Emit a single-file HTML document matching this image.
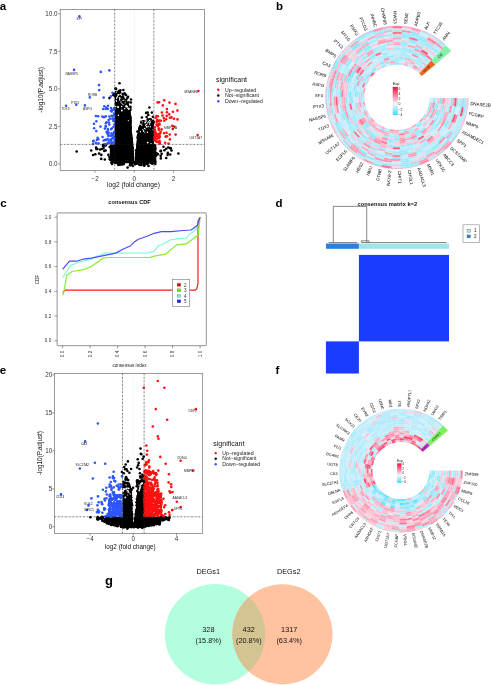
<!DOCTYPE html>
<html><head><meta charset="utf-8"><title>Figure</title>
<style>html,body{margin:0;padding:0;background:#fff;width:491px;height:685px;overflow:hidden}svg{display:block;will-change:transform}text{font-family:'Liberation Sans', sans-serif}</style>
</head><body>
<svg width="491" height="685" viewBox="0 0 491 685" font-family="'Liberation Sans', sans-serif">
<rect width="491" height="685" fill="#fff"/>
<text x="-0.3" y="9.6" font-size="11.5" font-weight="bold">a</text>
<text x="276" y="9.6" font-size="11.5" font-weight="bold">b</text>
<text x="0.2" y="207.2" font-size="11.5" font-weight="bold">c</text>
<text x="275.6" y="207.4" font-size="11.5" font-weight="bold">d</text>
<text x="-0.3" y="373.8" font-size="11.5" font-weight="bold">e</text>
<text x="275.6" y="373.7" font-size="11.5" font-weight="bold">f</text>
<text x="105" y="585.3" font-size="13" font-weight="bold">g</text>
<clipPath id="ca"><rect x="60.2" y="9.4" width="144.4" height="161.1"/></clipPath>
<line x1="134.3" y1="9.4" x2="134.3" y2="170.5" stroke="#d8d8d8" stroke-width="0.5" stroke-dasharray="1 1"/>
<g clip-path="url(#ca)">
<path d="M109.8 144.5 L114.7 144.5 L114.7 93.4 L116.1 91.9 L121.4 97.9 L125.1 101.6 L128.4 105.4 L130.4 109.1 L131 114.4 L131.6 122.8 L131.9 131.5 L132.9 139.4 L133.7 149 L134.2 157.2 L134.4 161 L134.8 161 L135.3 155 L136.1 146 L137 136.9 L138 129.4 L140.4 121.9 L144.1 120.4 L150 120.4 L153.9 121.2 L153.9 144.5 L156.3 144.5 L156.3 161.5 L154.7 161.8 L153.2 162 L151.6 162.2 L150.1 162.4 L148.5 162.6 L147 162.8 L145.4 162.9 L143.9 163 L142.3 163.1 L140.8 163.2 L139.2 163.3 L137.7 163.4 L136.1 163.4 L134.6 163.4 L133 163.4 L131.5 163.4 L129.9 163.3 L128.4 163.3 L126.8 163.2 L125.3 163.1 L123.7 163 L122.2 162.8 L120.6 162.7 L119.1 162.5 L117.5 162.3 L116 162.1 L114.4 161.9 L112.9 161.6 L111.3 161.3 L109.8 161.1Z" fill="#000"/>
<g fill="#000"><circle cx="125.7" cy="104.4" r="1.3"/><circle cx="127.5" cy="105.7" r="1.3"/><circle cx="147.8" cy="119.4" r="1.3"/><circle cx="136.7" cy="152.6" r="1.3"/><circle cx="138" cy="150.6" r="1.3"/><circle cx="150.3" cy="123.2" r="1.3"/><circle cx="130.5" cy="128" r="1.3"/><circle cx="139.6" cy="128.9" r="1.3"/><circle cx="124.4" cy="101.5" r="1.3"/><circle cx="137.2" cy="153.3" r="1.3"/><circle cx="118.1" cy="92.2" r="1.3"/><circle cx="143.2" cy="121.4" r="1.3"/><circle cx="129.4" cy="109.6" r="1.3"/><circle cx="109.4" cy="98.1" r="1.3"/><circle cx="130" cy="125.7" r="1.3"/><circle cx="120.4" cy="97" r="1.3"/><circle cx="137.6" cy="144.3" r="1.3"/><circle cx="141.5" cy="124.5" r="1.3"/><circle cx="122.8" cy="96.5" r="1.3"/><circle cx="132" cy="147.7" r="1.3"/><circle cx="129.7" cy="122.8" r="1.3"/><circle cx="131.5" cy="142.5" r="1.3"/><circle cx="120.1" cy="92.6" r="1.3"/><circle cx="138.6" cy="141.3" r="1.3"/><circle cx="139.3" cy="130.2" r="1.3"/><circle cx="122.1" cy="107.3" r="1.3"/><circle cx="137.6" cy="145.8" r="1.3"/><circle cx="150.7" cy="119.7" r="1.3"/><circle cx="119" cy="98.6" r="1.3"/><circle cx="131.7" cy="149.7" r="1.3"/><circle cx="113.6" cy="95.2" r="1.3"/><circle cx="130.2" cy="128.5" r="1.3"/><circle cx="130" cy="126.3" r="1.3"/><circle cx="116.5" cy="106.9" r="1.3"/><circle cx="137.3" cy="154.6" r="1.3"/><circle cx="131" cy="99.5" r="1.3"/><circle cx="138.7" cy="138.9" r="1.3"/><circle cx="138.6" cy="135.2" r="1.3"/><circle cx="131.9" cy="151.5" r="1.3"/><circle cx="130.4" cy="119.7" r="1.3"/><circle cx="130.3" cy="121.2" r="1.3"/><circle cx="136" cy="150.3" r="1.3"/><circle cx="121.6" cy="100.1" r="1.3"/><circle cx="125.2" cy="106.9" r="1.3"/><circle cx="141.9" cy="117.5" r="1.3"/><circle cx="130.2" cy="129.4" r="1.3"/><circle cx="141.4" cy="124.8" r="1.3"/><circle cx="139.2" cy="133.8" r="1.3"/><circle cx="131.7" cy="155.8" r="1.3"/><circle cx="132" cy="148" r="1.3"/><circle cx="129.9" cy="132.5" r="1.3"/><circle cx="132.4" cy="147.6" r="1.3"/><circle cx="130.9" cy="135.9" r="1.3"/><circle cx="132.5" cy="156.2" r="1.3"/><circle cx="117.4" cy="95.6" r="1.3"/><circle cx="152.9" cy="116.8" r="1.3"/><circle cx="129" cy="113.1" r="1.3"/><circle cx="129.4" cy="121.8" r="1.3"/><circle cx="131" cy="137.5" r="1.3"/><circle cx="127.6" cy="107.5" r="1.3"/><circle cx="119.6" cy="91.1" r="1.3"/><circle cx="136.4" cy="160.9" r="1.3"/><circle cx="141.5" cy="123" r="1.3"/><circle cx="146.5" cy="123" r="1.3"/><circle cx="127.4" cy="103.4" r="1.3"/><circle cx="139.5" cy="130.3" r="1.3"/><circle cx="146.8" cy="128.4" r="1.3"/><circle cx="136.9" cy="151.7" r="1.3"/><circle cx="138.3" cy="143.2" r="1.3"/><circle cx="132.1" cy="148.8" r="1.3"/><circle cx="129.3" cy="109.4" r="1.3"/><circle cx="128.4" cy="108.3" r="1.3"/><circle cx="115.4" cy="96.6" r="1.3"/><circle cx="144.9" cy="123.2" r="1.3"/><circle cx="131.7" cy="144.5" r="1.3"/><circle cx="119.4" cy="97.5" r="1.3"/><circle cx="131.9" cy="146.4" r="1.3"/><circle cx="136.3" cy="153.6" r="1.3"/><circle cx="132.5" cy="156.2" r="1.3"/><circle cx="114.2" cy="93.8" r="1.3"/><circle cx="117" cy="92.4" r="1.3"/><circle cx="132.8" cy="160.7" r="1.3"/><circle cx="132.8" cy="157.3" r="1.3"/><circle cx="129.9" cy="132.2" r="1.3"/><circle cx="138" cy="137.4" r="1.3"/><circle cx="130.9" cy="141.6" r="1.3"/><circle cx="148.9" cy="122.6" r="1.3"/><circle cx="120.4" cy="90.2" r="1.3"/><circle cx="131.6" cy="144.4" r="1.3"/><circle cx="136.3" cy="154.6" r="1.3"/><circle cx="136.8" cy="151.4" r="1.3"/><circle cx="129.3" cy="114.8" r="1.3"/><circle cx="139.1" cy="136.3" r="1.3"/><circle cx="130.4" cy="128" r="1.3"/><circle cx="122.3" cy="99.9" r="1.3"/><circle cx="141.5" cy="121.7" r="1.3"/><circle cx="139.9" cy="127.6" r="1.3"/><circle cx="138.9" cy="132.5" r="1.3"/><circle cx="140.1" cy="139.9" r="1.3"/><circle cx="130.2" cy="132.8" r="1.3"/><circle cx="132.7" cy="159.9" r="1.3"/><circle cx="132.3" cy="159.2" r="1.3"/><circle cx="140" cy="126.9" r="1.3"/><circle cx="131.2" cy="138" r="1.3"/><circle cx="132.3" cy="155.8" r="1.3"/><circle cx="136.3" cy="157.3" r="1.3"/><circle cx="132.7" cy="157" r="1.3"/><circle cx="129.6" cy="128.5" r="1.3"/><circle cx="130.3" cy="127.3" r="1.3"/><circle cx="131.7" cy="144.1" r="1.3"/><circle cx="145.9" cy="123.8" r="1.3"/><circle cx="150.2" cy="122.7" r="1.3"/><circle cx="132" cy="160" r="1.3"/><circle cx="136.2" cy="159.7" r="1.3"/><circle cx="132.7" cy="148.1" r="1.3"/><circle cx="153.1" cy="123.2" r="1.3"/><circle cx="127.9" cy="106.8" r="1.3"/><circle cx="123.1" cy="103.5" r="1.3"/><circle cx="137.2" cy="158.4" r="1.3"/><circle cx="130.8" cy="135.9" r="1.3"/><circle cx="129" cy="110.9" r="1.3"/><circle cx="130" cy="125.7" r="1.3"/><circle cx="116.1" cy="94.5" r="1.3"/><circle cx="137.6" cy="137.4" r="1.3"/><circle cx="129.1" cy="118.9" r="1.3"/><circle cx="129.8" cy="118.5" r="1.3"/><circle cx="152.9" cy="124.1" r="1.3"/><circle cx="142.5" cy="123.5" r="1.3"/><circle cx="125.1" cy="109.6" r="1.3"/><circle cx="138.7" cy="154.9" r="1.3"/><circle cx="138.7" cy="146.4" r="1.3"/><circle cx="130.9" cy="102.5" r="1.3"/><circle cx="129.8" cy="128.4" r="1.3"/><circle cx="136.9" cy="155.3" r="1.3"/><circle cx="132.1" cy="157" r="1.3"/><circle cx="123.9" cy="98.7" r="1.3"/><circle cx="136.8" cy="159.5" r="1.3"/><circle cx="121.7" cy="100.2" r="1.3"/><circle cx="130.2" cy="122.3" r="1.3"/><circle cx="120.5" cy="97.4" r="1.3"/><circle cx="139.6" cy="137.3" r="1.3"/><circle cx="144.9" cy="122.6" r="1.3"/><circle cx="140.4" cy="126.9" r="1.3"/><circle cx="116.2" cy="92" r="1.3"/><circle cx="139.5" cy="137.6" r="1.3"/><circle cx="137.6" cy="148.5" r="1.3"/><circle cx="122.7" cy="94.1" r="1.3"/><circle cx="131.2" cy="139.6" r="1.3"/><circle cx="130.3" cy="117" r="1.3"/><circle cx="127.4" cy="108" r="1.3"/><circle cx="122.9" cy="96.9" r="1.3"/><circle cx="128.1" cy="105.9" r="1.3"/><circle cx="131.9" cy="145.7" r="1.3"/><circle cx="121.6" cy="99.6" r="1.3"/><circle cx="141.2" cy="124.5" r="1.3"/><circle cx="123.4" cy="90" r="1.3"/><circle cx="120" cy="101.1" r="1.3"/><circle cx="132.7" cy="156.5" r="1.3"/><circle cx="132" cy="159.5" r="1.3"/><circle cx="132.3" cy="160.2" r="1.3"/><circle cx="136.6" cy="159.3" r="1.3"/><circle cx="118.1" cy="94.1" r="1.3"/><circle cx="130.6" cy="118" r="1.3"/><circle cx="141.5" cy="124.1" r="1.3"/><circle cx="137.1" cy="154" r="1.3"/><circle cx="132.5" cy="153.5" r="1.3"/><circle cx="138.1" cy="141.8" r="1.3"/><circle cx="129.1" cy="121.7" r="1.3"/><circle cx="141.6" cy="123.3" r="1.3"/><circle cx="137.2" cy="152.4" r="1.3"/><circle cx="138.4" cy="139.8" r="1.3"/><circle cx="130.3" cy="123.8" r="1.3"/><circle cx="136.7" cy="159.5" r="1.3"/><circle cx="139.6" cy="129.6" r="1.3"/><circle cx="131.9" cy="142.8" r="1.3"/><circle cx="132.8" cy="159.6" r="1.3"/><circle cx="131.7" cy="155.3" r="1.3"/><circle cx="131.1" cy="142.1" r="1.3"/><circle cx="138.1" cy="135.4" r="1.3"/><circle cx="129.5" cy="121.4" r="1.3"/><circle cx="129.3" cy="132.5" r="1.3"/><circle cx="115.1" cy="96" r="1.3"/><circle cx="132.4" cy="155.7" r="1.3"/><circle cx="143.6" cy="121.9" r="1.3"/><circle cx="132.9" cy="158.8" r="1.3"/><circle cx="118.9" cy="91.1" r="1.3"/><circle cx="132.6" cy="159.5" r="1.3"/><circle cx="130.4" cy="132.4" r="1.3"/><circle cx="116.6" cy="92.5" r="1.3"/><circle cx="130.2" cy="120.7" r="1.3"/><circle cx="131.4" cy="140.2" r="1.3"/><circle cx="139.1" cy="136.8" r="1.3"/><circle cx="132.4" cy="157.5" r="1.3"/><circle cx="132.1" cy="153.5" r="1.3"/><circle cx="149.5" cy="127.7" r="1.3"/><circle cx="132.1" cy="154.3" r="1.3"/><circle cx="136.8" cy="154.4" r="1.3"/><circle cx="128.9" cy="112.3" r="1.3"/><circle cx="129.8" cy="123.4" r="1.3"/><circle cx="129" cy="111.7" r="1.3"/><circle cx="145.5" cy="123.6" r="1.3"/><circle cx="136.4" cy="159" r="1.3"/><circle cx="132.5" cy="159.6" r="1.3"/><circle cx="126" cy="95.1" r="1.3"/><circle cx="130.7" cy="134.2" r="1.3"/><circle cx="121.4" cy="101.7" r="1.3"/><circle cx="127.2" cy="107.7" r="1.3"/><circle cx="137.8" cy="151.2" r="1.3"/><circle cx="128.6" cy="102.3" r="1.3"/><circle cx="140.1" cy="134.5" r="1.3"/><circle cx="150.4" cy="119.2" r="1.3"/><circle cx="139.4" cy="131.7" r="1.3"/><circle cx="136.9" cy="151.4" r="1.3"/><circle cx="131.8" cy="142.4" r="1.3"/><circle cx="128.9" cy="117.9" r="1.3"/><circle cx="129.3" cy="118.9" r="1.3"/><circle cx="137.9" cy="147" r="1.3"/><circle cx="130.2" cy="141" r="1.3"/><circle cx="146" cy="123.6" r="1.3"/><circle cx="150" cy="119.4" r="1.3"/><circle cx="153.6" cy="122" r="1.3"/><circle cx="119.7" cy="97.3" r="1.3"/><circle cx="131.4" cy="146.8" r="1.3"/><circle cx="140.2" cy="127.9" r="1.3"/><circle cx="130.5" cy="106.9" r="1.3"/><circle cx="129" cy="108.7" r="1.3"/><circle cx="128.9" cy="119.5" r="1.3"/><circle cx="138.5" cy="140" r="1.3"/><circle cx="130.1" cy="108.6" r="1.3"/><circle cx="118.3" cy="93.8" r="1.3"/><circle cx="138.1" cy="143.1" r="1.3"/><circle cx="130.6" cy="135" r="1.3"/><circle cx="137.7" cy="147.2" r="1.3"/><circle cx="131.4" cy="142.8" r="1.3"/><circle cx="138.2" cy="142.4" r="1.3"/><circle cx="130.6" cy="135.6" r="1.3"/><circle cx="125.8" cy="108.2" r="1.3"/><circle cx="129.2" cy="122.4" r="1.3"/><circle cx="132.7" cy="156.7" r="1.3"/><circle cx="141.5" cy="124.5" r="1.3"/><circle cx="132.6" cy="153.9" r="1.3"/><circle cx="138.2" cy="150.8" r="1.3"/><circle cx="137.4" cy="131.5" r="1.3"/><circle cx="129.8" cy="115.2" r="1.3"/><circle cx="132.7" cy="151.8" r="1.3"/><circle cx="131.2" cy="138.6" r="1.3"/><circle cx="129.5" cy="130.3" r="1.3"/><circle cx="128.1" cy="96.8" r="1.3"/><circle cx="139.5" cy="128.9" r="1.3"/><circle cx="149.4" cy="107.5" r="1.3"/><circle cx="113.6" cy="94.6" r="1.3"/><circle cx="138.4" cy="135.3" r="1.3"/><circle cx="129.7" cy="126.4" r="1.3"/><circle cx="130.9" cy="134.9" r="1.3"/><circle cx="132.1" cy="158.8" r="1.3"/><circle cx="140.7" cy="125.6" r="1.3"/><circle cx="126.1" cy="106.8" r="1.3"/><circle cx="125.8" cy="103.6" r="1.3"/><circle cx="140.2" cy="127.7" r="1.3"/><circle cx="146.6" cy="117" r="1.3"/><circle cx="147.7" cy="112.5" r="1.3"/><circle cx="119.5" cy="91.2" r="1.3"/><circle cx="118.5" cy="92.5" r="1.3"/><circle cx="126.2" cy="99.7" r="1.3"/><circle cx="119.5" cy="83.2" r="1.3"/><circle cx="148.3" cy="114.9" r="1.3"/><circle cx="125.4" cy="94.5" r="1.3"/><circle cx="117.9" cy="93.7" r="1.3"/><circle cx="149.2" cy="120.4" r="1.3"/><circle cx="153.1" cy="120.8" r="1.3"/><circle cx="115.5" cy="88.6" r="1.3"/><circle cx="126.6" cy="102.4" r="1.3"/><circle cx="127.6" cy="104.2" r="1.3"/><circle cx="120.1" cy="96.4" r="1.3"/><circle cx="105.6" cy="150.5" r="1.3"/><circle cx="160.8" cy="150.7" r="1.3"/><circle cx="104.3" cy="150.9" r="1.3"/><circle cx="109.3" cy="157" r="1.3"/><circle cx="154.7" cy="159" r="1.3"/><circle cx="163.5" cy="146.8" r="1.3"/><circle cx="156.4" cy="153.4" r="1.3"/><circle cx="105.8" cy="145.3" r="1.3"/><circle cx="101.2" cy="158.9" r="1.3"/><circle cx="95.3" cy="154.2" r="1.3"/><circle cx="96.3" cy="149" r="1.3"/><circle cx="103.1" cy="144.8" r="1.3"/><circle cx="153.9" cy="159.5" r="1.3"/><circle cx="112.3" cy="148.5" r="1.3"/><circle cx="153.7" cy="160.7" r="1.3"/><circle cx="103.5" cy="148" r="1.3"/><circle cx="104.7" cy="145.7" r="1.3"/><circle cx="153.6" cy="149.5" r="1.3"/><circle cx="167.8" cy="152.9" r="1.3"/><circle cx="108.3" cy="154.7" r="1.3"/><circle cx="100.1" cy="149.5" r="1.3"/><circle cx="160.8" cy="158.4" r="1.3"/><circle cx="109.7" cy="147" r="1.3"/><circle cx="164.4" cy="150.3" r="1.3"/><circle cx="170.8" cy="148.4" r="1.3"/><circle cx="170" cy="148.1" r="1.3"/><circle cx="153.4" cy="161.3" r="1.3"/><circle cx="154.3" cy="156.5" r="1.3"/><circle cx="104.8" cy="159.5" r="1.3"/><circle cx="154.9" cy="148.9" r="1.3"/><circle cx="161.7" cy="153.7" r="1.3"/><circle cx="166.2" cy="148.8" r="1.3"/><circle cx="112.7" cy="146.5" r="1.3"/><circle cx="153.4" cy="152.3" r="1.3"/><circle cx="111.1" cy="146.4" r="1.3"/><circle cx="112.3" cy="156.2" r="1.3"/><circle cx="97.4" cy="149.1" r="1.3"/><circle cx="109.7" cy="159.3" r="1.3"/><circle cx="166.2" cy="158" r="1.3"/><circle cx="111.6" cy="156.6" r="1.3"/><circle cx="170.2" cy="154.5" r="1.3"/><circle cx="110.9" cy="160.2" r="1.3"/><circle cx="153.7" cy="149.9" r="1.3"/><circle cx="153.7" cy="151.5" r="1.3"/><circle cx="101.3" cy="154.9" r="1.3"/><circle cx="160.7" cy="151.3" r="1.3"/><circle cx="99.1" cy="153.6" r="1.3"/><circle cx="157.3" cy="153.8" r="1.3"/><circle cx="155.4" cy="148.5" r="1.3"/><circle cx="102" cy="149" r="1.3"/><circle cx="156.3" cy="155.6" r="1.3"/><circle cx="158" cy="154.2" r="1.3"/><circle cx="154.4" cy="145.2" r="1.3"/><circle cx="160.7" cy="155.9" r="1.3"/><circle cx="168.2" cy="147.5" r="1.3"/><circle cx="152.2" cy="162.3" r="1.3"/><circle cx="144.2" cy="165.8" r="1.3"/><circle cx="131.9" cy="163.4" r="1.3"/><circle cx="135" cy="163.9" r="1.3"/><circle cx="111.3" cy="162.7" r="1.3"/><circle cx="148.5" cy="165.9" r="1.3"/><circle cx="144.6" cy="165" r="1.3"/><circle cx="131.3" cy="163.6" r="1.3"/><circle cx="123.2" cy="164.3" r="1.3"/><circle cx="136.8" cy="163.7" r="1.3"/><circle cx="115.7" cy="162.8" r="1.3"/><circle cx="118.4" cy="164.9" r="1.3"/><circle cx="120.1" cy="164.8" r="1.3"/><circle cx="135" cy="164.2" r="1.3"/><circle cx="132.8" cy="166" r="1.3"/><circle cx="112.1" cy="164" r="1.3"/><circle cx="134.8" cy="163.5" r="1.3"/><circle cx="155.4" cy="161.8" r="1.3"/><circle cx="143.6" cy="163.9" r="1.3"/><circle cx="121.8" cy="164.2" r="1.3"/><circle cx="132.2" cy="163.5" r="1.3"/><circle cx="121.3" cy="163.3" r="1.3"/><circle cx="130" cy="165.2" r="1.3"/><circle cx="119" cy="162.5" r="1.3"/><circle cx="148.5" cy="162.7" r="1.3"/><circle cx="139.1" cy="164.4" r="1.3"/><circle cx="155.1" cy="162.5" r="1.3"/><circle cx="151" cy="162.9" r="1.3"/><circle cx="117.8" cy="163" r="1.3"/><circle cx="117.5" cy="163.2" r="1.3"/><circle cx="141.2" cy="163.3" r="1.3"/><circle cx="146.5" cy="163.2" r="1.3"/><circle cx="154.7" cy="161.8" r="1.3"/><circle cx="113.5" cy="162" r="1.3"/><circle cx="121.7" cy="163" r="1.3"/><circle cx="152" cy="162.3" r="1.3"/><circle cx="112.2" cy="162" r="1.3"/><circle cx="135.6" cy="163.8" r="1.3"/><circle cx="145" cy="163.1" r="1.3"/><circle cx="120.9" cy="162.9" r="1.3"/><circle cx="120.2" cy="163" r="1.3"/><circle cx="152" cy="162.5" r="1.3"/><circle cx="115.2" cy="162.8" r="1.3"/><circle cx="131" cy="163.4" r="1.3"/><circle cx="155.3" cy="164" r="1.3"/><circle cx="122" cy="164.2" r="1.3"/><circle cx="130.9" cy="164.7" r="1.3"/><circle cx="140.1" cy="164.9" r="1.3"/><circle cx="130.3" cy="163.5" r="1.3"/><circle cx="147.2" cy="164.1" r="1.3"/><circle cx="130.3" cy="165.1" r="1.3"/><circle cx="141.6" cy="165" r="1.3"/><circle cx="113.7" cy="161.9" r="1.3"/><circle cx="121.6" cy="163.1" r="1.3"/><circle cx="130.5" cy="164.5" r="1.3"/><circle cx="153.3" cy="162.7" r="1.3"/><circle cx="127.6" cy="167.6" r="1.3"/><circle cx="146.8" cy="163.2" r="1.3"/><circle cx="152.3" cy="163.8" r="1.3"/><circle cx="124" cy="163.8" r="1.3"/><circle cx="116.1" cy="88.9" r="1.3"/><circle cx="124.5" cy="93.4" r="1.3"/><circle cx="127.4" cy="97.9" r="1.3"/><circle cx="130.4" cy="109.9" r="1.3"/><circle cx="146.1" cy="112.9" r="1.3"/><circle cx="151.9" cy="112.6" r="1.3"/><circle cx="76.7" cy="151.5" r="1.3"/><circle cx="91.2" cy="150.5" r="1.3"/><circle cx="96.1" cy="147.5" r="1.3"/><circle cx="167.6" cy="155" r="1.3"/><circle cx="171.5" cy="150.5" r="1.3"/><circle cx="178.4" cy="153.5" r="1.3"/><circle cx="102.9" cy="146" r="1.3"/><circle cx="93.1" cy="155" r="1.3"/></g>
<g fill="#fff"><circle cx="116.3" cy="100.4" r="0.6"/><circle cx="128.1" cy="108.2" r="0.8"/><circle cx="148" cy="126.6" r="0.8"/><circle cx="143.7" cy="131.4" r="0.7"/><circle cx="118.1" cy="107.2" r="0.8"/><circle cx="116.9" cy="97.8" r="0.7"/><circle cx="121" cy="102" r="0.7"/><circle cx="150.2" cy="122" r="0.5"/><circle cx="148.5" cy="122" r="0.8"/><circle cx="142.3" cy="121.8" r="0.6"/><circle cx="128.6" cy="109.2" r="0.7"/><circle cx="145.5" cy="128.9" r="0.5"/><circle cx="125.1" cy="102.8" r="0.6"/><circle cx="123.1" cy="100.4" r="0.7"/><circle cx="124.8" cy="108.7" r="0.7"/><circle cx="119.6" cy="99" r="0.7"/><circle cx="126.5" cy="105.9" r="0.6"/><circle cx="119.8" cy="97.9" r="0.7"/><circle cx="149.6" cy="120.5" r="0.7"/><circle cx="118.4" cy="115.2" r="0.7"/><circle cx="127.4" cy="106.4" r="0.6"/><circle cx="152.9" cy="129.7" r="0.5"/><circle cx="150.3" cy="126.8" r="0.7"/><circle cx="116.4" cy="98.6" r="0.5"/><circle cx="118.2" cy="106.9" r="0.9"/><circle cx="149.8" cy="122.4" r="0.6"/><circle cx="116.4" cy="92.2" r="0.6"/><circle cx="121.6" cy="106.5" r="0.7"/><circle cx="144.8" cy="132.8" r="0.5"/><circle cx="146.5" cy="126.9" r="0.8"/><circle cx="126.4" cy="106.5" r="0.9"/><circle cx="126.3" cy="106.7" r="0.8"/><circle cx="146.6" cy="124.4" r="0.7"/><circle cx="121.9" cy="110.5" r="0.9"/><circle cx="121.9" cy="103.3" r="0.6"/><circle cx="126" cy="105.7" r="0.7"/><circle cx="150.3" cy="121.7" r="0.5"/><circle cx="151" cy="143.4" r="0.6"/><circle cx="145.2" cy="122.5" r="0.9"/><circle cx="119.7" cy="100.1" r="0.7"/><circle cx="117.4" cy="96.8" r="0.7"/><circle cx="144.5" cy="128.4" r="0.7"/><circle cx="123" cy="104.6" r="0.7"/><circle cx="147.5" cy="122.9" r="0.7"/><circle cx="115.6" cy="106.5" r="0.7"/><circle cx="140.4" cy="131.7" r="0.7"/><circle cx="120" cy="98.4" r="0.5"/><circle cx="143.7" cy="130.3" r="0.6"/><circle cx="140.2" cy="124.3" r="0.8"/><circle cx="127.8" cy="107.9" r="0.6"/><circle cx="142.7" cy="129.6" r="0.6"/><circle cx="149.7" cy="124.1" r="0.8"/><circle cx="117.3" cy="107.1" r="0.5"/><circle cx="129.5" cy="109.1" r="0.5"/><circle cx="147.4" cy="132.3" r="0.8"/><circle cx="119.3" cy="97.5" r="0.5"/><circle cx="141.7" cy="125.2" r="0.6"/><circle cx="118.2" cy="95" r="0.9"/><circle cx="141.7" cy="124" r="0.6"/><circle cx="146.1" cy="121.3" r="0.8"/><circle cx="145.7" cy="125.2" r="0.8"/><circle cx="116.5" cy="101.6" r="0.5"/><circle cx="129.7" cy="108.5" r="0.5"/><circle cx="147.7" cy="142.6" r="0.9"/><circle cx="128.3" cy="120.6" r="0.6"/></g>
<g fill="#2e55ff"><circle cx="111.6" cy="111.4" r="1.3"/><circle cx="113.9" cy="109.7" r="1.3"/><circle cx="109.3" cy="124.6" r="1.3"/><circle cx="114.3" cy="124.5" r="1.3"/><circle cx="107.5" cy="133.5" r="1.3"/><circle cx="114.1" cy="141.6" r="1.3"/><circle cx="114" cy="132.8" r="1.3"/><circle cx="107.6" cy="143.3" r="1.3"/><circle cx="111.6" cy="133.3" r="1.3"/><circle cx="111.7" cy="128.6" r="1.3"/><circle cx="110.4" cy="139.6" r="1.3"/><circle cx="107.8" cy="129" r="1.3"/><circle cx="112.1" cy="110" r="1.3"/><circle cx="108.7" cy="140.8" r="1.3"/><circle cx="105.9" cy="126.6" r="1.3"/><circle cx="112.2" cy="138.6" r="1.3"/><circle cx="114.1" cy="138.4" r="1.3"/><circle cx="112.6" cy="135.2" r="1.3"/><circle cx="105.7" cy="126" r="1.3"/><circle cx="113.3" cy="134.3" r="1.3"/><circle cx="111.4" cy="142.7" r="1.3"/><circle cx="111.1" cy="129.3" r="1.3"/><circle cx="106.6" cy="132.1" r="1.3"/><circle cx="108.9" cy="122.5" r="1.3"/><circle cx="113.4" cy="127" r="1.3"/><circle cx="111.2" cy="140.8" r="1.3"/><circle cx="114.3" cy="108.6" r="1.3"/><circle cx="114" cy="113.6" r="1.3"/><circle cx="112" cy="142.8" r="1.3"/><circle cx="105.9" cy="123.3" r="1.3"/><circle cx="111.6" cy="115.7" r="1.3"/><circle cx="108.7" cy="132.7" r="1.3"/><circle cx="108.6" cy="120.1" r="1.3"/><circle cx="113.5" cy="121" r="1.3"/><circle cx="106.5" cy="122.2" r="1.3"/><circle cx="107.8" cy="108.9" r="1.3"/><circle cx="107.8" cy="130.8" r="1.3"/><circle cx="110.2" cy="118.8" r="1.3"/><circle cx="109.5" cy="143" r="1.3"/><circle cx="114.1" cy="137.6" r="1.3"/><circle cx="107.6" cy="139.1" r="1.3"/><circle cx="112.4" cy="116.4" r="1.3"/><circle cx="113.7" cy="137.3" r="1.3"/><circle cx="112.8" cy="143.5" r="1.3"/><circle cx="108.4" cy="136" r="1.3"/><circle cx="111.6" cy="135.6" r="1.3"/><circle cx="114.1" cy="115.4" r="1.3"/><circle cx="113.7" cy="137.1" r="1.3"/><circle cx="108.6" cy="135.1" r="1.3"/><circle cx="110.7" cy="135.7" r="1.3"/><circle cx="102.6" cy="137" r="1.3"/><circle cx="105.2" cy="144.1" r="1.3"/><circle cx="114.2" cy="131.7" r="1.3"/><circle cx="95.9" cy="116" r="1.3"/><circle cx="96.3" cy="131.1" r="1.3"/><circle cx="100.5" cy="126.6" r="1.3"/><circle cx="98.2" cy="116.2" r="1.3"/><circle cx="107.8" cy="133.4" r="1.3"/><circle cx="96.9" cy="139.7" r="1.3"/><circle cx="112.9" cy="119.3" r="1.3"/><circle cx="114.2" cy="119.5" r="1.3"/><circle cx="93.2" cy="140.9" r="1.3"/><circle cx="97.6" cy="137.8" r="1.3"/><circle cx="109.4" cy="116.5" r="1.3"/><circle cx="94" cy="123.7" r="1.3"/><circle cx="105.7" cy="116.4" r="1.3"/><circle cx="102.4" cy="116.6" r="1.3"/><circle cx="98.5" cy="143.4" r="1.3"/><circle cx="96.4" cy="121.3" r="1.3"/><circle cx="94.1" cy="128.2" r="1.3"/><circle cx="113.9" cy="120.3" r="1.3"/><circle cx="106" cy="140.1" r="1.3"/><circle cx="110.8" cy="140" r="1.3"/><circle cx="95.9" cy="142.9" r="1.3"/><circle cx="93.1" cy="143.9" r="1.3"/><circle cx="98.4" cy="139.3" r="1.3"/><circle cx="103.7" cy="140.6" r="1.3"/><circle cx="93.6" cy="141.1" r="1.3"/><circle cx="104.9" cy="128.6" r="1.3"/><circle cx="105.3" cy="139.7" r="1.3"/><circle cx="110.9" cy="96.4" r="1.3"/><circle cx="112.9" cy="118.5" r="1.3"/><circle cx="103.7" cy="97.6" r="1.3"/><circle cx="106.3" cy="107.6" r="1.3"/><circle cx="103.2" cy="109" r="1.3"/><circle cx="114.2" cy="108.4" r="1.3"/><circle cx="108.1" cy="105.7" r="1.3"/><circle cx="103.9" cy="117.3" r="1.3"/><circle cx="104.3" cy="106.3" r="1.3"/><circle cx="105.7" cy="109" r="1.3"/><circle cx="110.9" cy="110.8" r="1.3"/><circle cx="111.1" cy="108" r="1.3"/><circle cx="74.1" cy="69.9" r="1.3"/><circle cx="100.8" cy="71.9" r="1.3"/><circle cx="109.4" cy="70.4" r="1.3"/><circle cx="99" cy="85.1" r="1.3"/><circle cx="99.2" cy="90.1" r="1.3"/><circle cx="89.8" cy="97.4" r="1.3"/><circle cx="76.3" cy="104.8" r="1.3"/><circle cx="66.1" cy="105.8" r="1.3"/><circle cx="84.9" cy="105.4" r="1.3"/><circle cx="112.5" cy="92.8" r="1.3"/><circle cx="79.4" cy="16.4" r="1.3"/></g>
<g fill="#ff1010"><circle cx="158" cy="124.8" r="1.3"/><circle cx="155.1" cy="134.3" r="1.3"/><circle cx="157.5" cy="125.1" r="1.3"/><circle cx="158.8" cy="130" r="1.3"/><circle cx="158.5" cy="134.3" r="1.3"/><circle cx="159.5" cy="124.6" r="1.3"/><circle cx="157.7" cy="141.9" r="1.3"/><circle cx="156.7" cy="138.7" r="1.3"/><circle cx="155.2" cy="137.9" r="1.3"/><circle cx="159.7" cy="136.7" r="1.3"/><circle cx="156.7" cy="135.9" r="1.3"/><circle cx="155.2" cy="131.3" r="1.3"/><circle cx="156.6" cy="122.1" r="1.3"/><circle cx="158.1" cy="121" r="1.3"/><circle cx="160" cy="133.3" r="1.3"/><circle cx="154.3" cy="139.8" r="1.3"/><circle cx="154.8" cy="127.2" r="1.3"/><circle cx="154.9" cy="129.5" r="1.3"/><circle cx="156" cy="133.6" r="1.3"/><circle cx="159.2" cy="137.9" r="1.3"/><circle cx="155.1" cy="138.1" r="1.3"/><circle cx="160.6" cy="131.8" r="1.3"/><circle cx="155.8" cy="141.3" r="1.3"/><circle cx="154.5" cy="137.1" r="1.3"/><circle cx="158.1" cy="134.1" r="1.3"/><circle cx="159.6" cy="120.6" r="1.3"/><circle cx="157.7" cy="136.8" r="1.3"/><circle cx="159.5" cy="142.5" r="1.3"/><circle cx="159.2" cy="123.5" r="1.3"/><circle cx="159.3" cy="142.3" r="1.3"/><circle cx="157.8" cy="125.5" r="1.3"/><circle cx="156.6" cy="124.5" r="1.3"/><circle cx="155" cy="132.4" r="1.3"/><circle cx="157.7" cy="125.9" r="1.3"/><circle cx="156.6" cy="138.8" r="1.3"/><circle cx="158.8" cy="142" r="1.3"/><circle cx="156.3" cy="133.9" r="1.3"/><circle cx="159.4" cy="134.9" r="1.3"/><circle cx="166.7" cy="115.9" r="1.3"/><circle cx="169.5" cy="102.6" r="1.3"/><circle cx="164.3" cy="120.8" r="1.3"/><circle cx="154.6" cy="137.1" r="1.3"/><circle cx="159.3" cy="136.3" r="1.3"/><circle cx="165.7" cy="136.8" r="1.3"/><circle cx="166.9" cy="109.1" r="1.3"/><circle cx="155.6" cy="135" r="1.3"/><circle cx="165.1" cy="142.7" r="1.3"/><circle cx="157" cy="120.6" r="1.3"/><circle cx="162.8" cy="105.4" r="1.3"/><circle cx="166.9" cy="112.3" r="1.3"/><circle cx="161.6" cy="129.4" r="1.3"/><circle cx="174" cy="118.8" r="1.3"/><circle cx="175.6" cy="134.6" r="1.3"/><circle cx="156.4" cy="116" r="1.3"/><circle cx="156.6" cy="141.6" r="1.3"/><circle cx="162.6" cy="115.5" r="1.3"/><circle cx="161.9" cy="112.5" r="1.3"/><circle cx="164.1" cy="133.3" r="1.3"/><circle cx="166.1" cy="119.3" r="1.3"/><circle cx="157.2" cy="119.9" r="1.3"/><circle cx="157.6" cy="102.4" r="1.3"/><circle cx="166" cy="136.6" r="1.3"/><circle cx="155" cy="136.2" r="1.3"/><circle cx="160.9" cy="120.7" r="1.3"/><circle cx="169.2" cy="114.4" r="1.3"/><circle cx="163.8" cy="118.1" r="1.3"/><circle cx="166.5" cy="132.8" r="1.3"/><circle cx="158.7" cy="128.4" r="1.3"/><circle cx="169.9" cy="139.4" r="1.3"/><circle cx="168.5" cy="143.6" r="1.3"/><circle cx="157.9" cy="116.3" r="1.3"/><circle cx="172.9" cy="111.8" r="1.3"/><circle cx="169.7" cy="134.6" r="1.3"/><circle cx="177.5" cy="119.4" r="1.3"/><circle cx="175.5" cy="103.9" r="1.3"/><circle cx="159.1" cy="102.3" r="1.3"/><circle cx="155.7" cy="117.8" r="1.3"/><circle cx="159.5" cy="140.9" r="1.3"/><circle cx="166.9" cy="136.3" r="1.3"/><circle cx="172.3" cy="125.7" r="1.3"/><circle cx="159.8" cy="143.8" r="1.3"/><circle cx="169.9" cy="117.8" r="1.3"/><circle cx="172.8" cy="129.1" r="1.3"/><circle cx="198.4" cy="91.1" r="1.3"/><circle cx="197.6" cy="135" r="1.3"/><circle cx="174.3" cy="126.6" r="1.3"/><circle cx="164.3" cy="100.3" r="1.3"/><circle cx="177.4" cy="110.6" r="1.3"/><circle cx="171.5" cy="117.4" r="1.3"/></g>
</g>
<line x1="114.7" y1="9.4" x2="114.7" y2="170.5" stroke="#222" stroke-width="0.6" stroke-dasharray="1.6 0.8 0.4 0.8"/>
<line x1="153.9" y1="9.4" x2="153.9" y2="170.5" stroke="#222" stroke-width="0.6" stroke-dasharray="1.6 0.8 0.4 0.8"/>
<line x1="60.2" y1="144.4" x2="204.6" y2="144.4" stroke="#222" stroke-width="0.6" stroke-dasharray="1.6 0.8 0.4 0.8"/>
<text x="76.5" y="19.6" font-size="3.2" fill="#222">SPI</text>
<text x="65.5" y="74.6" font-size="3.2" fill="#222">NASSP5</text>
<text x="88" y="96.4" font-size="3.2" fill="#222">RORB</text>
<text x="71" y="103.6" font-size="3.2" fill="#222">PTX3</text>
<text x="61.2" y="110.2" font-size="3.2" fill="#222">TOX3</text>
<text x="83" y="109.7" font-size="3.2" fill="#222">ASPG</text>
<text x="184.5" y="92.6" font-size="3.2" fill="#222">MSANE6</text>
<text x="189.5" y="139.4" font-size="3.2" fill="#222">UGT1A7</text>
<text x="164" y="128.6" font-size="3.2" fill="#222">MMP12A</text>
<rect x="60.2" y="9.4" width="144.4" height="161.1" fill="none" stroke="#707070" stroke-width="0.7"/>
<line x1="58" y1="164" x2="60.2" y2="164" stroke="#555" stroke-width="0.6"/>
<text x="57.4" y="166.2" font-size="6.3" text-anchor="end" fill="#333">0.0</text>
<line x1="58" y1="126.4" x2="60.2" y2="126.4" stroke="#555" stroke-width="0.6"/>
<text x="57.4" y="128.6" font-size="6.3" text-anchor="end" fill="#333">2.5</text>
<line x1="58" y1="88.9" x2="60.2" y2="88.9" stroke="#555" stroke-width="0.6"/>
<text x="57.4" y="91.1" font-size="6.3" text-anchor="end" fill="#333">5.0</text>
<line x1="58" y1="51.3" x2="60.2" y2="51.3" stroke="#555" stroke-width="0.6"/>
<text x="57.4" y="53.5" font-size="6.3" text-anchor="end" fill="#333">7.5</text>
<line x1="58" y1="13.7" x2="60.2" y2="13.7" stroke="#555" stroke-width="0.6"/>
<text x="57.4" y="15.9" font-size="6.3" text-anchor="end" fill="#333">10.0</text>
<line x1="95.1" y1="170.5" x2="95.1" y2="172.7" stroke="#555" stroke-width="0.6"/>
<text x="95.1" y="180.8" font-size="6.3" text-anchor="middle" fill="#333">−2</text>
<line x1="134.3" y1="170.5" x2="134.3" y2="172.7" stroke="#555" stroke-width="0.6"/>
<text x="134.3" y="180.8" font-size="6.3" text-anchor="middle" fill="#333">0</text>
<line x1="173.5" y1="170.5" x2="173.5" y2="172.7" stroke="#555" stroke-width="0.6"/>
<text x="173.5" y="180.8" font-size="6.3" text-anchor="middle" fill="#333">2</text>
<text x="133.5" y="186.8" font-size="6.6" text-anchor="middle" fill="#111">log2 (fold change)</text>
<text x="42.8" y="89.8" font-size="6.6" text-anchor="middle" fill="#111" transform="rotate(-90 42.8 89.8)">-log10(P.adjust)</text>
<text x="215.9" y="82.2" font-size="7.0" fill="#111">significant</text>
<circle cx="218.3" cy="89.8" r="1.2" fill="#ff1010"/>
<text x="224.9" y="91.5" font-size="5.2" fill="#222">Up−regulated</text>
<circle cx="218.3" cy="95.5" r="1.2" fill="#000"/>
<text x="224.9" y="97.2" font-size="5.2" fill="#222">Not−significant</text>
<circle cx="218.3" cy="101.2" r="1.2" fill="#2e55ff"/>
<text x="224.9" y="102.9" font-size="5.2" fill="#222">Down−regulated</text>
<clipPath id="ce"><rect x="54.4" y="373.4" width="148.3" height="160"/></clipPath>
<line x1="133.3" y1="373.4" x2="133.3" y2="533.4" stroke="#d8d8d8" stroke-width="0.5" stroke-dasharray="1 1"/>
<g clip-path="url(#ce)">
<path d="M106.3 516.8 L122.5 516.8 L122.5 488 L126.8 487.2 L130.1 488.4 L131.6 489.9 L132.4 508.5 L133.1 521.9 L133.7 521.9 L135.8 508.5 L137.4 489.9 L138.2 484.2 L141.9 482.3 L144.1 483.4 L144.1 516.8 L160.3 516.8 L160.3 522.7 L158.5 523.2 L156.7 523.7 L154.9 524.1 L153.1 524.5 L151.3 524.9 L149.5 525.2 L147.7 525.6 L145.9 525.8 L144.1 526.1 L142.3 526.3 L140.5 526.4 L138.7 526.5 L136.9 526.6 L135.1 526.7 L133.3 526.7 L131.5 526.7 L129.7 526.6 L127.9 526.5 L126.1 526.4 L124.3 526.3 L122.5 526.1 L120.7 525.8 L118.9 525.6 L117.1 525.2 L115.3 524.9 L113.5 524.5 L111.7 524.1 L109.9 523.7 L108.1 523.2 L106.3 522.7Z" fill="#000"/>
<g fill="#000"><circle cx="141.7" cy="490.3" r="1.3"/><circle cx="131.5" cy="489.9" r="1.3"/><circle cx="130.5" cy="502.8" r="1.3"/><circle cx="130.8" cy="506.6" r="1.3"/><circle cx="128.6" cy="483.5" r="1.3"/><circle cx="137.8" cy="500.2" r="1.3"/><circle cx="130.7" cy="514.6" r="1.3"/><circle cx="138.1" cy="498.6" r="1.3"/><circle cx="138.6" cy="495.1" r="1.3"/><circle cx="126.9" cy="493.7" r="1.3"/><circle cx="130" cy="488.2" r="1.3"/><circle cx="136.4" cy="514.5" r="1.3"/><circle cx="139.3" cy="488.3" r="1.3"/><circle cx="137.1" cy="512.8" r="1.3"/><circle cx="130.3" cy="517.4" r="1.3"/><circle cx="130.2" cy="491.2" r="1.3"/><circle cx="130.7" cy="504.7" r="1.3"/><circle cx="136.9" cy="512" r="1.3"/><circle cx="129.9" cy="490.5" r="1.3"/><circle cx="136.7" cy="513.8" r="1.3"/><circle cx="124.8" cy="487.9" r="1.3"/><circle cx="125.7" cy="486.6" r="1.3"/><circle cx="130.1" cy="494.9" r="1.3"/><circle cx="130.7" cy="515.3" r="1.3"/><circle cx="137.8" cy="504.5" r="1.3"/><circle cx="130.3" cy="491.1" r="1.3"/><circle cx="131.1" cy="519.1" r="1.3"/><circle cx="139" cy="490.6" r="1.3"/><circle cx="131" cy="515.9" r="1.3"/><circle cx="130.1" cy="493" r="1.3"/><circle cx="129.9" cy="495.5" r="1.3"/><circle cx="130.6" cy="502.3" r="1.3"/><circle cx="130.6" cy="510.1" r="1.3"/><circle cx="141.3" cy="483.6" r="1.3"/><circle cx="131.7" cy="518.3" r="1.3"/><circle cx="130.4" cy="500.5" r="1.3"/><circle cx="130.1" cy="497.3" r="1.3"/><circle cx="137.1" cy="511.2" r="1.3"/><circle cx="130.5" cy="504.2" r="1.3"/><circle cx="129.2" cy="505.5" r="1.3"/><circle cx="131.2" cy="508.4" r="1.3"/><circle cx="130.4" cy="507.5" r="1.3"/><circle cx="131.5" cy="518.2" r="1.3"/><circle cx="132.1" cy="505.2" r="1.3"/><circle cx="139.4" cy="487.1" r="1.3"/><circle cx="131.6" cy="502.9" r="1.3"/><circle cx="130.5" cy="513" r="1.3"/><circle cx="135.3" cy="520.5" r="1.3"/><circle cx="140.2" cy="490.3" r="1.3"/><circle cx="138.5" cy="498.4" r="1.3"/><circle cx="131" cy="495.7" r="1.3"/><circle cx="138.8" cy="494.8" r="1.3"/><circle cx="144.6" cy="482.1" r="1.3"/><circle cx="129.9" cy="493.6" r="1.3"/><circle cx="139.3" cy="486.7" r="1.3"/><circle cx="137.9" cy="502.7" r="1.3"/><circle cx="131.6" cy="521.2" r="1.3"/><circle cx="137.2" cy="518.6" r="1.3"/><circle cx="143.9" cy="481.1" r="1.3"/><circle cx="138.9" cy="488.1" r="1.3"/><circle cx="125.3" cy="482.7" r="1.3"/><circle cx="137.3" cy="511.3" r="1.3"/><circle cx="129" cy="496.2" r="1.3"/><circle cx="126.1" cy="493.3" r="1.3"/><circle cx="129.9" cy="515" r="1.3"/><circle cx="129.1" cy="489" r="1.3"/><circle cx="139.9" cy="487.9" r="1.3"/><circle cx="135.4" cy="519.6" r="1.3"/><circle cx="131.2" cy="504.1" r="1.3"/><circle cx="135.1" cy="519" r="1.3"/><circle cx="137.3" cy="516.7" r="1.3"/><circle cx="142.2" cy="487" r="1.3"/><circle cx="137.8" cy="506.1" r="1.3"/><circle cx="138.4" cy="503.6" r="1.3"/><circle cx="143.4" cy="480.9" r="1.3"/><circle cx="129.3" cy="497.6" r="1.3"/><circle cx="139.9" cy="487" r="1.3"/><circle cx="136.1" cy="511.9" r="1.3"/><circle cx="139" cy="498.2" r="1.3"/><circle cx="130.6" cy="519.4" r="1.3"/><circle cx="140.7" cy="488.2" r="1.3"/><circle cx="130.2" cy="490.7" r="1.3"/><circle cx="140.5" cy="484.6" r="1.3"/><circle cx="129.4" cy="497.6" r="1.3"/><circle cx="136.5" cy="517.1" r="1.3"/><circle cx="130.8" cy="504" r="1.3"/><circle cx="139" cy="484.8" r="1.3"/><circle cx="130.1" cy="495.4" r="1.3"/><circle cx="132.2" cy="514.5" r="1.3"/><circle cx="129.9" cy="506.8" r="1.3"/><circle cx="139.1" cy="496.1" r="1.3"/><circle cx="130" cy="491.6" r="1.3"/><circle cx="137.5" cy="509.6" r="1.3"/><circle cx="130.1" cy="499.9" r="1.3"/><circle cx="138.7" cy="500" r="1.3"/><circle cx="137.4" cy="508.6" r="1.3"/><circle cx="130" cy="495.6" r="1.3"/><circle cx="137.6" cy="501.2" r="1.3"/><circle cx="137.6" cy="502.4" r="1.3"/><circle cx="138.2" cy="499.1" r="1.3"/><circle cx="131.3" cy="504.6" r="1.3"/><circle cx="137.9" cy="501.1" r="1.3"/><circle cx="138.9" cy="484.5" r="1.3"/><circle cx="139.3" cy="491" r="1.3"/><circle cx="142.6" cy="487.4" r="1.3"/><circle cx="130.4" cy="491.2" r="1.3"/><circle cx="137.5" cy="499.9" r="1.3"/><circle cx="137" cy="514.1" r="1.3"/><circle cx="130.7" cy="507.7" r="1.3"/><circle cx="137.9" cy="497.8" r="1.3"/><circle cx="126.7" cy="493.2" r="1.3"/><circle cx="137.2" cy="511.5" r="1.3"/><circle cx="142.6" cy="487" r="1.3"/><circle cx="135.6" cy="517.7" r="1.3"/><circle cx="138.8" cy="485.2" r="1.3"/><circle cx="125.8" cy="490.3" r="1.3"/><circle cx="135.8" cy="520.3" r="1.3"/><circle cx="138.9" cy="482.9" r="1.3"/><circle cx="129.4" cy="488.5" r="1.3"/><circle cx="130.9" cy="503" r="1.3"/><circle cx="130.7" cy="504.5" r="1.3"/><circle cx="136.9" cy="498.9" r="1.3"/><circle cx="131.9" cy="518.5" r="1.3"/><circle cx="135.9" cy="518.9" r="1.3"/><circle cx="136.7" cy="514.4" r="1.3"/><circle cx="130.1" cy="502.3" r="1.3"/><circle cx="130.5" cy="504.9" r="1.3"/><circle cx="133.1" cy="487.7" r="1.3"/><circle cx="130.3" cy="490.1" r="1.3"/><circle cx="138.7" cy="492.9" r="1.3"/><circle cx="128.2" cy="485.7" r="1.3"/><circle cx="141.3" cy="486.9" r="1.3"/><circle cx="131.1" cy="516.1" r="1.3"/><circle cx="137.5" cy="507.2" r="1.3"/><circle cx="131.2" cy="511.3" r="1.3"/><circle cx="132" cy="518.4" r="1.3"/><circle cx="121.9" cy="472" r="1.3"/><circle cx="136.1" cy="515.7" r="1.3"/><circle cx="130.1" cy="498.7" r="1.3"/><circle cx="130.6" cy="509.4" r="1.3"/><circle cx="125.4" cy="488.7" r="1.3"/><circle cx="125.8" cy="489.5" r="1.3"/><circle cx="130.6" cy="504.2" r="1.3"/><circle cx="131.3" cy="519" r="1.3"/><circle cx="137.9" cy="495.8" r="1.3"/><circle cx="136.3" cy="517.3" r="1.3"/><circle cx="138.9" cy="490.9" r="1.3"/><circle cx="131.3" cy="516.6" r="1.3"/><circle cx="130.3" cy="505.8" r="1.3"/><circle cx="130.5" cy="495" r="1.3"/><circle cx="130.4" cy="500.5" r="1.3"/><circle cx="125.9" cy="489.7" r="1.3"/><circle cx="129.9" cy="496.3" r="1.3"/><circle cx="136.2" cy="510.8" r="1.3"/><circle cx="137.4" cy="509" r="1.3"/><circle cx="138.6" cy="504.2" r="1.3"/><circle cx="131.1" cy="517.3" r="1.3"/><circle cx="131.5" cy="512.5" r="1.3"/><circle cx="130.2" cy="500.3" r="1.3"/><circle cx="137.5" cy="507.3" r="1.3"/><circle cx="138.5" cy="496.3" r="1.3"/><circle cx="130.5" cy="506.4" r="1.3"/><circle cx="135.6" cy="518.6" r="1.3"/><circle cx="130.6" cy="509.4" r="1.3"/><circle cx="130.2" cy="505.2" r="1.3"/><circle cx="137.8" cy="496.3" r="1.3"/><circle cx="129.9" cy="490.3" r="1.3"/><circle cx="137.5" cy="503.3" r="1.3"/><circle cx="142.5" cy="486.2" r="1.3"/><circle cx="141.2" cy="484" r="1.3"/><circle cx="130" cy="495.9" r="1.3"/><circle cx="138.8" cy="489.8" r="1.3"/><circle cx="131.5" cy="519.7" r="1.3"/><circle cx="139.3" cy="487.5" r="1.3"/><circle cx="131.1" cy="505.4" r="1.3"/><circle cx="130.4" cy="497.1" r="1.3"/><circle cx="136.4" cy="516" r="1.3"/><circle cx="138" cy="506.6" r="1.3"/><circle cx="139.8" cy="487.9" r="1.3"/><circle cx="131.6" cy="515.4" r="1.3"/><circle cx="137.2" cy="510.4" r="1.3"/><circle cx="130.5" cy="497.6" r="1.3"/><circle cx="134.9" cy="519.8" r="1.3"/><circle cx="138.8" cy="495.5" r="1.3"/><circle cx="135.6" cy="518.8" r="1.3"/><circle cx="139.3" cy="490.3" r="1.3"/><circle cx="124" cy="485.6" r="1.3"/><circle cx="130.9" cy="509.2" r="1.3"/><circle cx="135.2" cy="519.7" r="1.3"/><circle cx="138.7" cy="494.4" r="1.3"/><circle cx="141.7" cy="483.1" r="1.3"/><circle cx="135.4" cy="519.9" r="1.3"/><circle cx="130.8" cy="506.9" r="1.3"/><circle cx="136.6" cy="510.2" r="1.3"/><circle cx="131.4" cy="517.6" r="1.3"/><circle cx="143.9" cy="487.9" r="1.3"/><circle cx="137.1" cy="481.5" r="1.3"/><circle cx="130.4" cy="508.5" r="1.3"/><circle cx="141" cy="484.4" r="1.3"/><circle cx="139.8" cy="487.3" r="1.3"/><circle cx="130.8" cy="516.1" r="1.3"/><circle cx="131.5" cy="520.3" r="1.3"/><circle cx="130" cy="493.4" r="1.3"/><circle cx="138.9" cy="492.4" r="1.3"/><circle cx="131" cy="498.1" r="1.3"/><circle cx="131.1" cy="514.3" r="1.3"/><circle cx="136.7" cy="486.3" r="1.3"/><circle cx="131.1" cy="497.3" r="1.3"/><circle cx="143.4" cy="489" r="1.3"/><circle cx="130.9" cy="507.9" r="1.3"/><circle cx="136.1" cy="517.5" r="1.3"/><circle cx="137.2" cy="515.6" r="1.3"/><circle cx="140.7" cy="485.7" r="1.3"/><circle cx="131.1" cy="489.3" r="1.3"/><circle cx="131.4" cy="512" r="1.3"/><circle cx="137.7" cy="506.1" r="1.3"/><circle cx="138.4" cy="498.7" r="1.3"/><circle cx="139.2" cy="494" r="1.3"/><circle cx="129.7" cy="500.2" r="1.3"/><circle cx="130.9" cy="516.8" r="1.3"/><circle cx="137.8" cy="502.9" r="1.3"/><circle cx="138.9" cy="490.6" r="1.3"/><circle cx="136.7" cy="510.3" r="1.3"/><circle cx="139.3" cy="484.6" r="1.3"/><circle cx="138.9" cy="491.2" r="1.3"/><circle cx="126.9" cy="487.4" r="1.3"/><circle cx="128.9" cy="495.4" r="1.3"/><circle cx="127.5" cy="491.5" r="1.3"/><circle cx="130.7" cy="514.3" r="1.3"/><circle cx="137.4" cy="508.4" r="1.3"/><circle cx="138" cy="514.6" r="1.3"/><circle cx="136.5" cy="502.3" r="1.3"/><circle cx="137.3" cy="482.2" r="1.3"/><circle cx="131.4" cy="518" r="1.3"/><circle cx="136.6" cy="505.3" r="1.3"/><circle cx="136.6" cy="515.6" r="1.3"/><circle cx="138.9" cy="492.5" r="1.3"/><circle cx="135.9" cy="519" r="1.3"/><circle cx="129.3" cy="496.3" r="1.3"/><circle cx="131.7" cy="516.6" r="1.3"/><circle cx="139.8" cy="481.3" r="1.3"/><circle cx="137" cy="509.2" r="1.3"/><circle cx="138.5" cy="509.4" r="1.3"/><circle cx="131.3" cy="513.8" r="1.3"/><circle cx="129.3" cy="502.3" r="1.3"/><circle cx="130.3" cy="495.7" r="1.3"/><circle cx="130.4" cy="495.9" r="1.3"/><circle cx="137" cy="480.5" r="1.3"/><circle cx="138.6" cy="488" r="1.3"/><circle cx="138.3" cy="501.3" r="1.3"/><circle cx="135.6" cy="514.1" r="1.3"/><circle cx="141.7" cy="483.6" r="1.3"/><circle cx="131.2" cy="516.5" r="1.3"/><circle cx="131.2" cy="517.7" r="1.3"/><circle cx="130.9" cy="497.1" r="1.3"/><circle cx="139.1" cy="490.9" r="1.3"/><circle cx="136.6" cy="514.1" r="1.3"/><circle cx="129.4" cy="491.5" r="1.3"/><circle cx="130.3" cy="500.5" r="1.3"/><circle cx="137.6" cy="504.4" r="1.3"/><circle cx="130.6" cy="503.8" r="1.3"/><circle cx="138.9" cy="493.2" r="1.3"/><circle cx="137.3" cy="491" r="1.3"/><circle cx="136.5" cy="514.1" r="1.3"/><circle cx="136.7" cy="510.2" r="1.3"/><circle cx="137.2" cy="509.8" r="1.3"/><circle cx="130" cy="495.8" r="1.3"/><circle cx="130.7" cy="519.6" r="1.3"/><circle cx="130.2" cy="491.3" r="1.3"/><circle cx="137.7" cy="506.4" r="1.3"/><circle cx="139.5" cy="481.6" r="1.3"/><circle cx="137.4" cy="511.9" r="1.3"/><circle cx="131" cy="508" r="1.3"/><circle cx="130.9" cy="508.3" r="1.3"/><circle cx="129.9" cy="509.6" r="1.3"/><circle cx="136.2" cy="516.7" r="1.3"/><circle cx="130.9" cy="516.8" r="1.3"/><circle cx="139.6" cy="486.3" r="1.3"/><circle cx="126.7" cy="487.2" r="1.3"/><circle cx="138.1" cy="503.5" r="1.3"/><circle cx="140" cy="486.5" r="1.3"/><circle cx="131.4" cy="519.1" r="1.3"/><circle cx="139.7" cy="488" r="1.3"/><circle cx="138.5" cy="494.2" r="1.3"/><circle cx="131.5" cy="500.5" r="1.3"/><circle cx="131" cy="519.7" r="1.3"/><circle cx="138.7" cy="492.1" r="1.3"/><circle cx="141.6" cy="486" r="1.3"/><circle cx="131.6" cy="519.1" r="1.3"/><circle cx="130.3" cy="497.4" r="1.3"/><circle cx="130" cy="491.1" r="1.3"/><circle cx="131.3" cy="517.6" r="1.3"/><circle cx="140.3" cy="488.6" r="1.3"/><circle cx="136.7" cy="515" r="1.3"/><circle cx="137" cy="516.4" r="1.3"/><circle cx="130.5" cy="506" r="1.3"/><circle cx="138.2" cy="503.3" r="1.3"/><circle cx="130.5" cy="501.9" r="1.3"/><circle cx="144.6" cy="478.7" r="1.3"/><circle cx="137.8" cy="505.5" r="1.3"/><circle cx="138.8" cy="497.4" r="1.3"/><circle cx="131.5" cy="517.4" r="1.3"/><circle cx="123.4" cy="486.6" r="1.3"/><circle cx="136.2" cy="519.3" r="1.3"/><circle cx="125.7" cy="487.6" r="1.3"/><circle cx="130.4" cy="498.7" r="1.3"/><circle cx="130" cy="496.6" r="1.3"/><circle cx="135.4" cy="519.3" r="1.3"/><circle cx="125.3" cy="491.7" r="1.3"/><circle cx="130" cy="496" r="1.3"/><circle cx="132" cy="517.8" r="1.3"/><circle cx="130" cy="490.4" r="1.3"/><circle cx="136.4" cy="517.9" r="1.3"/><circle cx="137.2" cy="511.2" r="1.3"/><circle cx="130.8" cy="492.4" r="1.3"/><circle cx="130.5" cy="510.5" r="1.3"/><circle cx="124.8" cy="490.6" r="1.3"/><circle cx="142.5" cy="483.8" r="1.3"/><circle cx="136.8" cy="512.1" r="1.3"/><circle cx="138.8" cy="491.6" r="1.3"/><circle cx="127.7" cy="483.9" r="1.3"/><circle cx="129.3" cy="487.6" r="1.3"/><circle cx="143.1" cy="481.7" r="1.3"/><circle cx="127.4" cy="483" r="1.3"/><circle cx="125.8" cy="479.8" r="1.3"/><circle cx="126.5" cy="469.2" r="1.3"/><circle cx="123.7" cy="473.2" r="1.3"/><circle cx="138" cy="484.7" r="1.3"/><circle cx="124.3" cy="467.1" r="1.3"/><circle cx="129.4" cy="472.7" r="1.3"/><circle cx="137.7" cy="459.3" r="1.3"/><circle cx="129.1" cy="487.2" r="1.3"/><circle cx="123.5" cy="481.7" r="1.3"/><circle cx="142.3" cy="474.8" r="1.3"/><circle cx="129.8" cy="486.7" r="1.3"/><circle cx="140.4" cy="481.4" r="1.3"/><circle cx="123.1" cy="485.3" r="1.3"/><circle cx="140.3" cy="477.4" r="1.3"/><circle cx="126.1" cy="477.1" r="1.3"/><circle cx="139.9" cy="473.2" r="1.3"/><circle cx="137.3" cy="484" r="1.3"/><circle cx="123.3" cy="487.5" r="1.3"/><circle cx="140.3" cy="476.4" r="1.3"/><circle cx="125.5" cy="486.7" r="1.3"/><circle cx="137.7" cy="480.4" r="1.3"/><circle cx="126" cy="477.4" r="1.3"/><circle cx="144" cy="476.1" r="1.3"/><circle cx="125.6" cy="478.9" r="1.3"/><circle cx="140.7" cy="481.9" r="1.3"/><circle cx="125.1" cy="469.2" r="1.3"/><circle cx="125.9" cy="483.1" r="1.3"/><circle cx="142" cy="477.4" r="1.3"/><circle cx="140.5" cy="448.5" r="1.3"/><circle cx="126.7" cy="487" r="1.3"/><circle cx="124.7" cy="483.3" r="1.3"/><circle cx="129.2" cy="484.9" r="1.3"/><circle cx="126.8" cy="478.9" r="1.3"/><circle cx="128.2" cy="480.1" r="1.3"/><circle cx="142.7" cy="458.8" r="1.3"/><circle cx="138.1" cy="465.2" r="1.3"/><circle cx="143.7" cy="456.6" r="1.3"/><circle cx="141.7" cy="479.9" r="1.3"/><circle cx="123.6" cy="484.1" r="1.3"/><circle cx="139.5" cy="469" r="1.3"/><circle cx="127.4" cy="471" r="1.3"/><circle cx="166" cy="517.3" r="1.3"/><circle cx="158.9" cy="518.8" r="1.3"/><circle cx="104.9" cy="521.5" r="1.3"/><circle cx="102.8" cy="521" r="1.3"/><circle cx="168" cy="518.4" r="1.3"/><circle cx="107.4" cy="520.1" r="1.3"/><circle cx="102.2" cy="518" r="1.3"/><circle cx="165.5" cy="517.7" r="1.3"/><circle cx="159.4" cy="519.4" r="1.3"/><circle cx="107.8" cy="519.2" r="1.3"/><circle cx="102.3" cy="518.9" r="1.3"/><circle cx="105.8" cy="519.4" r="1.3"/><circle cx="97.6" cy="517" r="1.3"/><circle cx="101.8" cy="519.3" r="1.3"/><circle cx="169.1" cy="518.2" r="1.3"/><circle cx="160.3" cy="518.8" r="1.3"/><circle cx="160" cy="522.6" r="1.3"/><circle cx="158.7" cy="518.8" r="1.3"/><circle cx="160.6" cy="517.2" r="1.3"/><circle cx="107.2" cy="517.9" r="1.3"/><circle cx="107.1" cy="521.9" r="1.3"/><circle cx="101.5" cy="517" r="1.3"/><circle cx="107.9" cy="518.5" r="1.3"/><circle cx="158.7" cy="519.3" r="1.3"/><circle cx="162.3" cy="518.8" r="1.3"/><circle cx="98.4" cy="519.3" r="1.3"/><circle cx="169.4" cy="517.3" r="1.3"/><circle cx="97.3" cy="518.9" r="1.3"/><circle cx="104.9" cy="521.5" r="1.3"/><circle cx="159.1" cy="520.1" r="1.3"/><circle cx="107" cy="517.9" r="1.3"/><circle cx="160.3" cy="518.9" r="1.3"/><circle cx="102.7" cy="517.4" r="1.3"/><circle cx="106.9" cy="521.3" r="1.3"/><circle cx="98" cy="517.8" r="1.3"/><circle cx="163.1" cy="518.5" r="1.3"/><circle cx="107.4" cy="522.5" r="1.3"/><circle cx="107.5" cy="518.1" r="1.3"/><circle cx="106.1" cy="518.3" r="1.3"/><circle cx="158.8" cy="519.4" r="1.3"/><circle cx="107.5" cy="520.9" r="1.3"/><circle cx="159.5" cy="519.5" r="1.3"/><circle cx="107.9" cy="517.7" r="1.3"/><circle cx="167" cy="518.9" r="1.3"/><circle cx="102.5" cy="516.9" r="1.3"/><circle cx="106.9" cy="520" r="1.3"/><circle cx="163.4" cy="517.1" r="1.3"/><circle cx="166.7" cy="518.8" r="1.3"/><circle cx="98.2" cy="519" r="1.3"/><circle cx="104.4" cy="521.5" r="1.3"/><circle cx="104.8" cy="518.8" r="1.3"/><circle cx="158.8" cy="522.8" r="1.3"/><circle cx="168.2" cy="519.7" r="1.3"/><circle cx="102.4" cy="518.5" r="1.3"/><circle cx="163.9" cy="517.1" r="1.3"/><circle cx="101.3" cy="518.6" r="1.3"/><circle cx="101.7" cy="517.5" r="1.3"/><circle cx="164.8" cy="519.4" r="1.3"/><circle cx="160.4" cy="519" r="1.3"/><circle cx="161.8" cy="517.3" r="1.3"/><circle cx="162.8" cy="518.3" r="1.3"/><circle cx="160" cy="520.9" r="1.3"/><circle cx="158.9" cy="518" r="1.3"/><circle cx="163.6" cy="520" r="1.3"/><circle cx="165.2" cy="517.4" r="1.3"/><circle cx="162.4" cy="520.5" r="1.3"/><circle cx="100" cy="518.2" r="1.3"/><circle cx="107.4" cy="520" r="1.3"/><circle cx="165.6" cy="519" r="1.3"/><circle cx="102.5" cy="520.8" r="1.3"/><circle cx="115.6" cy="525" r="1.3"/><circle cx="136.7" cy="526.6" r="1.3"/><circle cx="113.6" cy="525.1" r="1.3"/><circle cx="128.5" cy="527.1" r="1.3"/><circle cx="131.8" cy="527" r="1.3"/><circle cx="158.4" cy="523.7" r="1.3"/><circle cx="140.6" cy="526.5" r="1.3"/><circle cx="143.4" cy="526.9" r="1.3"/><circle cx="124.4" cy="526.3" r="1.3"/><circle cx="145.5" cy="526.4" r="1.3"/><circle cx="127.5" cy="526.5" r="1.3"/><circle cx="156.5" cy="523.8" r="1.3"/><circle cx="123.1" cy="526.2" r="1.3"/><circle cx="138.1" cy="527.1" r="1.3"/><circle cx="138.4" cy="526.6" r="1.3"/><circle cx="135" cy="526.8" r="1.3"/><circle cx="127.4" cy="527.8" r="1.3"/><circle cx="117.1" cy="525.3" r="1.3"/><circle cx="158.4" cy="523.7" r="1.3"/><circle cx="109.4" cy="523.7" r="1.3"/><circle cx="121" cy="526.2" r="1.3"/><circle cx="153.8" cy="525.3" r="1.3"/><circle cx="142.7" cy="526.7" r="1.3"/><circle cx="109.4" cy="523.8" r="1.3"/><circle cx="127.2" cy="526.7" r="1.3"/><circle cx="136.8" cy="526.7" r="1.3"/><circle cx="159.6" cy="524.4" r="1.3"/><circle cx="146.7" cy="525.8" r="1.3"/><circle cx="108.3" cy="523.4" r="1.3"/><circle cx="116.3" cy="525.7" r="1.3"/><circle cx="141.7" cy="527.3" r="1.3"/><circle cx="111.4" cy="525" r="1.3"/><circle cx="141.9" cy="526.9" r="1.3"/><circle cx="110.2" cy="523.8" r="1.3"/><circle cx="106.8" cy="523.2" r="1.3"/><circle cx="115" cy="525.3" r="1.3"/><circle cx="140.4" cy="526.5" r="1.3"/><circle cx="142.2" cy="526.6" r="1.3"/><circle cx="151.1" cy="525" r="1.3"/><circle cx="125" cy="526.9" r="1.3"/><circle cx="133.9" cy="526.8" r="1.3"/><circle cx="151.1" cy="525.1" r="1.3"/><circle cx="131.3" cy="527" r="1.3"/><circle cx="130" cy="527" r="1.3"/><circle cx="145.3" cy="526.2" r="1.3"/><circle cx="143.2" cy="526.3" r="1.3"/><circle cx="156.2" cy="524.2" r="1.3"/><circle cx="128.8" cy="526.8" r="1.3"/><circle cx="158.4" cy="523.9" r="1.3"/><circle cx="117.3" cy="526.2" r="1.3"/><circle cx="141.2" cy="526.8" r="1.3"/><circle cx="113.4" cy="524.7" r="1.3"/><circle cx="153.1" cy="524.6" r="1.3"/><circle cx="131.9" cy="526.9" r="1.3"/><circle cx="127.1" cy="526.8" r="1.3"/><circle cx="121.4" cy="526.9" r="1.3"/><circle cx="134.1" cy="526.8" r="1.3"/><circle cx="117.8" cy="525.8" r="1.3"/><circle cx="148.9" cy="525.9" r="1.3"/><circle cx="138.5" cy="527" r="1.3"/><circle cx="117.7" cy="525.8" r="1.3"/><circle cx="111.1" cy="524.7" r="1.3"/><circle cx="125.1" cy="526.4" r="1.3"/><circle cx="114.5" cy="524.9" r="1.3"/><circle cx="127.3" cy="528.6" r="1.3"/><circle cx="158.1" cy="523.4" r="1.3"/><circle cx="138.4" cy="526.6" r="1.3"/><circle cx="142.3" cy="527.6" r="1.3"/><circle cx="134" cy="527.1" r="1.3"/><circle cx="131.4" cy="526.7" r="1.3"/><circle cx="141.7" cy="527.1" r="1.3"/><circle cx="110.9" cy="524.5" r="1.3"/><circle cx="159.2" cy="523.2" r="1.3"/><circle cx="151.7" cy="525.3" r="1.3"/><circle cx="121" cy="526.7" r="1.3"/><circle cx="125.7" cy="526.4" r="1.3"/><circle cx="148" cy="525.6" r="1.3"/><circle cx="156.8" cy="523.8" r="1.3"/><circle cx="123.7" cy="527.4" r="1.3"/><circle cx="151.5" cy="525" r="1.3"/><circle cx="139.2" cy="526.9" r="1.3"/><circle cx="122" cy="526.2" r="1.3"/><circle cx="112" cy="524.4" r="1.3"/><circle cx="143.6" cy="526.2" r="1.3"/><circle cx="145.2" cy="526.1" r="1.3"/><circle cx="133.9" cy="526.9" r="1.3"/><circle cx="137.8" cy="527.5" r="1.3"/><circle cx="127.9" cy="527.2" r="1.3"/><circle cx="117.7" cy="525.4" r="1.3"/><circle cx="148" cy="525.6" r="1.3"/><circle cx="141.3" cy="454.2" r="1.3"/><circle cx="140.8" cy="453.8" r="1.3"/><circle cx="138.7" cy="462.9" r="1.3"/><circle cx="127.9" cy="461.4" r="1.3"/><circle cx="125.7" cy="464.5" r="1.3"/><circle cx="131.1" cy="469" r="1.3"/><circle cx="137.1" cy="467.5" r="1.3"/><circle cx="90.4" cy="517.2" r="1.3"/><circle cx="97.7" cy="519.5" r="1.3"/><circle cx="168.9" cy="519.9" r="1.3"/></g>
<g fill="#fff"><circle cx="140.5" cy="484" r="0.6"/><circle cx="140.7" cy="486.2" r="0.6"/><circle cx="124.4" cy="489" r="0.6"/><circle cx="139.8" cy="488.7" r="0.9"/><circle cx="126.8" cy="488.7" r="0.8"/><circle cx="127.7" cy="495.1" r="0.5"/><circle cx="125.3" cy="497.4" r="0.9"/><circle cx="126.9" cy="488.1" r="0.8"/><circle cx="123.3" cy="490.8" r="0.8"/><circle cx="128.7" cy="488.5" r="0.8"/><circle cx="139.2" cy="490.4" r="0.9"/><circle cx="142.1" cy="483.1" r="0.8"/><circle cx="125.5" cy="489" r="0.6"/><circle cx="123.9" cy="489.1" r="0.8"/><circle cx="140.1" cy="487" r="0.8"/><circle cx="138.9" cy="485" r="0.6"/><circle cx="142.3" cy="483.1" r="0.8"/><circle cx="128.4" cy="490.3" r="0.5"/><circle cx="128.1" cy="492.6" r="0.7"/><circle cx="140" cy="487.3" r="0.8"/><circle cx="141.2" cy="484.2" r="0.7"/><circle cx="126.6" cy="488.8" r="0.6"/><circle cx="122.9" cy="489.9" r="0.5"/><circle cx="128.3" cy="491.4" r="0.5"/><circle cx="127.2" cy="491" r="0.6"/><circle cx="122.9" cy="491" r="0.9"/><circle cx="127.3" cy="490.5" r="0.7"/><circle cx="141.7" cy="484.2" r="0.6"/><circle cx="124.3" cy="489.4" r="0.8"/><circle cx="123.2" cy="488.9" r="0.7"/><circle cx="141.1" cy="483.3" r="0.6"/><circle cx="126" cy="488.4" r="0.7"/><circle cx="128.9" cy="488" r="0.5"/><circle cx="128.8" cy="492.1" r="0.7"/><circle cx="130.1" cy="493.9" r="0.7"/><circle cx="123.7" cy="494.1" r="0.5"/><circle cx="140.1" cy="485.2" r="0.7"/></g>
<g fill="#2e55ff"><circle cx="121.4" cy="513.7" r="1.3"/><circle cx="112.4" cy="509.5" r="1.3"/><circle cx="112.7" cy="506.5" r="1.3"/><circle cx="116.3" cy="505.2" r="1.3"/><circle cx="121.5" cy="516.4" r="1.3"/><circle cx="109.6" cy="502.8" r="1.3"/><circle cx="119.8" cy="502.8" r="1.3"/><circle cx="109.7" cy="499.1" r="1.3"/><circle cx="113.8" cy="506.8" r="1.3"/><circle cx="114.1" cy="513.9" r="1.3"/><circle cx="116.5" cy="498.1" r="1.3"/><circle cx="117.6" cy="512.3" r="1.3"/><circle cx="115.5" cy="499.8" r="1.3"/><circle cx="110.4" cy="494.9" r="1.3"/><circle cx="109.2" cy="515.1" r="1.3"/><circle cx="116.4" cy="506.2" r="1.3"/><circle cx="113.3" cy="515.1" r="1.3"/><circle cx="117.6" cy="510.1" r="1.3"/><circle cx="114.3" cy="510.2" r="1.3"/><circle cx="118.2" cy="513.8" r="1.3"/><circle cx="113.5" cy="511.5" r="1.3"/><circle cx="119.5" cy="497.2" r="1.3"/><circle cx="117.3" cy="511.9" r="1.3"/><circle cx="120.8" cy="506.9" r="1.3"/><circle cx="117.8" cy="505.4" r="1.3"/><circle cx="118.2" cy="508.1" r="1.3"/><circle cx="120.4" cy="515.8" r="1.3"/><circle cx="109.6" cy="501.7" r="1.3"/><circle cx="116.8" cy="513.6" r="1.3"/><circle cx="113.5" cy="505" r="1.3"/><circle cx="114.1" cy="495.4" r="1.3"/><circle cx="117.7" cy="496.7" r="1.3"/><circle cx="116.7" cy="495.5" r="1.3"/><circle cx="109.1" cy="509.2" r="1.3"/><circle cx="115.8" cy="497.6" r="1.3"/><circle cx="110.2" cy="515.3" r="1.3"/><circle cx="115.7" cy="515.3" r="1.3"/><circle cx="110.9" cy="512.2" r="1.3"/><circle cx="118" cy="511.3" r="1.3"/><circle cx="112.7" cy="511.2" r="1.3"/><circle cx="116.6" cy="498.2" r="1.3"/><circle cx="116.6" cy="497" r="1.3"/><circle cx="109.9" cy="508.4" r="1.3"/><circle cx="119.2" cy="496.5" r="1.3"/><circle cx="115" cy="510.5" r="1.3"/><circle cx="121.1" cy="508.2" r="1.3"/><circle cx="121.3" cy="504.4" r="1.3"/><circle cx="117.2" cy="511.8" r="1.3"/><circle cx="119.3" cy="501.2" r="1.3"/><circle cx="110.1" cy="516.4" r="1.3"/><circle cx="115.4" cy="515.6" r="1.3"/><circle cx="121.3" cy="495.3" r="1.3"/><circle cx="118.2" cy="506.6" r="1.3"/><circle cx="110.1" cy="504" r="1.3"/><circle cx="117.7" cy="502.6" r="1.3"/><circle cx="111.8" cy="503.9" r="1.3"/><circle cx="117.3" cy="501.2" r="1.3"/><circle cx="117.4" cy="510.4" r="1.3"/><circle cx="118.6" cy="495.5" r="1.3"/><circle cx="120.5" cy="515.9" r="1.3"/><circle cx="118.5" cy="514.9" r="1.3"/><circle cx="117.5" cy="496.5" r="1.3"/><circle cx="109.4" cy="513" r="1.3"/><circle cx="118.4" cy="509.5" r="1.3"/><circle cx="109.4" cy="512.3" r="1.3"/><circle cx="112.1" cy="504.1" r="1.3"/><circle cx="110.4" cy="512.1" r="1.3"/><circle cx="109.7" cy="494.9" r="1.3"/><circle cx="117.1" cy="496.5" r="1.3"/><circle cx="112.6" cy="513.1" r="1.3"/><circle cx="116.5" cy="512.6" r="1.3"/><circle cx="110.1" cy="513" r="1.3"/><circle cx="110.5" cy="512.1" r="1.3"/><circle cx="110.2" cy="500.3" r="1.3"/><circle cx="112.5" cy="512.3" r="1.3"/><circle cx="112.8" cy="504.4" r="1.3"/><circle cx="117.8" cy="495.2" r="1.3"/><circle cx="109.3" cy="503.8" r="1.3"/><circle cx="110" cy="511" r="1.3"/><circle cx="119.9" cy="510.9" r="1.3"/><circle cx="114.8" cy="497.4" r="1.3"/><circle cx="111" cy="512.8" r="1.3"/><circle cx="111.3" cy="497.9" r="1.3"/><circle cx="114.6" cy="507.5" r="1.3"/><circle cx="116.2" cy="513.6" r="1.3"/><circle cx="118.9" cy="507.2" r="1.3"/><circle cx="115.6" cy="506.7" r="1.3"/><circle cx="116.5" cy="498.8" r="1.3"/><circle cx="120" cy="514" r="1.3"/><circle cx="109.7" cy="505.4" r="1.3"/><circle cx="114.2" cy="508" r="1.3"/><circle cx="116.7" cy="510.6" r="1.3"/><circle cx="115.3" cy="499.4" r="1.3"/><circle cx="121.3" cy="496.4" r="1.3"/><circle cx="119.7" cy="507.6" r="1.3"/><circle cx="111.2" cy="514.7" r="1.3"/><circle cx="113.7" cy="504.9" r="1.3"/><circle cx="115" cy="499.3" r="1.3"/><circle cx="120.4" cy="513.2" r="1.3"/><circle cx="110" cy="496.2" r="1.3"/><circle cx="120.4" cy="503.3" r="1.3"/><circle cx="120.7" cy="496.6" r="1.3"/><circle cx="109.5" cy="502.8" r="1.3"/><circle cx="116" cy="503.8" r="1.3"/><circle cx="115" cy="499.4" r="1.3"/><circle cx="111.1" cy="498.5" r="1.3"/><circle cx="111" cy="513.2" r="1.3"/><circle cx="119.5" cy="502.7" r="1.3"/><circle cx="115.1" cy="495.7" r="1.3"/><circle cx="121.1" cy="509.5" r="1.3"/><circle cx="110.6" cy="508.5" r="1.3"/><circle cx="120.3" cy="511.1" r="1.3"/><circle cx="109.2" cy="500.8" r="1.3"/><circle cx="111" cy="512.4" r="1.3"/><circle cx="111.5" cy="516.4" r="1.3"/><circle cx="119.3" cy="504.4" r="1.3"/><circle cx="113.6" cy="508.4" r="1.3"/><circle cx="109.3" cy="510.2" r="1.3"/><circle cx="118.7" cy="513.5" r="1.3"/><circle cx="112.3" cy="499.7" r="1.3"/><circle cx="111.2" cy="504.5" r="1.3"/><circle cx="121.3" cy="509.3" r="1.3"/><circle cx="120" cy="512" r="1.3"/><circle cx="121.4" cy="502.7" r="1.3"/><circle cx="119" cy="505.9" r="1.3"/><circle cx="109.2" cy="512.9" r="1.3"/><circle cx="118.5" cy="512.5" r="1.3"/><circle cx="121" cy="505.8" r="1.3"/><circle cx="115.1" cy="505.1" r="1.3"/><circle cx="109.2" cy="505.6" r="1.3"/><circle cx="114.3" cy="497.7" r="1.3"/><circle cx="110.5" cy="506.8" r="1.3"/><circle cx="114.3" cy="510.3" r="1.3"/><circle cx="115.8" cy="507.7" r="1.3"/><circle cx="115.4" cy="512.9" r="1.3"/><circle cx="114.4" cy="512" r="1.3"/><circle cx="118.2" cy="511.5" r="1.3"/><circle cx="111.8" cy="515.7" r="1.3"/><circle cx="108.7" cy="514.2" r="1.3"/><circle cx="114.2" cy="513" r="1.3"/><circle cx="113.2" cy="498.6" r="1.3"/><circle cx="116.6" cy="508.1" r="1.3"/><circle cx="108.9" cy="505.3" r="1.3"/><circle cx="117.5" cy="513" r="1.3"/><circle cx="110.9" cy="502.6" r="1.3"/><circle cx="118.2" cy="507.2" r="1.3"/><circle cx="120.3" cy="500.7" r="1.3"/><circle cx="110.1" cy="501.9" r="1.3"/><circle cx="112.8" cy="514.8" r="1.3"/><circle cx="110" cy="505.1" r="1.3"/><circle cx="110.2" cy="501.4" r="1.3"/><circle cx="110.3" cy="499.9" r="1.3"/><circle cx="112.6" cy="505" r="1.3"/><circle cx="118.6" cy="512.6" r="1.3"/><circle cx="109.9" cy="500.1" r="1.3"/><circle cx="118.9" cy="515.2" r="1.3"/><circle cx="110.5" cy="516.4" r="1.3"/><circle cx="114.1" cy="502.4" r="1.3"/><circle cx="116.8" cy="497.1" r="1.3"/><circle cx="113.8" cy="495" r="1.3"/><circle cx="113.1" cy="506" r="1.3"/><circle cx="120.9" cy="498" r="1.3"/><circle cx="120.5" cy="512.1" r="1.3"/><circle cx="113.7" cy="503" r="1.3"/><circle cx="109.8" cy="496.3" r="1.3"/><circle cx="109.8" cy="500.3" r="1.3"/><circle cx="117.3" cy="502" r="1.3"/><circle cx="120.1" cy="511.2" r="1.3"/><circle cx="108.7" cy="504.1" r="1.3"/><circle cx="109.7" cy="514.2" r="1.3"/><circle cx="109.4" cy="512.3" r="1.3"/><circle cx="106.3" cy="487.7" r="1.3"/><circle cx="113.7" cy="516.2" r="1.3"/><circle cx="116.2" cy="514.8" r="1.3"/><circle cx="113.2" cy="492.3" r="1.3"/><circle cx="97.9" cy="509.7" r="1.3"/><circle cx="120.1" cy="515.6" r="1.3"/><circle cx="116.8" cy="510.3" r="1.3"/><circle cx="118.9" cy="489.3" r="1.3"/><circle cx="117.3" cy="513" r="1.3"/><circle cx="120" cy="495" r="1.3"/><circle cx="113.9" cy="506.3" r="1.3"/><circle cx="106.4" cy="498.3" r="1.3"/><circle cx="113" cy="498.7" r="1.3"/><circle cx="116.8" cy="505" r="1.3"/><circle cx="107.2" cy="516.1" r="1.3"/><circle cx="114.4" cy="506.5" r="1.3"/><circle cx="116.4" cy="502.7" r="1.3"/><circle cx="106.8" cy="494.5" r="1.3"/><circle cx="104.5" cy="498.7" r="1.3"/><circle cx="122" cy="510.6" r="1.3"/><circle cx="107.5" cy="514" r="1.3"/><circle cx="109.9" cy="516.2" r="1.3"/><circle cx="102.4" cy="512.8" r="1.3"/><circle cx="113.7" cy="514" r="1.3"/><circle cx="119.5" cy="503.7" r="1.3"/><circle cx="111.5" cy="490" r="1.3"/><circle cx="118.9" cy="489.4" r="1.3"/><circle cx="118.3" cy="506.2" r="1.3"/><circle cx="98.6" cy="502.3" r="1.3"/><circle cx="118" cy="504.3" r="1.3"/><circle cx="102.9" cy="489.8" r="1.3"/><circle cx="120.7" cy="502.2" r="1.3"/><circle cx="115.2" cy="514.9" r="1.3"/><circle cx="113.6" cy="509.2" r="1.3"/><circle cx="105.4" cy="516.2" r="1.3"/><circle cx="113.3" cy="507.7" r="1.3"/><circle cx="114.1" cy="504.9" r="1.3"/><circle cx="98" cy="496.4" r="1.3"/><circle cx="115" cy="507.9" r="1.3"/><circle cx="113.7" cy="487.4" r="1.3"/><circle cx="109.5" cy="486.7" r="1.3"/><circle cx="119" cy="502" r="1.3"/><circle cx="105.9" cy="491.4" r="1.3"/><circle cx="120.8" cy="505.8" r="1.3"/><circle cx="110.8" cy="482" r="1.3"/><circle cx="120.3" cy="487.2" r="1.3"/><circle cx="115.6" cy="496.3" r="1.3"/><circle cx="116.7" cy="485.8" r="1.3"/><circle cx="109.7" cy="484.6" r="1.3"/><circle cx="115.3" cy="495.2" r="1.3"/><circle cx="121.7" cy="486.2" r="1.3"/><circle cx="114" cy="492.2" r="1.3"/><circle cx="114.7" cy="494.8" r="1.3"/><circle cx="118.6" cy="484.5" r="1.3"/><circle cx="118.2" cy="486.6" r="1.3"/><circle cx="112.9" cy="493.1" r="1.3"/><circle cx="113.7" cy="471.7" r="1.3"/><circle cx="111.5" cy="488.4" r="1.3"/><circle cx="113.9" cy="494.5" r="1.3"/><circle cx="112.8" cy="478.1" r="1.3"/><circle cx="119.3" cy="488.3" r="1.3"/><circle cx="114.3" cy="480.7" r="1.3"/><circle cx="114.1" cy="478.1" r="1.3"/><circle cx="111.1" cy="485.9" r="1.3"/><circle cx="122" cy="476.4" r="1.3"/><circle cx="120.7" cy="484.3" r="1.3"/><circle cx="112.9" cy="476.4" r="1.3"/><circle cx="115.3" cy="481.4" r="1.3"/><circle cx="109.6" cy="477.5" r="1.3"/><circle cx="104.9" cy="500.5" r="1.3"/><circle cx="98.9" cy="511.3" r="1.3"/><circle cx="105" cy="508.9" r="1.3"/><circle cx="101.5" cy="502" r="1.3"/><circle cx="102.3" cy="504.3" r="1.3"/><circle cx="104.1" cy="508.4" r="1.3"/><circle cx="104.3" cy="509.8" r="1.3"/><circle cx="98.6" cy="512.5" r="1.3"/><circle cx="101.8" cy="503.8" r="1.3"/><circle cx="109" cy="509.5" r="1.3"/><circle cx="97.5" cy="505.2" r="1.3"/><circle cx="96.9" cy="512.1" r="1.3"/><circle cx="97.9" cy="423.5" r="1.3"/><circle cx="85.1" cy="441.4" r="1.3"/><circle cx="94.9" cy="462.8" r="1.3"/><circle cx="79.9" cy="468.5" r="1.3"/><circle cx="92.8" cy="478.5" r="1.3"/><circle cx="61" cy="494.4" r="1.3"/><circle cx="88.5" cy="505.4" r="1.3"/><circle cx="91.4" cy="498.4" r="1.3"/><circle cx="86.9" cy="510" r="1.3"/><circle cx="105.2" cy="463.7" r="1.3"/></g>
<g fill="#ff1010"><circle cx="154.1" cy="510.5" r="1.3"/><circle cx="145.3" cy="498.9" r="1.3"/><circle cx="148.5" cy="500.3" r="1.3"/><circle cx="157.1" cy="498.4" r="1.3"/><circle cx="148.4" cy="498.5" r="1.3"/><circle cx="147.6" cy="502" r="1.3"/><circle cx="144.5" cy="498.9" r="1.3"/><circle cx="145.1" cy="500.6" r="1.3"/><circle cx="154.4" cy="515.5" r="1.3"/><circle cx="153.5" cy="500.9" r="1.3"/><circle cx="157.8" cy="493.8" r="1.3"/><circle cx="147.6" cy="507.8" r="1.3"/><circle cx="149.6" cy="502" r="1.3"/><circle cx="146.8" cy="504.6" r="1.3"/><circle cx="147.5" cy="512.6" r="1.3"/><circle cx="156.8" cy="504.9" r="1.3"/><circle cx="157.2" cy="502" r="1.3"/><circle cx="158.7" cy="506.6" r="1.3"/><circle cx="144.5" cy="493.3" r="1.3"/><circle cx="147.4" cy="497.9" r="1.3"/><circle cx="146.9" cy="505.8" r="1.3"/><circle cx="148.3" cy="502.2" r="1.3"/><circle cx="145.3" cy="515.3" r="1.3"/><circle cx="151.3" cy="497.3" r="1.3"/><circle cx="151.4" cy="514.5" r="1.3"/><circle cx="161.6" cy="514.7" r="1.3"/><circle cx="148.7" cy="504.4" r="1.3"/><circle cx="148" cy="501.1" r="1.3"/><circle cx="150.5" cy="498.7" r="1.3"/><circle cx="145.3" cy="498" r="1.3"/><circle cx="159.7" cy="511.7" r="1.3"/><circle cx="147.5" cy="496.4" r="1.3"/><circle cx="150.4" cy="508.4" r="1.3"/><circle cx="153.5" cy="504.8" r="1.3"/><circle cx="157.9" cy="501.9" r="1.3"/><circle cx="155.8" cy="507.7" r="1.3"/><circle cx="152.2" cy="497.1" r="1.3"/><circle cx="159" cy="503.3" r="1.3"/><circle cx="153.6" cy="510.6" r="1.3"/><circle cx="151.6" cy="512.9" r="1.3"/><circle cx="151.7" cy="515.5" r="1.3"/><circle cx="147.8" cy="511" r="1.3"/><circle cx="151.5" cy="501.5" r="1.3"/><circle cx="145.5" cy="502.6" r="1.3"/><circle cx="157.2" cy="513.5" r="1.3"/><circle cx="146.1" cy="514.8" r="1.3"/><circle cx="154.4" cy="508.5" r="1.3"/><circle cx="144.8" cy="514.5" r="1.3"/><circle cx="149.6" cy="515.7" r="1.3"/><circle cx="157.5" cy="512.9" r="1.3"/><circle cx="157.9" cy="516" r="1.3"/><circle cx="149.2" cy="495.2" r="1.3"/><circle cx="146.2" cy="515.9" r="1.3"/><circle cx="158.4" cy="498.6" r="1.3"/><circle cx="151.9" cy="514.3" r="1.3"/><circle cx="148.4" cy="507.3" r="1.3"/><circle cx="161" cy="512.5" r="1.3"/><circle cx="155" cy="500.9" r="1.3"/><circle cx="159.1" cy="501.7" r="1.3"/><circle cx="149.8" cy="507.4" r="1.3"/><circle cx="151.5" cy="503.9" r="1.3"/><circle cx="152.6" cy="514.8" r="1.3"/><circle cx="157.1" cy="509.2" r="1.3"/><circle cx="154.3" cy="510.4" r="1.3"/><circle cx="151" cy="493.4" r="1.3"/><circle cx="144.6" cy="502.6" r="1.3"/><circle cx="146.8" cy="494.5" r="1.3"/><circle cx="158.1" cy="497.7" r="1.3"/><circle cx="158.4" cy="509.7" r="1.3"/><circle cx="152.1" cy="495.4" r="1.3"/><circle cx="151.5" cy="494.9" r="1.3"/><circle cx="157.9" cy="506.3" r="1.3"/><circle cx="152.5" cy="505.5" r="1.3"/><circle cx="148" cy="509.5" r="1.3"/><circle cx="150.7" cy="505.2" r="1.3"/><circle cx="159.2" cy="506.4" r="1.3"/><circle cx="153" cy="500.9" r="1.3"/><circle cx="157.7" cy="494" r="1.3"/><circle cx="156.5" cy="503.6" r="1.3"/><circle cx="156" cy="514.4" r="1.3"/><circle cx="156.5" cy="512.4" r="1.3"/><circle cx="159.3" cy="496.7" r="1.3"/><circle cx="154.3" cy="494.9" r="1.3"/><circle cx="144.9" cy="515.3" r="1.3"/><circle cx="151.9" cy="512.9" r="1.3"/><circle cx="144.6" cy="494.4" r="1.3"/><circle cx="150.5" cy="497.5" r="1.3"/><circle cx="148.3" cy="502.8" r="1.3"/><circle cx="145.2" cy="503.1" r="1.3"/><circle cx="155.8" cy="503.2" r="1.3"/><circle cx="151.6" cy="500.1" r="1.3"/><circle cx="147.3" cy="501.7" r="1.3"/><circle cx="148.3" cy="515.5" r="1.3"/><circle cx="149.8" cy="499.8" r="1.3"/><circle cx="146.4" cy="499.2" r="1.3"/><circle cx="149.5" cy="506.2" r="1.3"/><circle cx="145.2" cy="513.5" r="1.3"/><circle cx="155.1" cy="495.6" r="1.3"/><circle cx="148" cy="501.4" r="1.3"/><circle cx="159.3" cy="497.4" r="1.3"/><circle cx="160.7" cy="514.7" r="1.3"/><circle cx="155.1" cy="510.8" r="1.3"/><circle cx="144.8" cy="506" r="1.3"/><circle cx="160.9" cy="509.6" r="1.3"/><circle cx="147.9" cy="493.5" r="1.3"/><circle cx="155.2" cy="513.7" r="1.3"/><circle cx="144.6" cy="515.1" r="1.3"/><circle cx="145.3" cy="496.3" r="1.3"/><circle cx="155.8" cy="513.2" r="1.3"/><circle cx="150.8" cy="507.2" r="1.3"/><circle cx="158.9" cy="494" r="1.3"/><circle cx="144.5" cy="516.1" r="1.3"/><circle cx="154.1" cy="515.6" r="1.3"/><circle cx="150.5" cy="502.7" r="1.3"/><circle cx="152.3" cy="513.1" r="1.3"/><circle cx="148.3" cy="505.1" r="1.3"/><circle cx="146.3" cy="495.2" r="1.3"/><circle cx="147.8" cy="497.4" r="1.3"/><circle cx="146.9" cy="506" r="1.3"/><circle cx="158.1" cy="502" r="1.3"/><circle cx="146" cy="511.6" r="1.3"/><circle cx="149.9" cy="505.9" r="1.3"/><circle cx="161" cy="509.6" r="1.3"/><circle cx="149.5" cy="505.1" r="1.3"/><circle cx="147.4" cy="497.8" r="1.3"/><circle cx="144.5" cy="499.8" r="1.3"/><circle cx="160" cy="510" r="1.3"/><circle cx="157" cy="500.4" r="1.3"/><circle cx="157.2" cy="502" r="1.3"/><circle cx="152.8" cy="511" r="1.3"/><circle cx="150.6" cy="514.5" r="1.3"/><circle cx="154.5" cy="505.7" r="1.3"/><circle cx="145.1" cy="514.6" r="1.3"/><circle cx="149" cy="512.9" r="1.3"/><circle cx="146.9" cy="499.2" r="1.3"/><circle cx="149" cy="515.5" r="1.3"/><circle cx="160.1" cy="494.5" r="1.3"/><circle cx="158.2" cy="507.2" r="1.3"/><circle cx="161" cy="495.7" r="1.3"/><circle cx="154.7" cy="501.2" r="1.3"/><circle cx="156.1" cy="504.9" r="1.3"/><circle cx="159.3" cy="496.9" r="1.3"/><circle cx="156.7" cy="500.9" r="1.3"/><circle cx="151.4" cy="509.8" r="1.3"/><circle cx="161" cy="504.1" r="1.3"/><circle cx="160.5" cy="512.3" r="1.3"/><circle cx="146.4" cy="500.1" r="1.3"/><circle cx="155.1" cy="508" r="1.3"/><circle cx="152.3" cy="495.2" r="1.3"/><circle cx="155.3" cy="504.8" r="1.3"/><circle cx="148.2" cy="513.4" r="1.3"/><circle cx="149.9" cy="510.6" r="1.3"/><circle cx="155.8" cy="493.5" r="1.3"/><circle cx="158.9" cy="511.1" r="1.3"/><circle cx="148.5" cy="503.6" r="1.3"/><circle cx="158.7" cy="510.5" r="1.3"/><circle cx="148.2" cy="506.5" r="1.3"/><circle cx="157.1" cy="507.1" r="1.3"/><circle cx="144.5" cy="501.4" r="1.3"/><circle cx="159.4" cy="501.3" r="1.3"/><circle cx="144.7" cy="511.3" r="1.3"/><circle cx="152.4" cy="506.1" r="1.3"/><circle cx="145.3" cy="511" r="1.3"/><circle cx="150.3" cy="505.9" r="1.3"/><circle cx="161.4" cy="500.7" r="1.3"/><circle cx="152.5" cy="516.3" r="1.3"/><circle cx="144.7" cy="499.2" r="1.3"/><circle cx="153.2" cy="501.7" r="1.3"/><circle cx="145.9" cy="493.9" r="1.3"/><circle cx="152.2" cy="504.2" r="1.3"/><circle cx="155.4" cy="502.8" r="1.3"/><circle cx="157.4" cy="512.6" r="1.3"/><circle cx="145.1" cy="507.9" r="1.3"/><circle cx="157.3" cy="499.7" r="1.3"/><circle cx="150" cy="499.9" r="1.3"/><circle cx="157.2" cy="498.7" r="1.3"/><circle cx="160.9" cy="506.9" r="1.3"/><circle cx="156.3" cy="495.5" r="1.3"/><circle cx="148.4" cy="493.7" r="1.3"/><circle cx="149.2" cy="502" r="1.3"/><circle cx="146.1" cy="513" r="1.3"/><circle cx="145.4" cy="502.6" r="1.3"/><circle cx="144.7" cy="506.4" r="1.3"/><circle cx="156.6" cy="511.3" r="1.3"/><circle cx="146.9" cy="494.3" r="1.3"/><circle cx="147" cy="503.9" r="1.3"/><circle cx="151.3" cy="495.8" r="1.3"/><circle cx="154.4" cy="506.4" r="1.3"/><circle cx="147.8" cy="497.6" r="1.3"/><circle cx="148.7" cy="498.3" r="1.3"/><circle cx="155.7" cy="504.7" r="1.3"/><circle cx="161.7" cy="502.5" r="1.3"/><circle cx="153.8" cy="500.9" r="1.3"/><circle cx="146.5" cy="507.5" r="1.3"/><circle cx="144.5" cy="514.1" r="1.3"/><circle cx="144.8" cy="504.2" r="1.3"/><circle cx="148.9" cy="513.4" r="1.3"/><circle cx="150.2" cy="494.6" r="1.3"/><circle cx="145" cy="514.6" r="1.3"/><circle cx="159.2" cy="512.4" r="1.3"/><circle cx="155.1" cy="515" r="1.3"/><circle cx="144.8" cy="503.2" r="1.3"/><circle cx="156.5" cy="512.8" r="1.3"/><circle cx="151.3" cy="513.6" r="1.3"/><circle cx="158.2" cy="514.1" r="1.3"/><circle cx="153.1" cy="494.7" r="1.3"/><circle cx="147.1" cy="500.4" r="1.3"/><circle cx="151.9" cy="497" r="1.3"/><circle cx="159" cy="506" r="1.3"/><circle cx="151.4" cy="499.3" r="1.3"/><circle cx="156" cy="510" r="1.3"/><circle cx="160.6" cy="505.9" r="1.3"/><circle cx="147.7" cy="508.5" r="1.3"/><circle cx="150.2" cy="506" r="1.3"/><circle cx="149.3" cy="507" r="1.3"/><circle cx="161.2" cy="493.5" r="1.3"/><circle cx="147.8" cy="510.5" r="1.3"/><circle cx="149.8" cy="512.2" r="1.3"/><circle cx="147.3" cy="506.4" r="1.3"/><circle cx="150.5" cy="515.2" r="1.3"/><circle cx="152.3" cy="506.6" r="1.3"/><circle cx="160.7" cy="497.2" r="1.3"/><circle cx="154.6" cy="505.5" r="1.3"/><circle cx="145.7" cy="502.5" r="1.3"/><circle cx="160.4" cy="494.2" r="1.3"/><circle cx="160.3" cy="500.1" r="1.3"/><circle cx="149.3" cy="513.2" r="1.3"/><circle cx="147.3" cy="508.5" r="1.3"/><circle cx="145.8" cy="510.5" r="1.3"/><circle cx="161.2" cy="499.9" r="1.3"/><circle cx="155.8" cy="513.7" r="1.3"/><circle cx="152.1" cy="506.2" r="1.3"/><circle cx="160.2" cy="501.8" r="1.3"/><circle cx="148.6" cy="511.6" r="1.3"/><circle cx="145.6" cy="506" r="1.3"/><circle cx="154.3" cy="508.4" r="1.3"/><circle cx="160.5" cy="499.8" r="1.3"/><circle cx="152.9" cy="508.5" r="1.3"/><circle cx="154.9" cy="501.3" r="1.3"/><circle cx="156.4" cy="510.3" r="1.3"/><circle cx="150.3" cy="512.1" r="1.3"/><circle cx="146.1" cy="510.5" r="1.3"/><circle cx="147.9" cy="511" r="1.3"/><circle cx="151.6" cy="508.8" r="1.3"/><circle cx="156.3" cy="511.6" r="1.3"/><circle cx="156" cy="496.2" r="1.3"/><circle cx="152" cy="498.4" r="1.3"/><circle cx="145.3" cy="511.5" r="1.3"/><circle cx="145.4" cy="506.2" r="1.3"/><circle cx="149.8" cy="506.4" r="1.3"/><circle cx="147.4" cy="516" r="1.3"/><circle cx="156.9" cy="494.9" r="1.3"/><circle cx="146.8" cy="500.1" r="1.3"/><circle cx="149.4" cy="500" r="1.3"/><circle cx="153.8" cy="499.7" r="1.3"/><circle cx="161.5" cy="511.1" r="1.3"/><circle cx="159.3" cy="512.7" r="1.3"/><circle cx="157.6" cy="513.7" r="1.3"/><circle cx="147" cy="507.7" r="1.3"/><circle cx="147.1" cy="498.4" r="1.3"/><circle cx="144.8" cy="509.6" r="1.3"/><circle cx="153.3" cy="498.5" r="1.3"/><circle cx="161.2" cy="505.1" r="1.3"/><circle cx="146.8" cy="512.2" r="1.3"/><circle cx="154" cy="513.9" r="1.3"/><circle cx="158.6" cy="497.5" r="1.3"/><circle cx="156.2" cy="494.1" r="1.3"/><circle cx="151.1" cy="494.4" r="1.3"/><circle cx="147" cy="511.6" r="1.3"/><circle cx="152.5" cy="496.3" r="1.3"/><circle cx="144.5" cy="497.1" r="1.3"/><circle cx="149.7" cy="496.9" r="1.3"/><circle cx="158.8" cy="496.3" r="1.3"/><circle cx="153.1" cy="514.4" r="1.3"/><circle cx="148.5" cy="509.4" r="1.3"/><circle cx="152.1" cy="488.3" r="1.3"/><circle cx="149.6" cy="487.8" r="1.3"/><circle cx="151.7" cy="492" r="1.3"/><circle cx="148.2" cy="474.2" r="1.3"/><circle cx="146.9" cy="484.8" r="1.3"/><circle cx="154.3" cy="479.4" r="1.3"/><circle cx="149.3" cy="493.3" r="1.3"/><circle cx="156" cy="473" r="1.3"/><circle cx="154.6" cy="477.4" r="1.3"/><circle cx="156.3" cy="474.3" r="1.3"/><circle cx="149.4" cy="487.1" r="1.3"/><circle cx="149.1" cy="492.3" r="1.3"/><circle cx="145.8" cy="479.6" r="1.3"/><circle cx="153.6" cy="479.5" r="1.3"/><circle cx="151" cy="492" r="1.3"/><circle cx="148" cy="472" r="1.3"/><circle cx="157.6" cy="489.3" r="1.3"/><circle cx="148" cy="491.4" r="1.3"/><circle cx="147.8" cy="485.8" r="1.3"/><circle cx="146.8" cy="473.3" r="1.3"/><circle cx="144.8" cy="486" r="1.3"/><circle cx="144.8" cy="487.8" r="1.3"/><circle cx="154.1" cy="492.9" r="1.3"/><circle cx="151" cy="482.7" r="1.3"/><circle cx="150.8" cy="484.4" r="1.3"/><circle cx="151.6" cy="489.9" r="1.3"/><circle cx="146.6" cy="477.1" r="1.3"/><circle cx="145.7" cy="475.8" r="1.3"/><circle cx="156.5" cy="482.8" r="1.3"/><circle cx="146.8" cy="486" r="1.3"/><circle cx="149.9" cy="479.3" r="1.3"/><circle cx="157.3" cy="486.3" r="1.3"/><circle cx="146" cy="489" r="1.3"/><circle cx="157.5" cy="490.9" r="1.3"/><circle cx="146.5" cy="493.8" r="1.3"/><circle cx="151.5" cy="485.2" r="1.3"/><circle cx="155.2" cy="480.8" r="1.3"/><circle cx="152.2" cy="479.7" r="1.3"/><circle cx="149.2" cy="489.2" r="1.3"/><circle cx="144.5" cy="487" r="1.3"/><circle cx="144.5" cy="490.9" r="1.3"/><circle cx="148" cy="484" r="1.3"/><circle cx="148.1" cy="490.9" r="1.3"/><circle cx="153.9" cy="488.8" r="1.3"/><circle cx="147.7" cy="490.7" r="1.3"/><circle cx="144.8" cy="477.7" r="1.3"/><circle cx="149.1" cy="483.2" r="1.3"/><circle cx="156" cy="474.1" r="1.3"/><circle cx="151" cy="472.2" r="1.3"/><circle cx="150.4" cy="474.1" r="1.3"/><circle cx="149.3" cy="489.9" r="1.3"/><circle cx="149.8" cy="491.9" r="1.3"/><circle cx="148.1" cy="490.6" r="1.3"/><circle cx="149.1" cy="493" r="1.3"/><circle cx="148.8" cy="482.7" r="1.3"/><circle cx="158.3" cy="470.6" r="1.3"/><circle cx="152.3" cy="485.6" r="1.3"/><circle cx="153.8" cy="472.9" r="1.3"/><circle cx="152.8" cy="491.3" r="1.3"/><circle cx="151.5" cy="484.6" r="1.3"/><circle cx="156.9" cy="480.2" r="1.3"/><circle cx="157.9" cy="493.6" r="1.3"/><circle cx="152.9" cy="490.8" r="1.3"/><circle cx="149.3" cy="475.2" r="1.3"/><circle cx="158.4" cy="490.7" r="1.3"/><circle cx="155.8" cy="492.4" r="1.3"/><circle cx="147.1" cy="490.8" r="1.3"/><circle cx="158.1" cy="492.8" r="1.3"/><circle cx="154.8" cy="483.9" r="1.3"/><circle cx="153.3" cy="493.1" r="1.3"/><circle cx="149.2" cy="483.1" r="1.3"/><circle cx="146.9" cy="480.6" r="1.3"/><circle cx="144.9" cy="493.2" r="1.3"/><circle cx="152.2" cy="489.9" r="1.3"/><circle cx="155.8" cy="482.8" r="1.3"/><circle cx="156.2" cy="475" r="1.3"/><circle cx="153.1" cy="471.1" r="1.3"/><circle cx="146.4" cy="482.9" r="1.3"/><circle cx="145.2" cy="479" r="1.3"/><circle cx="155.1" cy="473.7" r="1.3"/><circle cx="150.2" cy="472.8" r="1.3"/><circle cx="148.1" cy="488" r="1.3"/><circle cx="153.6" cy="473" r="1.3"/><circle cx="144.9" cy="484.3" r="1.3"/><circle cx="149" cy="493.8" r="1.3"/><circle cx="145.1" cy="475.9" r="1.3"/><circle cx="157.5" cy="482.7" r="1.3"/><circle cx="146.4" cy="471.2" r="1.3"/><circle cx="148.7" cy="492.4" r="1.3"/><circle cx="154.5" cy="479.3" r="1.3"/><circle cx="152.8" cy="487.3" r="1.3"/><circle cx="146.8" cy="490.6" r="1.3"/><circle cx="151.4" cy="488.8" r="1.3"/><circle cx="153.4" cy="473.1" r="1.3"/><circle cx="155.6" cy="493.8" r="1.3"/><circle cx="152.1" cy="493.6" r="1.3"/><circle cx="147" cy="489.2" r="1.3"/><circle cx="150.6" cy="493.7" r="1.3"/><circle cx="146.2" cy="472.5" r="1.3"/><circle cx="144.6" cy="488.2" r="1.3"/><circle cx="149.6" cy="492.7" r="1.3"/><circle cx="147" cy="481.3" r="1.3"/><circle cx="147.4" cy="483" r="1.3"/><circle cx="157.4" cy="492.9" r="1.3"/><circle cx="152.5" cy="493.9" r="1.3"/><circle cx="148.2" cy="478.8" r="1.3"/><circle cx="157.6" cy="485.4" r="1.3"/><circle cx="151.8" cy="484.8" r="1.3"/><circle cx="145.2" cy="493" r="1.3"/><circle cx="150.6" cy="474.3" r="1.3"/><circle cx="146.5" cy="477.9" r="1.3"/><circle cx="151.8" cy="488.3" r="1.3"/><circle cx="152.2" cy="493.4" r="1.3"/><circle cx="146.5" cy="487.3" r="1.3"/><circle cx="152" cy="493.7" r="1.3"/><circle cx="144.6" cy="472.7" r="1.3"/><circle cx="150.2" cy="473.6" r="1.3"/><circle cx="158.4" cy="491.8" r="1.3"/><circle cx="148" cy="470.9" r="1.3"/><circle cx="144.5" cy="471.1" r="1.3"/><circle cx="172.5" cy="492" r="1.3"/><circle cx="155.4" cy="495.2" r="1.3"/><circle cx="145" cy="507.4" r="1.3"/><circle cx="145.5" cy="504.8" r="1.3"/><circle cx="163.6" cy="516.2" r="1.3"/><circle cx="169.6" cy="514.9" r="1.3"/><circle cx="151.1" cy="506.1" r="1.3"/><circle cx="147.6" cy="492.3" r="1.3"/><circle cx="163.5" cy="498.7" r="1.3"/><circle cx="156.5" cy="498.5" r="1.3"/><circle cx="155" cy="495.7" r="1.3"/><circle cx="169.6" cy="491.2" r="1.3"/><circle cx="154.7" cy="486.3" r="1.3"/><circle cx="153.2" cy="495.1" r="1.3"/><circle cx="165.2" cy="505.3" r="1.3"/><circle cx="168.6" cy="482.4" r="1.3"/><circle cx="147.8" cy="515.8" r="1.3"/><circle cx="152.7" cy="516.1" r="1.3"/><circle cx="172.2" cy="510" r="1.3"/><circle cx="148.8" cy="498.8" r="1.3"/><circle cx="171.3" cy="486.9" r="1.3"/><circle cx="169" cy="512.2" r="1.3"/><circle cx="152" cy="515" r="1.3"/><circle cx="164.1" cy="507.2" r="1.3"/><circle cx="163.1" cy="516" r="1.3"/><circle cx="165.3" cy="514" r="1.3"/><circle cx="172.2" cy="510.1" r="1.3"/><circle cx="158.2" cy="489.1" r="1.3"/><circle cx="162.2" cy="515.1" r="1.3"/><circle cx="170.4" cy="492.8" r="1.3"/><circle cx="149.3" cy="466.6" r="1.3"/><circle cx="145.5" cy="464.6" r="1.3"/><circle cx="146.5" cy="462.2" r="1.3"/><circle cx="146.6" cy="464.4" r="1.3"/><circle cx="148" cy="471.5" r="1.3"/><circle cx="148.9" cy="460.3" r="1.3"/><circle cx="144.8" cy="465.5" r="1.3"/><circle cx="148.6" cy="462.1" r="1.3"/><circle cx="146.5" cy="462.2" r="1.3"/><circle cx="149.3" cy="471" r="1.3"/><circle cx="149.3" cy="467.4" r="1.3"/><circle cx="145.8" cy="470.3" r="1.3"/><circle cx="157.8" cy="381" r="1.3"/><circle cx="143.8" cy="387.8" r="1.3"/><circle cx="164.4" cy="387.8" r="1.3"/><circle cx="155.8" cy="409.1" r="1.3"/><circle cx="195.9" cy="409.1" r="1.3"/><circle cx="167.2" cy="419.7" r="1.3"/><circle cx="152.8" cy="426.5" r="1.3"/><circle cx="157.8" cy="436.4" r="1.3"/><circle cx="158.5" cy="438.7" r="1.3"/><circle cx="146.3" cy="445.5" r="1.3"/><circle cx="147.2" cy="450.8" r="1.3"/><circle cx="146.8" cy="454.6" r="1.3"/><circle cx="180.6" cy="460.7" r="1.3"/><circle cx="192.6" cy="470.5" r="1.3"/><circle cx="176.8" cy="501.7" r="1.3"/><circle cx="180.6" cy="507" r="1.3"/><circle cx="165.7" cy="463.7" r="1.3"/><circle cx="160.3" cy="456.9" r="1.3"/><circle cx="168.9" cy="474.3" r="1.3"/><circle cx="171.1" cy="484.2" r="1.3"/></g>
</g>
<line x1="122.5" y1="373.4" x2="122.5" y2="533.4" stroke="#222" stroke-width="0.6" stroke-dasharray="1.6 0.8 0.4 0.8"/>
<line x1="144.1" y1="373.4" x2="144.1" y2="533.4" stroke="#222" stroke-width="0.6" stroke-dasharray="1.6 0.8 0.4 0.8"/>
<line x1="54.4" y1="516.8" x2="202.7" y2="516.8" stroke="#222" stroke-width="0.6" stroke-dasharray="1.6 0.8 0.4 0.8"/>
<text x="188.5" y="411.6" font-size="3.2" fill="#222">DDPZ</text>
<text x="81" y="445" font-size="3.2" fill="#222">CA3</text>
<text x="75.5" y="466" font-size="3.2" fill="#222">SLC27A2</text>
<text x="56" y="497.5" font-size="3.2" fill="#222">CD24</text>
<text x="84" y="505.3" font-size="3.2" fill="#222">SOX2</text>
<text x="84.5" y="510.6" font-size="3.2" fill="#222">BIRC5</text>
<text x="177" y="458.8" font-size="3.2" fill="#222">CD300</text>
<text x="184" y="472.4" font-size="3.2" fill="#222">MMP12</text>
<text x="172.5" y="498.8" font-size="3.2" fill="#222">AADACL3</text>
<text x="174" y="510.3" font-size="3.2" fill="#222">DPP6</text>
<rect x="54.4" y="373.4" width="148.3" height="160" fill="none" stroke="#707070" stroke-width="0.7"/>
<line x1="52.2" y1="526.7" x2="54.4" y2="526.7" stroke="#555" stroke-width="0.6"/>
<text x="52.2" y="528.9" font-size="6.3" text-anchor="end" fill="#333">0</text>
<line x1="52.2" y1="488.8" x2="54.4" y2="488.8" stroke="#555" stroke-width="0.6"/>
<text x="52.2" y="491" font-size="6.3" text-anchor="end" fill="#333">5</text>
<line x1="52.2" y1="450.8" x2="54.4" y2="450.8" stroke="#555" stroke-width="0.6"/>
<text x="52.2" y="453" font-size="6.3" text-anchor="end" fill="#333">10</text>
<line x1="52.2" y1="412.9" x2="54.4" y2="412.9" stroke="#555" stroke-width="0.6"/>
<text x="52.2" y="415.1" font-size="6.3" text-anchor="end" fill="#333">15</text>
<line x1="52.2" y1="374.9" x2="54.4" y2="374.9" stroke="#555" stroke-width="0.6"/>
<text x="52.2" y="377.1" font-size="6.3" text-anchor="end" fill="#333">20</text>
<line x1="90.1" y1="533.4" x2="90.1" y2="535.6" stroke="#555" stroke-width="0.6"/>
<text x="90.1" y="541.4" font-size="6.3" text-anchor="middle" fill="#333">−4</text>
<line x1="133.3" y1="533.4" x2="133.3" y2="535.6" stroke="#555" stroke-width="0.6"/>
<text x="133.3" y="541.4" font-size="6.3" text-anchor="middle" fill="#333">0</text>
<line x1="176.5" y1="533.4" x2="176.5" y2="535.6" stroke="#555" stroke-width="0.6"/>
<text x="176.5" y="541.4" font-size="6.3" text-anchor="middle" fill="#333">4</text>
<text x="130.3" y="548.6" font-size="6.35" text-anchor="middle" fill="#111">log2 (fold change)</text>
<text x="42.4" y="453" font-size="6.35" text-anchor="middle" fill="#111" transform="rotate(-90 42.4 453)">-log10(P.adjust)</text>
<text x="213.3" y="445.8" font-size="7.0" fill="#111">significant</text>
<circle cx="215.7" cy="453.1" r="1.2" fill="#ff1010"/>
<text x="222.3" y="454.8" font-size="5.2" fill="#222">Up−regulated</text>
<circle cx="215.7" cy="458.7" r="1.2" fill="#000"/>
<text x="222.3" y="460.4" font-size="5.2" fill="#222">Not−significant</text>
<circle cx="215.7" cy="464.3" r="1.2" fill="#2e55ff"/>
<text x="222.3" y="466" font-size="5.2" fill="#222">Down−regulated</text>
<rect x="57.1" y="212.9" width="149.3" height="132.7" rx="1.2" fill="none" stroke="#a8a8a8" stroke-width="1.2"/>
<text x="129.5" y="204.3" font-size="5.6" text-anchor="middle" font-weight="bold" fill="#111">consensus CDF</text>
<line x1="54.5" y1="340.7" x2="57.1" y2="340.7" stroke="#555" stroke-width="0.6"/>
<text x="51.2" y="342.3" font-size="4.6" text-anchor="end" fill="#333">0.0</text>
<line x1="62.6" y1="345.6" x2="62.6" y2="348.2" stroke="#555" stroke-width="0.6"/>
<text x="64.2" y="350.8" font-size="4.6" text-anchor="end" fill="#333" transform="rotate(-90 64.2 350.8)">0.0</text>
<line x1="54.5" y1="316" x2="57.1" y2="316" stroke="#555" stroke-width="0.6"/>
<text x="51.2" y="317.6" font-size="4.6" text-anchor="end" fill="#333">0.2</text>
<line x1="90.1" y1="345.6" x2="90.1" y2="348.2" stroke="#555" stroke-width="0.6"/>
<text x="91.7" y="350.8" font-size="4.6" text-anchor="end" fill="#333" transform="rotate(-90 91.7 350.8)">0.2</text>
<line x1="54.5" y1="291.3" x2="57.1" y2="291.3" stroke="#555" stroke-width="0.6"/>
<text x="51.2" y="292.9" font-size="4.6" text-anchor="end" fill="#333">0.4</text>
<line x1="117.6" y1="345.6" x2="117.6" y2="348.2" stroke="#555" stroke-width="0.6"/>
<text x="119.2" y="350.8" font-size="4.6" text-anchor="end" fill="#333" transform="rotate(-90 119.2 350.8)">0.4</text>
<line x1="54.5" y1="266.6" x2="57.1" y2="266.6" stroke="#555" stroke-width="0.6"/>
<text x="51.2" y="268.2" font-size="4.6" text-anchor="end" fill="#333">0.6</text>
<line x1="145.1" y1="345.6" x2="145.1" y2="348.2" stroke="#555" stroke-width="0.6"/>
<text x="146.7" y="350.8" font-size="4.6" text-anchor="end" fill="#333" transform="rotate(-90 146.7 350.8)">0.6</text>
<line x1="54.5" y1="241.9" x2="57.1" y2="241.9" stroke="#555" stroke-width="0.6"/>
<text x="51.2" y="243.5" font-size="4.6" text-anchor="end" fill="#333">0.8</text>
<line x1="172.6" y1="345.6" x2="172.6" y2="348.2" stroke="#555" stroke-width="0.6"/>
<text x="174.2" y="350.8" font-size="4.6" text-anchor="end" fill="#333" transform="rotate(-90 174.2 350.8)">0.8</text>
<line x1="54.5" y1="217.2" x2="57.1" y2="217.2" stroke="#555" stroke-width="0.6"/>
<text x="51.2" y="218.8" font-size="4.6" text-anchor="end" fill="#333">1.0</text>
<line x1="200.1" y1="345.6" x2="200.1" y2="348.2" stroke="#555" stroke-width="0.6"/>
<text x="201.7" y="350.8" font-size="4.6" text-anchor="end" fill="#333" transform="rotate(-90 201.7 350.8)">1.0</text>
<text x="129.5" y="367" font-size="4.6" text-anchor="middle" fill="#222">consensus index</text>
<text x="38.9" y="279.5" font-size="4.6" text-anchor="middle" fill="#222" transform="rotate(-90 38.9 279.5)">CDF</text>
<polyline fill="none" stroke="#ff1a1a" stroke-width="1.2" stroke-linejoin="round" points="62.6,292.5 65.3,290.1 195.3,290.1 196.7,288.8 198,283.9 198,220.9 200.1,217.2"/>
<polyline fill="none" stroke="#84ee30" stroke-width="1.2" stroke-linejoin="round" points="62.6,295.3 64,291.3 66.7,275.2 72.2,271.5 84.6,269.3 91.1,266.6 99,261.2 103.2,258.1 108.5,257.5 149.9,257.5 154.2,256.1 165.6,254.2 170,250.4 176.7,244.9 186.3,243.9 193.2,238.8 198.2,234.7 199.7,221.5 200.1,217.2"/>
<polyline fill="none" stroke="#80fce0" stroke-width="1.2" stroke-linejoin="round" points="62.6,277.7 66.7,271.5 70.7,265.4 78.8,262.2 91.1,259.2 97,256.1 105.6,253.1 147,252.8 154.2,251.4 158.4,245.7 162.7,244.5 170,240 176.7,238.8 186.3,238.2 189.1,234.7 196,229.5 198.7,221.5 200.1,217.2"/>
<polyline fill="none" stroke="#4a4aff" stroke-width="1.2" stroke-linejoin="round" points="62.6,269.3 69.5,261.2 76.3,261.2 83,259.2 91.1,258.1 100,256.3 108.5,254.6 115.7,253.1 122.8,249.2 130.7,245.7 134.9,241.4 138.5,239.2 147,236.3 154.2,233.3 161.3,231.6 170.7,231.6 183.1,230.5 191,230 197.2,225.5 200.1,217.2"/>
<rect x="172.4" y="279.4" width="17.3" height="27" fill="#fff" stroke="#777" stroke-width="0.6"/>
<rect x="177.1" y="283.3" width="3.7" height="3" fill="#e00000" stroke="#666" stroke-width="0.2"/>
<text x="184" y="286.5" font-size="4.6" fill="#333">2</text>
<rect x="177.1" y="288.8" width="3.7" height="3" fill="#70e000" stroke="#666" stroke-width="0.2"/>
<text x="184" y="292" font-size="4.6" fill="#333">3</text>
<rect x="177.1" y="294.3" width="3.7" height="3" fill="#70f0d0" stroke="#666" stroke-width="0.2"/>
<text x="184" y="297.5" font-size="4.6" fill="#333">4</text>
<rect x="177.1" y="299.8" width="3.7" height="3" fill="#2020e0" stroke="#666" stroke-width="0.2"/>
<text x="184" y="303" font-size="4.6" fill="#333">5</text>
<text x="387.3" y="205.9" font-size="5.7" text-anchor="middle" font-weight="bold" fill="#111">consensus matrix k=2</text>
<path d="M328.7 242.5H357.2M333.3 242.5V206.4H366.7V242.5M361.3 242.3V240.8H369V242.3M361.3 242.5H446.7" fill="none" stroke="#555" stroke-width="0.7"/>
<rect x="326" y="243.5" width="32.9" height="5.3" fill="#2a80dc"/>
<rect x="358.9" y="243.5" width="90.1" height="5.3" fill="#a0e4e8"/>
<rect x="358.9" y="254.9" width="90.1" height="86.5" fill="#1a3cff"/>
<rect x="325.9" y="341.4" width="33" height="32.1" fill="#1a3cff"/>
<rect x="463" y="224.8" width="16.5" height="17.7" fill="#fff" stroke="#888" stroke-width="0.6"/>
<rect x="467" y="229.2" width="3.5" height="3" fill="#a0e4e8" stroke="#555" stroke-width="0.3"/>
<rect x="467" y="234.9" width="3.5" height="3" fill="#2a80dc" stroke="#555" stroke-width="0.3"/>
<text x="474" y="232.4" font-size="4.6" fill="#222">1</text>
<text x="474" y="238.1" font-size="4.6" fill="#222">2</text>
<path fill="#c9edfa" d="M431.5 97.8A34.5 34.5 0 0 1 431.1 102.6L429.2 102.3A32.6 32.6 0 0 0 429.6 97.8ZM428.5 111.5A34.5 34.5 0 0 1 426.2 115.7L424.6 114.7A32.6 32.6 0 0 0 426.7 110.7ZM422.9 125.7A38.4 38.4 0 0 1 418.7 129L417.6 127.4A36.5 36.5 0 0 0 421.6 124.2ZM354.4 109A44.2 44.2 0 0 1 353.2 102.9L355.1 102.7A42.3 42.3 0 0 0 356.2 108.5ZM347.8 57A63.6 63.6 0 0 1 353.9 50.6L355.2 52A61.6 61.6 0 0 0 349.3 58.2ZM459.8 115.8A65.5 65.5 0 0 1 456.7 124.3L454.9 123.5A63.6 63.6 0 0 0 458 115.3ZM418.3 159.2A65.5 65.5 0 0 1 409.5 161.6L409.1 159.7A63.6 63.6 0 0 0 417.6 157.4Z"/>
<path fill="#afeafa" d="M431.1 102.5A34.5 34.5 0 0 1 430.1 107.1L428.2 106.6A32.6 32.6 0 0 0 429.2 102.2ZM430.1 107.1A34.5 34.5 0 0 1 428.5 111.5L426.7 110.7A32.6 32.6 0 0 0 428.3 106.5ZM416.4 59.8A42.3 42.3 0 0 1 421.5 62.8L420.3 64.4A40.3 40.3 0 0 0 415.6 61.5ZM406 54A44.2 44.2 0 0 1 411.9 55.7L411.3 57.5A42.3 42.3 0 0 0 405.6 55.9ZM400.2 51.3A46.1 46.1 0 0 1 406.5 52.2L406.1 54A44.2 44.2 0 0 0 400.1 53.2ZM387.3 50.2A48.1 48.1 0 0 1 393.9 49.3L394 51.3A46.1 46.1 0 0 0 387.7 52.1ZM450.3 105.4A53.9 53.9 0 0 1 448.6 112.7L446.8 112.1A52 52 0 0 0 448.4 105.1ZM416.4 42.9A57.8 57.8 0 0 1 423.7 46.1L422.8 47.8A55.8 55.8 0 0 0 415.7 44.7ZM335.4 97A61.6 61.6 0 0 1 336 88.4L337.9 88.7A59.7 59.7 0 0 0 337.3 97Z"/>
<path fill="#97e8fa" d="M426.3 115.6A34.5 34.5 0 0 1 423.5 119.5L422 118.2A32.6 32.6 0 0 0 424.6 114.6ZM384.5 131.6A36.5 36.5 0 0 1 379.9 129.5L380.8 127.8A34.5 34.5 0 0 0 385.1 129.7ZM368.8 74.2A36.5 36.5 0 0 1 372.3 70.5L373.6 71.9A34.5 34.5 0 0 0 370.3 75.4ZM381.6 53.8A46.1 46.1 0 0 1 387.8 52.1L388.2 54A44.2 44.2 0 0 0 382.3 55.6ZM384.2 35A63.6 63.6 0 0 1 392.9 33.9L393 35.8A61.6 61.6 0 0 0 384.6 36.9Z"/>
<path fill="#fc98b0" d="M423.5 119.4A34.5 34.5 0 0 1 420.2 122.9L418.9 121.4A32.6 32.6 0 0 0 422 118.2ZM442.7 125.9A53.9 53.9 0 0 1 438.3 131.9L436.8 130.7A52 52 0 0 0 441 124.8ZM392.1 160.7A63.6 63.6 0 0 1 383.3 159.4L383.8 157.5A61.6 61.6 0 0 0 392.2 158.7ZM329.6 96.9A67.4 67.4 0 0 1 330.3 87.6L332.2 87.9A65.5 65.5 0 0 0 331.5 96.9ZM349.8 46.5A69.4 69.4 0 0 1 357.3 40.4L358.4 42A67.4 67.4 0 0 0 351.1 47.9ZM451.8 143A71.3 71.3 0 0 1 444.9 150.1L443.6 148.7A69.4 69.4 0 0 0 450.3 141.7Z"/>
<path fill="#b4ebfa" d="M420.3 122.8A34.5 34.5 0 0 1 416.5 125.8L415.4 124.2A32.6 32.6 0 0 0 419 121.4ZM403.7 131.2A34.5 34.5 0 0 1 398.9 131.8L398.8 129.8A32.6 32.6 0 0 0 403.3 129.3ZM394.3 57.1A40.3 40.3 0 0 1 399.9 57.1L399.8 59A38.4 38.4 0 0 0 394.4 59ZM358.1 113.9A42.3 42.3 0 0 1 356.2 108.3L358.1 107.8A40.3 40.3 0 0 0 359.9 113.1ZM355.1 91.3A42.3 42.3 0 0 1 356.4 85.6L358.2 86.1A40.3 40.3 0 0 0 357.1 91.6ZM350.9 97A46.1 46.1 0 0 1 351.3 90.7L353.2 90.9A44.2 44.2 0 0 0 352.8 97.1ZM443.1 110.9A48.1 48.1 0 0 1 440.8 117.1L439 116.3A46.1 46.1 0 0 0 441.3 110.3ZM355 131A53.9 53.9 0 0 1 350.7 124.9L352.4 123.9A52 52 0 0 0 356.5 129.8ZM400.4 155A57.8 57.8 0 0 1 392.4 154.9L392.5 152.9A55.8 55.8 0 0 0 400.3 153ZM339.7 104.8A57.8 57.8 0 0 1 339.2 96.8L341.2 96.8A55.8 55.8 0 0 0 341.7 104.6Z"/>
<path fill="#fcacc1" d="M416.6 125.7A34.5 34.5 0 0 1 412.5 128.2L411.6 126.4A32.6 32.6 0 0 0 415.5 124.1ZM361 126.2A46.1 46.1 0 0 1 357.3 120.9L359 119.9A44.2 44.2 0 0 0 362.5 124.9ZM343.6 104.3A53.9 53.9 0 0 1 343.1 96.9L345.1 96.9A52 52 0 0 0 345.5 104.1ZM393.3 41.6A55.8 55.8 0 0 1 401 41.6L400.9 43.6A53.9 53.9 0 0 0 393.4 43.5ZM452.5 132A65.5 65.5 0 0 1 447.2 139.4L445.7 138.1A63.6 63.6 0 0 0 450.9 131Z"/>
<path fill="#fbc7d7" d="M412.5 128.1A34.5 34.5 0 0 1 408.1 130L407.5 128.2A32.6 32.6 0 0 0 411.7 126.4ZM419.1 65.9A38.4 38.4 0 0 1 423.3 69.3L421.9 70.7A36.5 36.5 0 0 0 418 67.5ZM410.5 59.3A40.3 40.3 0 0 1 415.7 61.5L414.8 63.2A38.4 38.4 0 0 0 409.9 61.1ZM442.6 104.2A46.1 46.1 0 0 1 441.2 110.5L439.4 109.9A44.2 44.2 0 0 0 440.7 103.9ZM401 39.7A57.8 57.8 0 0 1 408.9 40.8L408.5 42.7A55.8 55.8 0 0 0 400.9 41.6Z"/>
<path fill="#a1e9fa" d="M408.2 130A34.5 34.5 0 0 1 403.6 131.2L403.2 129.3A32.6 32.6 0 0 0 407.6 128.1ZM361.8 81.8A38.4 38.4 0 0 1 364.3 77.1L366 78.1A36.5 36.5 0 0 0 363.6 82.6ZM435.6 114.6A42.3 42.3 0 0 1 432.8 119.8L431.1 118.8A40.3 40.3 0 0 0 433.8 113.8ZM406.7 146.4A50 50 0 0 1 399.8 147.2L399.7 145.3A48.1 48.1 0 0 0 406.3 144.5ZM350.8 125A53.9 53.9 0 0 1 347.4 118.3L349.2 117.6A52 52 0 0 0 352.4 124ZM400.3 153A55.8 55.8 0 0 1 392.5 152.9L392.7 151A53.9 53.9 0 0 0 400.1 151.1ZM408.8 40.8A57.8 57.8 0 0 1 416.5 42.9L415.8 44.8A55.8 55.8 0 0 0 408.4 42.7ZM454.3 114.2A59.7 59.7 0 0 1 451.4 121.9L449.6 121.1A57.8 57.8 0 0 0 452.4 113.6ZM327.6 96.9A69.4 69.4 0 0 1 328.4 87.3L330.3 87.6A67.4 67.4 0 0 0 329.6 96.9Z"/>
<path fill="#fcabc0" d="M399 131.8A34.5 34.5 0 0 1 394.2 131.7L394.4 129.8A32.6 32.6 0 0 0 398.9 129.8ZM363.7 106.4A34.5 34.5 0 0 1 362.7 101.7L364.7 101.5A32.6 32.6 0 0 0 365.6 105.9ZM415.7 44.7A55.8 55.8 0 0 1 422.8 47.8L421.9 49.5A53.9 53.9 0 0 0 415.1 46.5ZM339.6 80.9A59.7 59.7 0 0 1 342.4 73.1L344.2 73.9A57.8 57.8 0 0 0 341.5 81.5Z"/>
<path fill="#fc9ab2" d="M394.3 131.7A34.5 34.5 0 0 1 389.6 131L390 129.1A32.6 32.6 0 0 0 394.5 129.8ZM330.1 106.1A67.4 67.4 0 0 1 329.6 96.8L331.5 96.8A65.5 65.5 0 0 0 332.1 105.8Z"/>
<path fill="#c7edfa" d="M389.7 131A34.5 34.5 0 0 1 385.1 129.7L385.7 127.9A32.6 32.6 0 0 0 390.1 129.2ZM361.3 68A46.1 46.1 0 0 1 365.7 63.4L367 64.8A44.2 44.2 0 0 0 362.8 69.3ZM435.4 129.3A50 50 0 0 1 430.6 134.3L429.3 132.9A48.1 48.1 0 0 0 433.9 128.1ZM351 116.9A50 50 0 0 1 348.7 110.4L350.6 109.9A48.1 48.1 0 0 0 352.8 116.2ZM347.4 103.8A50 50 0 0 1 347 96.9L348.9 96.9A48.1 48.1 0 0 0 349.3 103.6ZM384.3 155.6A59.7 59.7 0 0 1 376.4 153.3L377 151.5A57.8 57.8 0 0 0 384.7 153.7ZM355.4 155.2A71.3 71.3 0 0 1 347.8 148.9L349.1 147.5A69.4 69.4 0 0 0 356.5 153.6ZM347.9 149A71.3 71.3 0 0 1 341.2 141.7L342.8 140.5A69.4 69.4 0 0 0 349.3 147.6ZM331.4 125.3A71.3 71.3 0 0 1 328.2 115.9L330 115.4A69.4 69.4 0 0 0 333.2 124.5Z"/>
<path fill="#fbb1c5" d="M385.1 129.7A34.5 34.5 0 0 1 380.8 127.8L381.7 126.1A32.6 32.6 0 0 0 385.8 127.9ZM418.8 128.9A38.4 38.4 0 0 1 414.2 131.6L413.3 129.9A36.5 36.5 0 0 0 417.7 127.3ZM383.4 31.3A67.4 67.4 0 0 1 392.7 30L392.8 31.9A65.5 65.5 0 0 0 383.8 33.2Z"/>
<path fill="#fbc2d3" d="M380.9 127.8A34.5 34.5 0 0 1 376.8 125.3L377.9 123.7A32.6 32.6 0 0 0 381.8 126.1ZM345.1 97A52 52 0 0 1 345.6 89.8L347.5 90.1A50 50 0 0 0 347 97Z"/>
<path fill="#fbd0de" d="M376.9 125.4A34.5 34.5 0 0 1 373.2 122.3L374.5 120.9A32.6 32.6 0 0 0 378 123.8ZM372.3 131.6A42.3 42.3 0 0 1 367.8 127.9L369.2 126.5A40.3 40.3 0 0 0 373.5 130.1Z"/>
<path fill="#fca2b8" d="M373.2 122.4A34.5 34.5 0 0 1 370 118.8L371.5 117.6A32.6 32.6 0 0 0 374.6 121ZM364.3 62.1A48.1 48.1 0 0 1 369.5 57.9L370.6 59.5A46.1 46.1 0 0 0 365.6 63.5ZM366.1 53.2A53.9 53.9 0 0 1 372.5 49.3L373.3 51.1A52 52 0 0 0 367.2 54.8Z"/>
<path fill="#cbedfa" d="M370.1 118.9A34.5 34.5 0 0 1 367.3 115L369 114A32.6 32.6 0 0 0 371.6 117.7ZM379.9 129.5A36.5 36.5 0 0 1 375.7 126.9L376.8 125.3A34.5 34.5 0 0 0 380.9 127.8ZM373.5 130.1A40.3 40.3 0 0 1 369.2 126.5L370.5 125.1A38.4 38.4 0 0 0 374.6 128.5ZM369.6 67.7A40.3 40.3 0 0 1 373.9 64.2L375 65.8A38.4 38.4 0 0 0 370.9 69.1ZM411.8 55.6A44.2 44.2 0 0 1 417.4 58.1L416.5 59.8A42.3 42.3 0 0 0 411.2 57.5ZM423.6 59.6A46.1 46.1 0 0 1 428.6 63.6L427.2 65A44.2 44.2 0 0 0 422.5 61.2ZM408.4 42.7A55.8 55.8 0 0 1 415.8 44.8L415.2 46.6A53.9 53.9 0 0 0 408 44.5ZM344.1 129A61.6 61.6 0 0 1 340.3 121.3L342 120.6A59.7 59.7 0 0 0 345.8 128ZM373.2 162.5A69.4 69.4 0 0 1 364.4 158.5L365.3 156.8A67.4 67.4 0 0 0 373.9 160.6ZM401.8 28.1A69.4 69.4 0 0 1 411.3 29.4L410.9 31.3A67.4 67.4 0 0 0 401.7 30Z"/>
<path fill="#fbbfd0" d="M367.4 115A34.5 34.5 0 0 1 365.2 110.8L367 110A32.6 32.6 0 0 0 369 114ZM399.1 133.7A36.5 36.5 0 0 1 394.1 133.7L394.2 131.7A34.5 34.5 0 0 0 399 131.8ZM375.7 126.9A36.5 36.5 0 0 1 371.8 123.7L373.2 122.3A34.5 34.5 0 0 0 376.9 125.4ZM384.2 61.1A38.4 38.4 0 0 1 389.4 59.7L389.7 61.6A36.5 36.5 0 0 0 384.9 62.9ZM387.2 142.4A46.1 46.1 0 0 1 381.1 140.6L381.7 138.8A44.2 44.2 0 0 0 387.6 140.5ZM386.1 44.5A53.9 53.9 0 0 1 393.5 43.5L393.7 45.5A52 52 0 0 0 386.5 46.4Z"/>
<path fill="#c8edfa" d="M365.2 110.8A34.5 34.5 0 0 1 363.7 106.3L365.5 105.8A32.6 32.6 0 0 0 367 110.1ZM433.5 97.8A36.5 36.5 0 0 1 433 102.9L431.1 102.6A34.5 34.5 0 0 0 431.5 97.8ZM360.1 86.8A38.4 38.4 0 0 1 361.9 81.8L363.7 82.5A36.5 36.5 0 0 0 361.9 87.3ZM357.1 91.6A40.3 40.3 0 0 1 358.2 86.1L360.1 86.7A38.4 38.4 0 0 0 359 91.9ZM365.8 71.7A40.3 40.3 0 0 1 369.6 67.7L371 69.1A38.4 38.4 0 0 0 367.3 73ZM440.7 103.9A44.2 44.2 0 0 1 439.4 109.9L437.5 109.3A42.3 42.3 0 0 0 438.8 103.6ZM351.3 90.8A46.1 46.1 0 0 1 352.7 84.5L354.5 85.1A44.2 44.2 0 0 0 353.2 91.1ZM387.7 52.1A46.1 46.1 0 0 1 394 51.3L394.2 53.2A44.2 44.2 0 0 0 388.1 54ZM350.8 84.1A48.1 48.1 0 0 1 353 77.8L354.8 78.6A46.1 46.1 0 0 0 352.6 84.6ZM448.4 105.1A52 52 0 0 1 446.8 112.1L444.9 111.6A50 50 0 0 0 446.5 104.8ZM367.3 153.5A63.6 63.6 0 0 1 359.8 148.8L360.9 147.3A61.6 61.6 0 0 0 368.2 151.8ZM338.8 71.7A63.6 63.6 0 0 1 342.9 63.9L344.6 64.9A61.6 61.6 0 0 0 340.6 72.5ZM455.8 134.1A69.4 69.4 0 0 1 450.2 141.9L448.7 140.6A67.4 67.4 0 0 0 454.2 133.1ZM337.5 132.9A69.4 69.4 0 0 1 333.1 124.3L334.9 123.6A67.4 67.4 0 0 0 339.1 131.9ZM333.2 124.5A69.4 69.4 0 0 1 330 115.4L331.9 114.9A67.4 67.4 0 0 0 335 123.8Z"/>
<path fill="#aceafa" d="M362.8 101.8A34.5 34.5 0 0 1 362.5 97L364.4 97A32.6 32.6 0 0 0 364.7 101.5ZM414.3 131.6A38.4 38.4 0 0 1 409.4 133.7L408.8 131.8A36.5 36.5 0 0 0 413.4 129.9ZM378.5 147.9A53.9 53.9 0 0 1 371.7 144.9L372.6 143.2A52 52 0 0 0 379.2 146.1ZM351.9 133.4A57.8 57.8 0 0 1 347.4 126.8L349 125.8A55.8 55.8 0 0 0 353.4 132.2ZM383 29.4A69.4 69.4 0 0 1 392.5 28.1L392.7 30A67.4 67.4 0 0 0 383.4 31.3Z"/>
<path fill="#fbc4d5" d="M362.5 97.1A34.5 34.5 0 0 1 362.8 92.3L364.7 92.6A32.6 32.6 0 0 0 364.4 97.1ZM415.2 133.3A40.3 40.3 0 0 1 410 135.5L409.4 133.7A38.4 38.4 0 0 0 414.3 131.6ZM385 38.8A59.7 59.7 0 0 1 393.2 37.7L393.3 39.7A57.8 57.8 0 0 0 385.4 40.7Z"/>
<path fill="#fca4ba" d="M362.8 92.4A34.5 34.5 0 0 1 363.8 87.7L365.7 88.3A32.6 32.6 0 0 0 364.7 92.7Z"/>
<path fill="#caedfa" d="M363.8 87.8A34.5 34.5 0 0 1 365.4 83.3L367.2 84.1A32.6 32.6 0 0 0 365.7 88.4ZM417.7 127.3A36.5 36.5 0 0 1 413.3 129.9L412.5 128.2A34.5 34.5 0 0 0 416.6 125.7ZM367.3 73A38.4 38.4 0 0 1 371 69.1L372.3 70.5A36.5 36.5 0 0 0 368.8 74.2ZM419.1 54.6A48.1 48.1 0 0 1 424.8 58.1L423.7 59.7A46.1 46.1 0 0 0 418.2 56.3ZM363 60.6A50 50 0 0 1 368.4 56.3L369.5 57.9A48.1 48.1 0 0 0 364.3 62.1ZM436.9 130.6A52 52 0 0 1 431.9 135.8L430.6 134.3A50 50 0 0 0 435.4 129.3ZM357.7 55A57.8 57.8 0 0 1 364 49.9L365.1 51.5A55.8 55.8 0 0 0 359 56.4ZM369.1 150.1A59.7 59.7 0 0 1 362.1 145.7L363.2 144.1A57.8 57.8 0 0 0 370 148.4ZM449.2 130A61.6 61.6 0 0 1 444.2 136.9L442.7 135.6A59.7 59.7 0 0 0 447.6 128.9ZM400.9 164.6A67.4 67.4 0 0 1 391.6 164.5L391.7 162.6A65.5 65.5 0 0 0 400.8 162.7ZM391.8 164.5A67.4 67.4 0 0 1 382.5 163.2L382.9 161.3A65.5 65.5 0 0 0 391.9 162.6ZM401.2 168.5A71.3 71.3 0 0 1 391.3 168.4L391.4 166.4A69.4 69.4 0 0 0 401 166.5ZM363.7 160.3A71.3 71.3 0 0 1 355.3 155.1L356.4 153.5A69.4 69.4 0 0 0 364.6 158.6Z"/>
<path fill="#fbcad9" d="M365.4 83.4A34.5 34.5 0 0 1 367.6 79.2L369.3 80.2A32.6 32.6 0 0 0 367.2 84.2ZM377.2 69A34.5 34.5 0 0 1 381.3 66.6L382.2 68.3A32.6 32.6 0 0 0 378.3 70.6ZM343.1 97A53.9 53.9 0 0 1 343.7 89.5L345.6 89.8A52 52 0 0 0 345.1 97ZM418.9 161.1A67.4 67.4 0 0 1 409.9 163.5L409.5 161.6A65.5 65.5 0 0 0 418.3 159.2Z"/>
<path fill="#fbcbda" d="M367.6 79.2A34.5 34.5 0 0 1 370.3 75.3L371.8 76.6A32.6 32.6 0 0 0 369.2 80.2ZM362.8 69.3A44.2 44.2 0 0 1 367 64.8L368.3 66.2A42.3 42.3 0 0 0 364.3 70.5ZM406.3 144.5A48.1 48.1 0 0 1 399.7 145.3L399.6 143.4A46.1 46.1 0 0 0 405.9 142.6ZM359.5 127.4A48.1 48.1 0 0 1 355.7 121.9L357.3 120.9A46.1 46.1 0 0 0 361 126.2ZM377.8 149.7A55.8 55.8 0 0 1 370.8 146.6L371.7 144.9A53.9 53.9 0 0 0 378.5 147.9ZM355.9 140.6A59.7 59.7 0 0 1 350.3 134.5L351.8 133.3A57.8 57.8 0 0 0 357.3 139.2Z"/>
<path fill="#fd577b" d="M370.3 75.4A34.5 34.5 0 0 1 373.6 71.9L374.9 73.3A32.6 32.6 0 0 0 371.8 76.6Z"/>
<path fill="#d3eefa" d="M373.5 72A34.5 34.5 0 0 1 377.2 69L378.3 70.6A32.6 32.6 0 0 0 374.8 73.4ZM437.3 97.9A40.3 40.3 0 0 1 436.9 103.4L435 103.1A38.4 38.4 0 0 0 435.4 97.8ZM424.2 127.1A40.3 40.3 0 0 1 419.8 130.6L418.7 129A38.4 38.4 0 0 0 422.9 125.7ZM371.6 61.1A44.2 44.2 0 0 1 376.9 57.9L377.7 59.7A42.3 42.3 0 0 0 372.7 62.7ZM348.9 135.8A61.6 61.6 0 0 1 344 128.8L345.7 127.8A59.7 59.7 0 0 0 350.4 134.6ZM374.5 158.8A65.5 65.5 0 0 1 366.2 155.1L367.1 153.4A63.6 63.6 0 0 0 375.2 157Z"/>
<path fill="#96e7fa" d="M381.2 66.6A34.5 34.5 0 0 1 385.6 64.7L386.2 66.5A32.6 32.6 0 0 0 382.1 68.3ZM382.9 57.4A42.3 42.3 0 0 1 388.6 55.9L389 57.8A40.3 40.3 0 0 0 383.6 59.3ZM413.2 144.6A50 50 0 0 1 406.5 146.4L406.2 144.5A48.1 48.1 0 0 0 412.6 142.8ZM408.2 154A57.8 57.8 0 0 1 400.2 155L400.1 153A55.8 55.8 0 0 0 407.8 152.1ZM425.4 42.6A61.6 61.6 0 0 1 432.6 47L431.5 48.6A59.7 59.7 0 0 0 424.5 44.3ZM409.7 161.6A65.5 65.5 0 0 1 400.7 162.7L400.5 160.8A63.6 63.6 0 0 0 409.3 159.7ZM332 115.1A67.4 67.4 0 0 1 330.1 105.9L332 105.7A65.5 65.5 0 0 0 333.8 114.6ZM419.5 162.9A69.4 69.4 0 0 1 410.2 165.4L409.9 163.5A67.4 67.4 0 0 0 418.9 161.1ZM410.4 165.4A69.4 69.4 0 0 1 400.9 166.6L400.8 164.6A67.4 67.4 0 0 0 410 163.5Z"/>
<path fill="#d4eefa" d="M385.5 64.7A34.5 34.5 0 0 1 390.1 63.5L390.5 65.4A32.6 32.6 0 0 0 386.2 66.6ZM425 120.7A36.5 36.5 0 0 1 421.5 124.3L420.2 122.9A34.5 34.5 0 0 0 423.5 119.4ZM457.9 106.5A61.6 61.6 0 0 1 456.1 114.9L454.2 114.3A59.7 59.7 0 0 0 456 106.2Z"/>
<path fill="#9fe8fa" d="M390 63.5A34.5 34.5 0 0 1 394.8 62.8L394.9 64.8A32.6 32.6 0 0 0 390.4 65.4ZM368.5 120.1A36.5 36.5 0 0 1 365.7 115.9L367.3 115A34.5 34.5 0 0 0 370.1 118.9ZM399.5 139.5A42.3 42.3 0 0 1 393.6 139.4L393.8 137.5A40.3 40.3 0 0 0 399.4 137.6ZM399.6 141.4A44.2 44.2 0 0 1 393.4 141.4L393.6 139.4A42.3 42.3 0 0 0 399.5 139.5ZM441.3 110.3A46.1 46.1 0 0 1 439 116.3L437.3 115.5A44.2 44.2 0 0 0 439.4 109.8ZM407.2 48.3A50 50 0 0 1 413.9 50.2L413.2 52A48.1 48.1 0 0 0 406.8 50.2ZM341.5 81.5A57.8 57.8 0 0 1 344.2 73.9L346 74.7A55.8 55.8 0 0 0 343.3 82ZM458.6 98.2A61.6 61.6 0 0 1 457.9 106.7L456 106.4A59.7 59.7 0 0 0 456.7 98.1ZM331.5 96.9A65.5 65.5 0 0 1 332.2 87.9L334.1 88.2A63.6 63.6 0 0 0 333.4 97ZM334 79.3A65.5 65.5 0 0 1 337.1 70.8L338.9 71.6A63.6 63.6 0 0 0 335.9 79.9ZM337 70.9A65.5 65.5 0 0 1 341.3 62.9L342.9 63.9A63.6 63.6 0 0 0 338.8 71.7ZM457.5 135.1A71.3 71.3 0 0 1 451.6 143.1L450.2 141.9A69.4 69.4 0 0 0 455.8 134.1ZM356.1 38.9A71.3 71.3 0 0 1 364.5 33.8L365.4 35.5A69.4 69.4 0 0 0 357.2 40.5Z"/>
<path fill="#93e7fa" d="M394.7 62.8A34.5 34.5 0 0 1 399.5 62.9L399.3 64.8A32.6 32.6 0 0 0 394.8 64.8ZM354.8 78.7A46.1 46.1 0 0 1 357.7 73.1L359.4 74.1A44.2 44.2 0 0 0 356.5 79.5ZM432.5 46.9A61.6 61.6 0 0 1 439.1 52.3L437.8 53.8A59.7 59.7 0 0 0 431.4 48.5ZM360.5 45.3A63.6 63.6 0 0 1 368.1 40.7L368.9 42.4A61.6 61.6 0 0 0 361.6 46.9ZM375.8 37.4A63.6 63.6 0 0 1 384.3 35L384.7 36.9A61.6 61.6 0 0 0 376.5 39.2Z"/>
<path fill="#aeeafa" d="M399.4 62.8A34.5 34.5 0 0 1 404.1 63.5L403.7 65.4A32.6 32.6 0 0 0 399.3 64.8ZM364 117A38.4 38.4 0 0 1 361.6 112.3L363.4 111.5A36.5 36.5 0 0 0 365.7 116ZM359.1 120A44.2 44.2 0 0 1 356.3 114.5L358.1 113.8A42.3 42.3 0 0 0 360.7 119ZM364.9 51.6A55.8 55.8 0 0 1 371.6 47.6L372.5 49.3A53.9 53.9 0 0 0 366.1 53.2ZM342.4 73.3A59.7 59.7 0 0 1 346.2 65.9L347.9 67A57.8 57.8 0 0 0 344.1 74.1ZM434.2 151.2A65.5 65.5 0 0 1 426.3 155.9L425.5 154.1A63.6 63.6 0 0 0 433.1 149.6ZM438.1 39A71.3 71.3 0 0 1 445.8 45.3L444.4 46.7A69.4 69.4 0 0 0 437 40.6Z"/>
<path fill="#fbb6c9" d="M404.1 63.5A34.5 34.5 0 0 1 408.7 64.8L408 66.6A32.6 32.6 0 0 0 403.7 65.4ZM433.1 102.8A36.5 36.5 0 0 1 432 107.7L430.1 107.1A34.5 34.5 0 0 0 431.1 102.5Z"/>
<path fill="#beecfa" d="M408.6 64.8A34.5 34.5 0 0 1 413 66.7L412.1 68.4A32.6 32.6 0 0 0 407.9 66.6ZM410.1 135.5A40.3 40.3 0 0 1 404.7 136.9L404.3 135A38.4 38.4 0 0 0 409.5 133.6ZM362.4 118A40.3 40.3 0 0 1 359.9 113L361.6 112.3A38.4 38.4 0 0 0 364 117ZM360.7 119A42.3 42.3 0 0 1 358.1 113.8L359.9 113A40.3 40.3 0 0 0 362.4 118ZM420.4 143.7A52 52 0 0 1 413.7 146.5L413.1 144.6A50 50 0 0 0 419.5 142ZM407.6 46.4A52 52 0 0 1 414.5 48.4L413.9 50.2A50 50 0 0 0 407.2 48.3ZM357.3 139.2A57.8 57.8 0 0 1 351.8 133.3L353.4 132.1A55.8 55.8 0 0 0 358.6 137.8ZM333.8 114.6A65.5 65.5 0 0 1 332 105.7L334 105.4A63.6 63.6 0 0 0 335.7 114.1Z"/>
<path fill="#fbb8cb" d="M412.9 66.6A34.5 34.5 0 0 1 417 69.1L415.9 70.7A32.6 32.6 0 0 0 412 68.4ZM341.7 104.6A55.8 55.8 0 0 1 341.2 96.8L343.1 96.9A53.9 53.9 0 0 0 343.6 104.3Z"/>
<path fill="#c4ecfa" d="M416.9 69.1A34.5 34.5 0 0 1 420.6 72.1L419.3 73.5A32.6 32.6 0 0 0 415.8 70.7ZM409.2 62.9A36.5 36.5 0 0 1 413.9 65L413 66.7A34.5 34.5 0 0 0 408.6 64.8ZM357 102.6A40.3 40.3 0 0 1 356.7 97L358.6 97A38.4 38.4 0 0 0 358.9 102.3ZM352.8 97.1A44.2 44.2 0 0 1 353.2 90.9L355.2 91.2A42.3 42.3 0 0 0 354.7 97.1ZM425.8 56.4A50 50 0 0 1 431.2 60.8L429.9 62.2A48.1 48.1 0 0 0 424.7 58ZM365.6 141.1A53.9 53.9 0 0 1 359.8 136.3L361.2 134.9A52 52 0 0 0 366.7 139.5ZM392.2 158.7A61.6 61.6 0 0 1 383.8 157.5L384.2 155.6A59.7 59.7 0 0 0 392.4 156.8ZM333.4 97A63.6 63.6 0 0 1 334.1 88.2L336 88.4A61.6 61.6 0 0 0 335.4 97ZM383.8 33.2A65.5 65.5 0 0 1 392.8 31.9L392.9 33.9A63.6 63.6 0 0 0 384.2 35Z"/>
<path fill="#fc9eb6" d="M432 107.6A36.5 36.5 0 0 1 430.2 112.3L428.5 111.5A34.5 34.5 0 0 0 430.1 107.1ZM365.5 122.5A40.3 40.3 0 0 1 362.3 117.9L364 116.9A38.4 38.4 0 0 0 367 121.3ZM428.2 159.2A69.4 69.4 0 0 1 419.4 163L418.7 161.1A67.4 67.4 0 0 0 427.4 157.5Z"/>
<path fill="#fbaec2" d="M430.3 112.3A36.5 36.5 0 0 1 427.9 116.7L426.2 115.7A34.5 34.5 0 0 0 428.5 111.5ZM443.1 97.9A46.1 46.1 0 0 1 442.6 104.3L440.7 104A44.2 44.2 0 0 0 441.2 97.9ZM375.2 157A63.6 63.6 0 0 1 367.1 153.4L368 151.7A61.6 61.6 0 0 0 375.9 155.2Z"/>
<path fill="#fbc1d2" d="M427.9 116.6A36.5 36.5 0 0 1 424.9 120.7L423.5 119.5A34.5 34.5 0 0 0 426.3 115.6ZM444.4 118.6A52 52 0 0 1 441 125L439.3 123.9A50 50 0 0 0 442.6 117.8ZM345.6 90A52 52 0 0 1 347.1 82.9L348.9 83.5A50 50 0 0 0 347.5 90.2Z"/>
<path fill="#94e7fa" d="M421.6 124.2A36.5 36.5 0 0 1 417.6 127.4L416.5 125.8A34.5 34.5 0 0 0 420.3 122.8ZM439.1 116.2A46.1 46.1 0 0 1 436.1 121.9L434.4 120.8A44.2 44.2 0 0 0 437.3 115.4ZM348.9 97A48.1 48.1 0 0 1 349.4 90.4L351.3 90.7A46.1 46.1 0 0 0 350.9 97ZM410.8 31.3A67.4 67.4 0 0 1 419.8 33.8L419.1 35.7A65.5 65.5 0 0 0 410.4 33.2Z"/>
<path fill="#a4e9fa" d="M413.4 129.9A36.5 36.5 0 0 1 408.8 131.8L408.1 130A34.5 34.5 0 0 0 412.5 128.1ZM394.6 60.9A36.5 36.5 0 0 1 399.6 60.9L399.5 62.9A34.5 34.5 0 0 0 394.7 62.8ZM356.7 97.1A40.3 40.3 0 0 1 357.1 91.5L359 91.8A38.4 38.4 0 0 0 358.6 97.1ZM393.7 47.4A50 50 0 0 1 400.6 47.4L400.5 49.3A48.1 48.1 0 0 0 393.8 49.3ZM375.9 155.2A61.6 61.6 0 0 1 368 151.7L369 150A59.7 59.7 0 0 0 376.5 153.4ZM460.3 125.8A69.4 69.4 0 0 1 455.7 134.2L454.1 133.2A67.4 67.4 0 0 0 458.5 125Z"/>
<path fill="#fbacc1" d="M408.8 131.8A36.5 36.5 0 0 1 404 133.1L403.6 131.2A34.5 34.5 0 0 0 408.2 130Z"/>
<path fill="#baebfa" d="M404.1 133.1A36.5 36.5 0 0 1 399 133.7L398.9 131.8A34.5 34.5 0 0 0 403.7 131.2ZM380.3 64.9A36.5 36.5 0 0 1 385 62.9L385.6 64.7A34.5 34.5 0 0 0 381.2 66.6ZM404.8 59.7A38.4 38.4 0 0 1 410 61.2L409.3 63A36.5 36.5 0 0 0 404.4 61.6ZM432 135.7A52 52 0 0 1 426.4 140.2L425.3 138.6A50 50 0 0 0 430.7 134.3ZM450.5 113.1A55.8 55.8 0 0 1 447.8 120.3L446.1 119.5A53.9 53.9 0 0 0 448.7 112.5ZM326.3 106.6A71.3 71.3 0 0 1 325.7 96.7L327.6 96.7A69.4 69.4 0 0 0 328.2 106.3ZM336.2 60A71.3 71.3 0 0 1 342 52L343.5 53.2A69.4 69.4 0 0 0 337.9 61ZM429.8 34A71.3 71.3 0 0 1 438.2 39.1L437.1 40.7A69.4 69.4 0 0 0 428.9 35.7Z"/>
<path fill="#fbb3c6" d="M394.2 133.7A36.5 36.5 0 0 1 389.2 132.9L389.6 131A34.5 34.5 0 0 0 394.3 131.7ZM405.2 57.8A40.3 40.3 0 0 1 410.6 59.3L410 61.2A38.4 38.4 0 0 0 404.8 59.7ZM343.2 112A55.8 55.8 0 0 1 341.6 104.4L343.6 104.2A53.9 53.9 0 0 0 345 111.5Z"/>
<path fill="#9ce8fa" d="M389.3 132.9A36.5 36.5 0 0 1 384.4 131.5L385.1 129.7A34.5 34.5 0 0 0 389.7 131ZM425.5 128.5A42.3 42.3 0 0 1 420.9 132.2L419.8 130.6A40.3 40.3 0 0 0 424.2 127.1ZM415.1 46.5A53.9 53.9 0 0 1 421.9 49.5L421 51.2A52 52 0 0 0 414.4 48.4ZM345.7 119.2A55.8 55.8 0 0 1 343.1 111.9L345 111.4A53.9 53.9 0 0 0 347.4 118.4Z"/>
<path fill="#fbb5c8" d="M371.9 123.8A36.5 36.5 0 0 1 368.5 120L370 118.8A34.5 34.5 0 0 0 373.2 122.4ZM360.1 81.1A40.3 40.3 0 0 1 362.7 76.1L364.3 77.1A38.4 38.4 0 0 0 361.8 81.8ZM416 135A42.3 42.3 0 0 1 410.6 137.3L410 135.5A40.3 40.3 0 0 0 415.2 133.3ZM431 125.6A44.2 44.2 0 0 1 426.7 130L425.4 128.6A42.3 42.3 0 0 0 429.5 124.4Z"/>
<path fill="#fca1b8" d="M365.7 116A36.5 36.5 0 0 1 363.4 111.5L365.2 110.8A34.5 34.5 0 0 0 367.4 115ZM383.8 133.4A38.4 38.4 0 0 1 379 131.2L379.9 129.5A36.5 36.5 0 0 0 384.5 131.6ZM392.5 154.9A57.8 57.8 0 0 1 384.6 153.7L385 151.8A55.8 55.8 0 0 0 392.7 153ZM365.5 156.9A67.4 67.4 0 0 1 357.5 152L358.7 150.4A65.5 65.5 0 0 0 366.4 155.2Z"/>
<path fill="#b6ebfa" d="M363.5 111.6A36.5 36.5 0 0 1 361.8 106.8L363.7 106.3A34.5 34.5 0 0 0 365.2 110.8ZM388.9 57.8A40.3 40.3 0 0 1 394.4 57L394.5 59A38.4 38.4 0 0 0 389.3 59.7ZM364.3 70.5A42.3 42.3 0 0 1 368.3 66.2L369.6 67.7A40.3 40.3 0 0 0 365.8 71.7ZM337.3 97A59.7 59.7 0 0 1 337.9 88.7L339.8 89A57.8 57.8 0 0 0 339.2 97ZM460.6 98.2A63.6 63.6 0 0 1 459.8 107L457.9 106.7A61.6 61.6 0 0 0 458.6 98.2Z"/>
<path fill="#b5ebfa" d="M361.8 106.9A36.5 36.5 0 0 1 360.8 102L362.7 101.7A34.5 34.5 0 0 0 363.7 106.4ZM349.4 90.5A48.1 48.1 0 0 1 350.8 84L352.7 84.5A46.1 46.1 0 0 0 351.3 90.8ZM422.7 47.7A55.8 55.8 0 0 1 429.3 51.8L428.2 53.3A53.9 53.9 0 0 0 421.8 49.5ZM382.3 165.1A69.4 69.4 0 0 1 373 162.4L373.7 160.6A67.4 67.4 0 0 0 382.7 163.2ZM325.7 96.9A71.3 71.3 0 0 1 326.4 87L328.4 87.3A69.4 69.4 0 0 0 327.6 96.9Z"/>
<path fill="#b2eafa" d="M360.8 102.1A36.5 36.5 0 0 1 360.5 97L362.5 97A34.5 34.5 0 0 0 362.8 101.8ZM371.2 133.2A44.2 44.2 0 0 1 366.5 129.3L367.8 127.9A42.3 42.3 0 0 0 372.3 131.6ZM352.6 84.6A46.1 46.1 0 0 1 354.8 78.6L356.6 79.4A44.2 44.2 0 0 0 354.5 85.2ZM370.5 59.5A46.1 46.1 0 0 1 376 56.2L376.9 57.9A44.2 44.2 0 0 0 371.6 61.1ZM379.2 146.1A52 52 0 0 1 372.6 143.2L373.5 141.5A50 50 0 0 0 379.8 144.3ZM379.7 48.3A52 52 0 0 1 386.7 46.4L387 48.3A50 50 0 0 0 380.4 50.1ZM414.5 148.3A53.9 53.9 0 0 1 407.3 150.2L406.9 148.3A52 52 0 0 0 413.9 146.4ZM407.4 150.2A53.9 53.9 0 0 1 400 151.1L399.9 149.2A52 52 0 0 0 407 148.3ZM417 41.1A59.7 59.7 0 0 1 424.6 44.4L423.7 46.1A57.8 57.8 0 0 0 416.4 42.9ZM424.5 44.3A59.7 59.7 0 0 1 431.5 48.6L430.4 50.2A57.8 57.8 0 0 0 423.6 46ZM354.6 142A61.6 61.6 0 0 1 348.8 135.7L350.3 134.5A59.7 59.7 0 0 0 355.9 140.6Z"/>
<path fill="#8fe7fa" d="M360.5 97.1A36.5 36.5 0 0 1 360.9 92.1L362.8 92.3A34.5 34.5 0 0 0 362.5 97.1ZM379.4 63.2A38.4 38.4 0 0 1 384.3 61.1L385 62.9A36.5 36.5 0 0 0 380.3 64.9ZM421 132.1A42.3 42.3 0 0 1 415.9 135.1L415.1 133.4A40.3 40.3 0 0 0 419.9 130.5ZM356.2 108.5A42.3 42.3 0 0 1 355.1 102.7L357 102.5A40.3 40.3 0 0 0 358.1 107.9ZM441.2 97.9A44.2 44.2 0 0 1 440.7 104L438.8 103.7A42.3 42.3 0 0 0 439.3 97.9ZM439.4 109.8A44.2 44.2 0 0 1 437.3 115.5L435.5 114.7A42.3 42.3 0 0 0 437.6 109.2ZM375.4 138.1A46.1 46.1 0 0 1 370 134.7L371.1 133.1A44.2 44.2 0 0 0 376.3 136.4ZM366.7 139.5A52 52 0 0 1 361.2 134.9L362.5 133.5A50 50 0 0 0 367.8 137.9ZM339.2 97A57.8 57.8 0 0 1 339.8 89L341.8 89.3A55.8 55.8 0 0 0 341.2 97ZM356.4 53.5A59.7 59.7 0 0 1 362.8 48.3L364 49.9A57.8 57.8 0 0 0 357.7 55ZM418.3 37.4A63.6 63.6 0 0 1 426.4 40.9L425.5 42.7A61.6 61.6 0 0 0 417.7 39.2ZM464.4 98.2A67.4 67.4 0 0 1 463.6 107.6L461.7 107.3A65.5 65.5 0 0 0 462.5 98.2ZM374.6 33.7A67.4 67.4 0 0 1 383.6 31.2L384 33.1A65.5 65.5 0 0 0 375.2 35.5ZM333.5 69.4A69.4 69.4 0 0 1 338 60.9L339.6 61.9A67.4 67.4 0 0 0 335.3 70.2Z"/>
<path fill="#bfecfa" d="M360.9 92.1A36.5 36.5 0 0 1 362 87.2L363.8 87.7A34.5 34.5 0 0 0 362.8 92.4ZM392.7 153A55.8 55.8 0 0 1 385 151.8L385.4 149.9A53.9 53.9 0 0 0 392.8 151ZM442.8 135.5A59.7 59.7 0 0 1 437.1 141.5L435.8 140.1A57.8 57.8 0 0 0 441.4 134.3ZM437.2 141.4A59.7 59.7 0 0 1 430.7 146.5L429.6 144.9A57.8 57.8 0 0 0 435.9 140ZM438.5 142.8A61.6 61.6 0 0 1 431.8 148.1L430.7 146.5A59.7 59.7 0 0 0 437.2 141.4ZM366.1 37.4A67.4 67.4 0 0 1 374.7 33.7L375.4 35.5A65.5 65.5 0 0 0 367 39.1Z"/>
<path fill="#fd7695" d="M361.9 87.3A36.5 36.5 0 0 1 363.7 82.5L365.4 83.3A34.5 34.5 0 0 0 363.8 87.8Z"/>
<path fill="#a6e9fa" d="M363.6 82.6A36.5 36.5 0 0 1 366 78.1L367.6 79.2A34.5 34.5 0 0 0 365.4 83.4ZM399.4 137.6A40.3 40.3 0 0 1 393.8 137.5L393.9 135.6A38.4 38.4 0 0 0 399.2 135.6ZM400.5 47.4A50 50 0 0 1 407.3 48.4L406.9 50.3A48.1 48.1 0 0 0 400.3 49.3ZM363.3 144.2A57.8 57.8 0 0 1 357.1 139.1L358.5 137.7A55.8 55.8 0 0 0 364.4 142.6ZM344.5 65.1A61.6 61.6 0 0 1 349.4 58.1L350.9 59.3A59.7 59.7 0 0 0 346.1 66.1ZM426.2 40.9A63.6 63.6 0 0 1 433.8 45.5L432.6 47A61.6 61.6 0 0 0 425.4 42.6ZM340.8 130.9A65.5 65.5 0 0 1 336.7 122.8L338.5 122.1A63.6 63.6 0 0 0 342.5 129.9Z"/>
<path fill="#92e7fa" d="M365.9 78.2A36.5 36.5 0 0 1 368.9 74.1L370.3 75.3A34.5 34.5 0 0 0 367.6 79.2ZM353.2 91.1A44.2 44.2 0 0 1 354.5 85.1L356.4 85.6A42.3 42.3 0 0 0 355.1 91.3ZM436.1 121.8A46.1 46.1 0 0 1 432.4 126.9L430.9 125.7A44.2 44.2 0 0 0 434.5 120.7ZM351.2 103.3A46.1 46.1 0 0 1 350.9 96.9L352.8 96.9A44.2 44.2 0 0 0 353.2 103.1ZM444.5 104.5A48.1 48.1 0 0 1 443.1 111L441.2 110.5A46.1 46.1 0 0 0 442.6 104.2ZM361.7 59.2A52 52 0 0 1 367.3 54.7L368.4 56.3A50 50 0 0 0 363 60.6ZM401.4 33.9A63.6 63.6 0 0 1 410.1 35.1L409.7 37A61.6 61.6 0 0 0 401.3 35.8ZM410.4 33.2A65.5 65.5 0 0 1 419.1 35.7L418.5 37.5A63.6 63.6 0 0 0 410 35.1ZM448.8 140.5A67.4 67.4 0 0 1 442.3 147.2L441 145.8A65.5 65.5 0 0 0 447.3 139.2Z"/>
<path fill="#90e7fa" d="M372.2 70.6A36.5 36.5 0 0 1 376.1 67.4L377.2 69A34.5 34.5 0 0 0 373.5 72ZM417.8 138.5A46.1 46.1 0 0 1 411.9 141L411.3 139.2A44.2 44.2 0 0 0 416.9 136.8ZM370.1 134.8A46.1 46.1 0 0 1 365.2 130.7L366.5 129.3A44.2 44.2 0 0 0 371.2 133.2ZM374.5 139.8A48.1 48.1 0 0 1 368.9 136.3L370 134.7A46.1 46.1 0 0 0 375.4 138.1ZM439.4 123.8A50 50 0 0 1 435.3 129.4L433.8 128.2A48.1 48.1 0 0 0 437.8 122.8ZM351.2 77.2A50 50 0 0 1 354.4 71L356.1 72A48.1 48.1 0 0 0 353 78ZM345.5 104.1A52 52 0 0 1 345.1 96.9L347 96.9A50 50 0 0 0 347.4 103.8ZM349.4 76.4A52 52 0 0 1 352.8 70L354.4 71A50 50 0 0 0 351.2 77.2ZM345.2 82.5A53.9 53.9 0 0 1 347.7 75.5L349.5 76.3A52 52 0 0 0 347 83ZM449.7 121A57.8 57.8 0 0 1 445.9 128.1L444.3 127A55.8 55.8 0 0 0 447.9 120.2Z"/>
<path fill="#ceedfa" d="M376.1 67.4A36.5 36.5 0 0 1 380.4 64.8L381.3 66.6A34.5 34.5 0 0 0 377.2 69ZM393.9 51.3A46.1 46.1 0 0 1 400.3 51.3L400.2 53.2A44.2 44.2 0 0 0 394 53.2ZM438.4 131.8A53.9 53.9 0 0 1 433.2 137.2L431.9 135.8A52 52 0 0 0 436.9 130.6Z"/>
<path fill="#a3e9fa" d="M384.9 62.9A36.5 36.5 0 0 1 389.7 61.6L390.1 63.5A34.5 34.5 0 0 0 385.5 64.7ZM388 138.6A42.3 42.3 0 0 1 382.4 137L383.1 135.2A40.3 40.3 0 0 0 388.4 136.7ZM345.9 74.8A55.8 55.8 0 0 1 349.5 68L351.1 69A53.9 53.9 0 0 0 347.7 75.6Z"/>
<path fill="#fca8bd" d="M389.6 61.6A36.5 36.5 0 0 1 394.7 60.9L394.8 62.8A34.5 34.5 0 0 0 390 63.5ZM408 44.5A53.9 53.9 0 0 1 415.2 46.6L414.5 48.4A52 52 0 0 0 407.6 46.4ZM385.1 151.8A55.8 55.8 0 0 1 377.7 149.7L378.4 147.9A53.9 53.9 0 0 0 385.6 150ZM377.1 41A59.7 59.7 0 0 1 385.1 38.8L385.5 40.7A57.8 57.8 0 0 0 377.8 42.8ZM355.1 52.1A61.6 61.6 0 0 1 361.7 46.8L362.8 48.3A59.7 59.7 0 0 0 356.4 53.5ZM358.8 150.5A65.5 65.5 0 0 1 351.8 144.7L353.1 143.3A63.6 63.6 0 0 0 359.9 148.9Z"/>
<path fill="#cfedfa" d="M399.5 60.9A36.5 36.5 0 0 1 404.5 61.6L404.1 63.5A34.5 34.5 0 0 0 399.4 62.8ZM414.7 63.2A38.4 38.4 0 0 1 419.2 66L418.1 67.6A36.5 36.5 0 0 0 413.8 64.9ZM406.4 52.1A46.1 46.1 0 0 1 412.6 53.9L411.9 55.7A44.2 44.2 0 0 0 406 54ZM428.1 53.3A53.9 53.9 0 0 1 433.9 58L432.5 59.4A52 52 0 0 0 426.9 54.8ZM347.8 67.1A57.8 57.8 0 0 1 352.4 60.6L353.9 61.8A55.8 55.8 0 0 0 349.4 68.1ZM430.9 146.5A59.7 59.7 0 0 1 423.7 150.7L422.9 148.9A57.8 57.8 0 0 0 429.8 144.9ZM350.4 134.6A59.7 59.7 0 0 1 345.7 127.8L347.4 126.8A57.8 57.8 0 0 0 351.9 133.4Z"/>
<path fill="#fbc0d1" d="M404.4 61.6A36.5 36.5 0 0 1 409.3 63L408.7 64.8A34.5 34.5 0 0 0 404.1 63.5ZM446.5 104.8A50 50 0 0 1 444.9 111.6L443.1 111A48.1 48.1 0 0 0 444.5 104.5ZM352.4 124A52 52 0 0 1 349.2 117.6L350.9 116.8A50 50 0 0 0 354.1 123ZM401 166.5A69.4 69.4 0 0 1 391.4 166.4L391.6 164.5A67.4 67.4 0 0 0 400.9 164.6Z"/>
<path fill="#fc91aa" d="M413.8 64.9A36.5 36.5 0 0 1 418.1 67.6L417 69.1A34.5 34.5 0 0 0 412.9 66.6ZM446.1 119.4A53.9 53.9 0 0 1 442.6 126L441 125A52 52 0 0 0 444.4 118.6ZM452.2 105.7A55.8 55.8 0 0 1 450.5 113.2L448.6 112.7A53.9 53.9 0 0 0 450.3 105.4ZM391.9 162.6A65.5 65.5 0 0 1 382.9 161.3L383.3 159.4A63.6 63.6 0 0 0 392.1 160.7ZM401.7 30A67.4 67.4 0 0 1 410.9 31.3L410.5 33.2A65.5 65.5 0 0 0 401.5 32Z"/>
<path fill="#fbbccd" d="M418 67.5A36.5 36.5 0 0 1 421.9 70.7L420.6 72.1A34.5 34.5 0 0 0 416.9 69.1Z"/>
<path fill="#96e8fa" d="M435.4 97.8A38.4 38.4 0 0 1 435 103.1L433 102.9A36.5 36.5 0 0 0 433.5 97.8ZM364.4 33.9A71.3 71.3 0 0 1 373.4 30L374.1 31.8A69.4 69.4 0 0 0 365.2 35.6Z"/>
<path fill="#fc8da8" d="M435 103A38.4 38.4 0 0 1 433.8 108.2L432 107.7A36.5 36.5 0 0 0 433.1 102.8Z"/>
<path fill="#98e8fa" d="M433.8 108.1A38.4 38.4 0 0 1 432 113.1L430.2 112.3A36.5 36.5 0 0 0 432 107.6ZM388.5 55.9A42.3 42.3 0 0 1 394.3 55.1L394.4 57A40.3 40.3 0 0 0 388.9 57.8ZM369.4 57.9A48.1 48.1 0 0 1 375.1 54.5L376 56.2A46.1 46.1 0 0 0 370.5 59.5ZM358 128.6A50 50 0 0 1 354 122.9L355.7 121.9A48.1 48.1 0 0 0 359.5 127.4ZM392.4 156.8A59.7 59.7 0 0 1 384.2 155.6L384.6 153.7A57.8 57.8 0 0 0 392.5 154.9ZM392.9 35.8A61.6 61.6 0 0 1 401.4 35.8L401.3 37.8A59.7 59.7 0 0 0 393 37.7Z"/>
<path fill="#b1eafa" d="M432 113.1A38.4 38.4 0 0 1 429.5 117.7L427.9 116.7A36.5 36.5 0 0 0 430.3 112.3ZM410.7 137.3A42.3 42.3 0 0 1 405.1 138.8L404.7 136.9A40.3 40.3 0 0 0 410.1 135.5ZM393.8 49.3A48.1 48.1 0 0 1 400.5 49.3L400.3 51.3A46.1 46.1 0 0 0 393.9 51.3ZM429.8 144.9A57.8 57.8 0 0 1 422.9 148.9L422 147.2A55.8 55.8 0 0 0 428.7 143.3ZM342.5 129.9A63.6 63.6 0 0 1 338.5 122.1L340.3 121.3A61.6 61.6 0 0 0 344.1 129ZM382.7 163.2A67.4 67.4 0 0 1 373.7 160.6L374.4 158.8A65.5 65.5 0 0 0 383.1 161.3ZM410.8 167.3A71.3 71.3 0 0 1 401 168.5L400.9 166.6A69.4 69.4 0 0 0 410.4 165.4Z"/>
<path fill="#d1eefa" d="M429.6 117.7A38.4 38.4 0 0 1 426.4 122L424.9 120.7A36.5 36.5 0 0 0 427.9 116.6ZM353 78A48.1 48.1 0 0 1 356.1 72L357.7 73.1A46.1 46.1 0 0 0 354.8 78.7ZM386.5 46.4A52 52 0 0 1 393.7 45.5L393.8 47.4A50 50 0 0 0 386.9 48.3ZM400.1 151.1A53.9 53.9 0 0 1 392.7 151L392.8 149.1A52 52 0 0 0 400 149.2ZM392.8 151A53.9 53.9 0 0 1 385.4 149.9L385.8 148A52 52 0 0 0 393 149.1ZM349.4 68.1A55.8 55.8 0 0 1 353.9 61.8L355.4 63A53.9 53.9 0 0 0 351.1 69.1ZM378.4 44.7A55.8 55.8 0 0 1 385.9 42.6L386.3 44.5A53.9 53.9 0 0 0 379.1 46.5ZM339.4 113A59.7 59.7 0 0 1 337.8 104.9L339.7 104.7A57.8 57.8 0 0 0 341.3 112.5Z"/>
<path fill="#aaeafa" d="M426.5 121.9A38.4 38.4 0 0 1 422.8 125.7L421.5 124.3A36.5 36.5 0 0 0 425 120.7ZM376.3 136.4A44.2 44.2 0 0 1 371.1 133.1L372.3 131.6A42.3 42.3 0 0 0 377.2 134.7ZM417.3 58A44.2 44.2 0 0 1 422.6 61.2L421.5 62.8A42.3 42.3 0 0 0 416.4 59.8ZM424.7 58A48.1 48.1 0 0 1 429.9 62.2L428.6 63.6A46.1 46.1 0 0 0 423.6 59.6Z"/>
<path fill="#fca6bc" d="M409.5 133.6A38.4 38.4 0 0 1 404.3 135L404 133.1A36.5 36.5 0 0 0 408.8 131.8ZM356.5 79.5A44.2 44.2 0 0 1 359.4 74.1L361 75.1A42.3 42.3 0 0 0 358.3 80.3ZM342.8 64.1A63.6 63.6 0 0 1 347.9 56.9L349.4 58.1A61.6 61.6 0 0 0 344.5 65.1Z"/>
<path fill="#fd7896" d="M404.4 135A38.4 38.4 0 0 1 399.1 135.6L399 133.7A36.5 36.5 0 0 0 404.1 133.1Z"/>
<path fill="#fbc3d3" d="M399.2 135.6A38.4 38.4 0 0 1 393.9 135.6L394.1 133.7A36.5 36.5 0 0 0 399.1 133.7ZM386.9 48.3A50 50 0 0 1 393.8 47.4L393.9 49.3A48.1 48.1 0 0 0 387.3 50.2ZM435.9 140A57.8 57.8 0 0 1 429.6 144.9L428.5 143.3A55.8 55.8 0 0 0 434.6 138.5ZM392.8 33.9A63.6 63.6 0 0 1 401.6 33.9L401.4 35.8A61.6 61.6 0 0 0 392.9 35.8Z"/>
<path fill="#c3ecfa" d="M394 135.6A38.4 38.4 0 0 1 388.7 134.8L389.2 132.9A36.5 36.5 0 0 0 394.2 133.7ZM399.7 59A38.4 38.4 0 0 1 404.9 59.7L404.5 61.6A36.5 36.5 0 0 0 399.5 60.9ZM378.5 61.4A40.3 40.3 0 0 1 383.7 59.2L384.3 61.1A38.4 38.4 0 0 0 379.4 63.2ZM432.8 119.7A42.3 42.3 0 0 1 429.4 124.5L427.9 123.2A40.3 40.3 0 0 0 431.2 118.7ZM377.6 59.7A42.3 42.3 0 0 1 383 57.4L383.7 59.2A40.3 40.3 0 0 0 378.5 61.4ZM394 53.2A44.2 44.2 0 0 1 400.2 53.2L400 55.1A42.3 42.3 0 0 0 394.2 55.1ZM407 148.3A52 52 0 0 1 399.9 149.2L399.8 147.2A50 50 0 0 0 406.7 146.4ZM450.9 98.1A53.9 53.9 0 0 1 450.3 105.5L448.3 105.2A52 52 0 0 0 448.9 98ZM431.4 48.5A59.7 59.7 0 0 1 437.8 53.8L436.5 55.2A57.8 57.8 0 0 0 430.3 50.1ZM408.9 157.8A61.6 61.6 0 0 1 400.4 158.8L400.3 156.9A59.7 59.7 0 0 0 408.5 155.9ZM400.8 162.7A65.5 65.5 0 0 1 391.7 162.6L391.9 160.7A63.6 63.6 0 0 0 400.7 160.8ZM458.5 125A67.4 67.4 0 0 1 454.1 133.2L452.4 132.2A65.5 65.5 0 0 0 456.7 124.2ZM463.5 116.9A69.4 69.4 0 0 1 460.2 125.9L458.4 125.1A67.4 67.4 0 0 0 461.7 116.3ZM467.5 108A71.3 71.3 0 0 1 465.3 117.6L463.5 117.1A69.4 69.4 0 0 0 465.6 107.7Z"/>
<path fill="#fbb1c4" d="M388.8 134.8A38.4 38.4 0 0 1 383.7 133.3L384.4 131.5A36.5 36.5 0 0 0 389.3 132.9Z"/>
<path fill="#fca8be" d="M379 131.2A38.4 38.4 0 0 1 374.5 128.4L375.7 126.9A36.5 36.5 0 0 0 379.9 129.5Z"/>
<path fill="#fca2b9" d="M374.6 128.5A38.4 38.4 0 0 1 370.5 125.1L371.8 123.7A36.5 36.5 0 0 0 375.7 126.9Z"/>
<path fill="#fbb0c4" d="M370.6 125.2A38.4 38.4 0 0 1 367 121.2L368.5 120A36.5 36.5 0 0 0 371.9 123.8ZM343.3 82A55.8 55.8 0 0 1 346 74.7L347.7 75.5A53.9 53.9 0 0 0 345.2 82.5ZM347.4 137A63.6 63.6 0 0 1 342.4 129.8L344 128.8A61.6 61.6 0 0 0 348.9 135.8Z"/>
<path fill="#fbcddc" d="M367 121.3A38.4 38.4 0 0 1 364 116.9L365.7 115.9A36.5 36.5 0 0 0 368.5 120.1ZM441.4 134.3A57.8 57.8 0 0 1 435.8 140.1L434.5 138.6A55.8 55.8 0 0 0 439.9 133ZM423.6 46A57.8 57.8 0 0 1 430.4 50.2L429.3 51.8A55.8 55.8 0 0 0 422.7 47.7ZM362.2 145.8A59.7 59.7 0 0 1 355.8 140.5L357.1 139.1A57.8 57.8 0 0 0 363.3 144.2ZM468.3 98.3A71.3 71.3 0 0 1 467.5 108.2L465.6 107.9A69.4 69.4 0 0 0 466.4 98.3ZM465.4 117.4A71.3 71.3 0 0 1 461.9 126.7L460.2 125.9A69.4 69.4 0 0 0 463.5 116.9Z"/>
<path fill="#ccedfa" d="M361.7 112.4A38.4 38.4 0 0 1 359.9 107.3L361.8 106.8A36.5 36.5 0 0 0 363.5 111.6ZM429.4 132.8A48.1 48.1 0 0 1 424.2 137L423.1 135.4A46.1 46.1 0 0 0 428.1 131.4ZM429.2 51.7A55.8 55.8 0 0 1 435.2 56.6L433.9 58A53.9 53.9 0 0 0 428.1 53.3ZM446 127.9A57.8 57.8 0 0 1 441.3 134.4L439.8 133.2A55.8 55.8 0 0 0 444.3 126.9ZM393.1 39.7A57.8 57.8 0 0 1 401.2 39.7L401 41.6A55.8 55.8 0 0 0 393.3 41.6ZM447.6 128.9A59.7 59.7 0 0 1 442.7 135.6L441.3 134.4A57.8 57.8 0 0 0 446 127.9ZM384.6 36.9A61.6 61.6 0 0 1 393 35.8L393.2 37.7A59.7 59.7 0 0 0 385 38.8Z"/>
<path fill="#fca3b9" d="M360 107.4A38.4 38.4 0 0 1 358.9 102.2L360.8 102A36.5 36.5 0 0 0 361.8 106.9ZM435.7 108.7A40.3 40.3 0 0 1 433.7 113.9L432 113.1A38.4 38.4 0 0 0 433.8 108.1ZM393.4 43.5A53.9 53.9 0 0 1 400.9 43.6L400.7 45.5A52 52 0 0 0 393.5 45.5ZM434.6 138.5A55.8 55.8 0 0 1 428.5 143.3L427.5 141.8A53.9 53.9 0 0 0 433.3 137.1Z"/>
<path fill="#fbbacc" d="M358.9 102.3A38.4 38.4 0 0 1 358.6 97L360.5 97A36.5 36.5 0 0 0 360.8 102.1ZM358.1 107.9A40.3 40.3 0 0 1 357 102.5L358.9 102.2A38.4 38.4 0 0 0 360 107.4ZM381.2 140.6A46.1 46.1 0 0 1 375.3 138L376.2 136.3A44.2 44.2 0 0 0 381.8 138.8ZM419.5 142A50 50 0 0 1 413.1 144.6L412.5 142.8A48.1 48.1 0 0 0 418.6 140.2ZM382.6 27.5A71.3 71.3 0 0 1 392.4 26.1L392.5 28.1A69.4 69.4 0 0 0 383 29.4Z"/>
<path fill="#a9e9fa" d="M358.6 97.1A38.4 38.4 0 0 1 359 91.8L360.9 92.1A36.5 36.5 0 0 0 360.5 97.1ZM405.6 55.9A42.3 42.3 0 0 1 411.3 57.5L410.6 59.3A40.3 40.3 0 0 0 405.2 57.8ZM393.4 143.3A46.1 46.1 0 0 1 387.1 142.4L387.5 140.5A44.2 44.2 0 0 0 393.6 141.4ZM359.9 148.9A63.6 63.6 0 0 1 353.1 143.3L354.5 141.9A61.6 61.6 0 0 0 361.1 147.4ZM427.4 157.5A67.4 67.4 0 0 1 418.7 161.1L418.1 159.3A65.5 65.5 0 0 0 426.5 155.8ZM445.1 150A71.3 71.3 0 0 1 437.3 156.1L436.2 154.5A69.4 69.4 0 0 0 443.7 148.5Z"/>
<path fill="#b9ebfa" d="M359 91.9A38.4 38.4 0 0 1 360.1 86.7L362 87.2A36.5 36.5 0 0 0 360.9 92.1ZM427.6 141.7A53.9 53.9 0 0 1 421.1 145.5L420.3 143.7A52 52 0 0 0 426.5 140.1ZM355.3 63.1A53.9 53.9 0 0 1 360.5 57.7L361.8 59.1A52 52 0 0 0 356.8 64.4ZM415.8 151.9A57.8 57.8 0 0 1 408 154L407.7 152.1A55.8 55.8 0 0 0 415.1 150.1ZM433.6 45.4A63.6 63.6 0 0 1 440.5 50.9L439.1 52.3A61.6 61.6 0 0 0 432.5 46.9ZM332.2 88A65.5 65.5 0 0 1 334.1 79.2L335.9 79.7A63.6 63.6 0 0 0 334.1 88.3ZM328.2 106.3A69.4 69.4 0 0 1 327.6 96.7L329.6 96.8A67.4 67.4 0 0 0 330.1 106.1Z"/>
<path fill="#abeafa" d="M364.3 77.2A38.4 38.4 0 0 1 367.4 72.9L368.9 74.1A36.5 36.5 0 0 0 365.9 78.2ZM354.1 123A50 50 0 0 1 350.9 116.8L352.7 116A48.1 48.1 0 0 0 355.7 122ZM348.9 83.6A50 50 0 0 1 351.3 77.1L353 77.8A48.1 48.1 0 0 0 350.8 84.1ZM358.3 65.6A50 50 0 0 1 363.1 60.5L364.4 62A48.1 48.1 0 0 0 359.8 66.8ZM349.2 117.7A52 52 0 0 1 346.9 110.9L348.7 110.4A50 50 0 0 0 351 116.9ZM461.8 107.1A65.5 65.5 0 0 1 459.8 116L457.9 115.4A63.6 63.6 0 0 0 459.8 106.8Z"/>
<path fill="#b3ebfa" d="M370.9 69.1A38.4 38.4 0 0 1 375 65.8L376.1 67.4A36.5 36.5 0 0 0 372.2 70.6ZM352.8 116.2A48.1 48.1 0 0 1 350.6 109.9L352.5 109.4A46.1 46.1 0 0 0 354.6 115.4ZM347.5 90.2A50 50 0 0 1 348.9 83.5L350.8 84A48.1 48.1 0 0 0 349.4 90.5ZM372.7 143.2A52 52 0 0 1 366.6 139.4L367.7 137.9A50 50 0 0 0 373.6 141.5ZM360.4 57.8A53.9 53.9 0 0 1 366.2 53.1L367.3 54.7A52 52 0 0 0 361.7 59.2ZM364.4 142.6A55.8 55.8 0 0 1 358.5 137.7L359.8 136.3A53.9 53.9 0 0 0 365.6 141.1ZM410 35.1A63.6 63.6 0 0 1 418.5 37.5L417.8 39.3A61.6 61.6 0 0 0 409.6 37ZM461.7 116.3A67.4 67.4 0 0 1 458.4 125.1L456.7 124.3A65.5 65.5 0 0 0 459.8 115.8ZM392.5 30A67.4 67.4 0 0 1 401.9 30L401.7 32A65.5 65.5 0 0 0 392.6 32Z"/>
<path fill="#fbc5d5" d="M374.9 65.9A38.4 38.4 0 0 1 379.5 63.1L380.4 64.8A36.5 36.5 0 0 0 376.1 67.4ZM412.6 142.8A48.1 48.1 0 0 1 406.2 144.5L405.8 142.6A46.1 46.1 0 0 0 412 140.9ZM337.7 80.4A61.6 61.6 0 0 1 340.7 72.4L342.4 73.1A59.7 59.7 0 0 0 339.6 80.9ZM335.7 114.1A63.6 63.6 0 0 1 334 105.4L335.9 105.2A61.6 61.6 0 0 0 337.6 113.6ZM401.9 26.2A71.3 71.3 0 0 1 411.7 27.5L411.3 29.4A69.4 69.4 0 0 0 401.8 28.1Z"/>
<path fill="#b0eafa" d="M389.3 59.7A38.4 38.4 0 0 1 394.5 59L394.7 60.9A36.5 36.5 0 0 0 389.6 61.6ZM420.3 64.3A40.3 40.3 0 0 1 424.6 67.9L423.3 69.3A38.4 38.4 0 0 0 419.1 65.9ZM366.6 129.4A44.2 44.2 0 0 1 362.4 124.9L363.9 123.7A42.3 42.3 0 0 0 367.9 128ZM445 111.4A50 50 0 0 1 442.6 117.9L440.8 117.1A48.1 48.1 0 0 0 443.1 110.9ZM347 97A50 50 0 0 1 347.5 90.1L349.4 90.4A48.1 48.1 0 0 0 348.9 97ZM423 148.9A57.8 57.8 0 0 1 415.6 152L415 150.1A55.8 55.8 0 0 0 422.1 147.1ZM328.2 116.1A71.3 71.3 0 0 1 326.3 106.4L328.2 106.2A69.4 69.4 0 0 0 330.1 115.6Z"/>
<path fill="#a8e9fa" d="M394.4 59A38.4 38.4 0 0 1 399.8 59L399.6 60.9A36.5 36.5 0 0 0 394.6 60.9ZM358.2 86.2A40.3 40.3 0 0 1 360.1 81L361.9 81.8A38.4 38.4 0 0 0 360.1 86.8ZM415.6 61.5A40.3 40.3 0 0 1 420.3 64.4L419.2 66A38.4 38.4 0 0 0 414.7 63.2ZM400.3 49.3A48.1 48.1 0 0 1 406.9 50.3L406.5 52.2A46.1 46.1 0 0 0 400.2 51.3ZM399.9 147.2A50 50 0 0 1 393 147.2L393.1 145.2A48.1 48.1 0 0 0 399.8 145.3ZM368.3 56.4A50 50 0 0 1 374.2 52.8L375.1 54.5A48.1 48.1 0 0 0 369.4 57.9ZM356.5 129.8A52 52 0 0 1 352.4 123.9L354 122.9A50 50 0 0 0 358 128.6ZM370.9 146.6A55.8 55.8 0 0 1 364.3 142.6L365.5 141A53.9 53.9 0 0 0 371.8 144.9ZM341.3 112.5A57.8 57.8 0 0 1 339.7 104.7L341.6 104.4A55.8 55.8 0 0 0 343.2 112ZM343.4 53.3A69.4 69.4 0 0 1 350 46.3L351.3 47.7A67.4 67.4 0 0 0 344.8 54.6Z"/>
<path fill="#fbafc3" d="M409.9 61.1A38.4 38.4 0 0 1 414.8 63.2L413.9 65A36.5 36.5 0 0 0 409.2 62.9Z"/>
<path fill="#a0e9fa" d="M436.9 103.3A40.3 40.3 0 0 1 435.7 108.8L433.8 108.2A38.4 38.4 0 0 0 435 103ZM419.9 130.5A40.3 40.3 0 0 1 415.1 133.4L414.2 131.6A38.4 38.4 0 0 0 418.8 128.9ZM438.8 103.6A42.3 42.3 0 0 1 437.5 109.3L435.7 108.8A40.3 40.3 0 0 0 436.9 103.3ZM393.6 141.4A44.2 44.2 0 0 1 387.5 140.5L387.9 138.6A42.3 42.3 0 0 0 393.7 139.4ZM462.5 98.2A65.5 65.5 0 0 1 461.7 107.3L459.8 107A63.6 63.6 0 0 0 460.6 98.2ZM410 163.5A67.4 67.4 0 0 1 400.8 164.6L400.7 162.7A65.5 65.5 0 0 0 409.7 161.6ZM337.9 61A69.4 69.4 0 0 1 343.5 53.2L345 54.4A67.4 67.4 0 0 0 339.5 62Z"/>
<path fill="#fc95ae" d="M433.8 113.8A40.3 40.3 0 0 1 431.1 118.8L429.5 117.7A38.4 38.4 0 0 0 432 113.1Z"/>
<path fill="#fbcada" d="M431.2 118.7A40.3 40.3 0 0 1 427.9 123.2L426.4 122A38.4 38.4 0 0 0 429.6 117.7Z"/>
<path fill="#fbbcce" d="M428 123.1A40.3 40.3 0 0 1 424.1 127.2L422.8 125.7A38.4 38.4 0 0 0 426.5 121.9ZM375.2 35.5A65.5 65.5 0 0 1 384 33.1L384.3 35A63.6 63.6 0 0 0 375.8 37.4Z"/>
<path fill="#fbc4d4" d="M404.8 136.9A40.3 40.3 0 0 1 399.2 137.6L399.1 135.6A38.4 38.4 0 0 0 404.4 135ZM378.1 133A40.3 40.3 0 0 1 373.4 130L374.5 128.4A38.4 38.4 0 0 0 379 131.2ZM392.4 28.1A69.4 69.4 0 0 1 402 28.1L401.9 30A67.4 67.4 0 0 0 392.5 30ZM411.2 29.4A69.4 69.4 0 0 1 420.4 32L419.8 33.8A67.4 67.4 0 0 0 410.8 31.3Z"/>
<path fill="#b8ebfa" d="M393.9 137.5A40.3 40.3 0 0 1 388.3 136.7L388.7 134.8A38.4 38.4 0 0 0 394 135.6ZM374.1 52.8A50 50 0 0 1 380.5 50.1L381.1 51.9A48.1 48.1 0 0 0 375 54.6ZM346.9 111A52 52 0 0 1 345.5 103.9L347.4 103.7A50 50 0 0 0 348.8 110.5ZM400.6 45.5A52 52 0 0 1 407.7 46.5L407.3 48.4A50 50 0 0 0 400.5 47.4ZM451.4 121.8A59.7 59.7 0 0 1 447.5 129.1L445.9 128.1A57.8 57.8 0 0 0 449.7 121ZM432 148A61.6 61.6 0 0 1 424.6 152.4L423.7 150.7A59.7 59.7 0 0 0 430.9 146.5ZM383.5 159.4A63.6 63.6 0 0 1 375 156.9L375.7 155.1A61.6 61.6 0 0 0 383.9 157.5ZM335 123.8A67.4 67.4 0 0 1 331.9 114.9L333.8 114.4A65.5 65.5 0 0 0 336.8 123ZM365.2 35.6A69.4 69.4 0 0 1 374.1 31.8L374.7 33.7A67.4 67.4 0 0 0 366.1 37.4Z"/>
<path fill="#fbb7ca" d="M388.4 136.7A40.3 40.3 0 0 1 383.1 135.2L383.7 133.3A38.4 38.4 0 0 0 388.8 134.8Z"/>
<path fill="#fbcddb" d="M383.2 135.2A40.3 40.3 0 0 1 378 132.9L379 131.2A38.4 38.4 0 0 0 383.8 133.4Z"/>
<path fill="#a2e9fa" d="M369.2 126.6A40.3 40.3 0 0 1 365.5 122.4L367 121.2A38.4 38.4 0 0 0 370.6 125.2ZM385.6 150A53.9 53.9 0 0 1 378.4 147.9L379 146A52 52 0 0 0 386 148.1ZM400.7 43.5A53.9 53.9 0 0 1 408.1 44.6L407.7 46.5A52 52 0 0 0 400.6 45.5ZM428.7 143.3A55.8 55.8 0 0 1 422 147.2L421.1 145.5A53.9 53.9 0 0 0 427.6 141.7ZM353.4 132.2A55.8 55.8 0 0 1 349 125.8L350.7 124.9A53.9 53.9 0 0 0 355 131ZM383.9 157.5A61.6 61.6 0 0 1 375.7 155.1L376.4 153.3A59.7 59.7 0 0 0 384.3 155.6ZM401.5 32A65.5 65.5 0 0 1 410.5 33.2L410.1 35.1A63.6 63.6 0 0 0 401.4 33.9ZM357.2 40.5A69.4 69.4 0 0 1 365.4 35.5L366.3 37.3A67.4 67.4 0 0 0 358.3 42.1Z"/>
<path fill="#fbbacd" d="M359.9 113.1A40.3 40.3 0 0 1 358.1 107.8L359.9 107.3A38.4 38.4 0 0 0 361.7 112.4Z"/>
<path fill="#bcebfa" d="M362.6 76.2A40.3 40.3 0 0 1 365.9 71.6L367.4 72.9A38.4 38.4 0 0 0 364.3 77.2ZM408.5 155.9A59.7 59.7 0 0 1 400.3 156.9L400.2 155A57.8 57.8 0 0 0 408.2 154Z"/>
<path fill="#c1ecfa" d="M373.8 64.3A40.3 40.3 0 0 1 378.6 61.4L379.5 63.1A38.4 38.4 0 0 0 374.9 65.9ZM382.5 137A42.3 42.3 0 0 1 377.1 134.6L378 132.9A40.3 40.3 0 0 0 383.2 135.2ZM421.4 62.8A42.3 42.3 0 0 1 425.9 66.5L424.6 67.9A40.3 40.3 0 0 0 420.3 64.3ZM412 140.9A46.1 46.1 0 0 1 405.8 142.6L405.4 140.7A44.2 44.2 0 0 0 411.4 139.1ZM437.8 122.8A48.1 48.1 0 0 1 433.8 128.2L432.4 126.9A46.1 46.1 0 0 0 436.1 121.8ZM444.3 126.9A55.8 55.8 0 0 1 439.8 133.2L438.3 131.9A53.9 53.9 0 0 0 442.7 125.9ZM452.4 113.6A57.8 57.8 0 0 1 449.6 121.1L447.8 120.3A55.8 55.8 0 0 0 450.5 113.1ZM344.1 74.1A57.8 57.8 0 0 1 347.9 67L349.5 68A55.8 55.8 0 0 0 345.9 74.8ZM456.7 124.2A65.5 65.5 0 0 1 452.4 132.2L450.8 131.1A63.6 63.6 0 0 0 455 123.4ZM419.6 33.8A67.4 67.4 0 0 1 428.2 37.5L427.3 39.2A65.5 65.5 0 0 0 419 35.6ZM348.5 45A71.3 71.3 0 0 1 356.2 38.8L357.3 40.4A69.4 69.4 0 0 0 349.8 46.5Z"/>
<path fill="#fc93ac" d="M383.6 59.3A40.3 40.3 0 0 1 389 57.8L389.4 59.7A38.4 38.4 0 0 0 384.2 61.1Z"/>
<path fill="#9ae8fa" d="M399.8 57.1A40.3 40.3 0 0 1 405.3 57.8L404.9 59.7A38.4 38.4 0 0 0 399.7 59ZM444.3 136.8A61.6 61.6 0 0 1 438.4 142.9L437.1 141.5A59.7 59.7 0 0 0 442.8 135.5Z"/>
<path fill="#fbc6d6" d="M439.3 97.9A42.3 42.3 0 0 1 438.8 103.7L436.9 103.4A40.3 40.3 0 0 0 437.3 97.9ZM359.8 66.8A48.1 48.1 0 0 1 364.4 62L365.7 63.4A46.1 46.1 0 0 0 361.3 68ZM370.6 46A57.8 57.8 0 0 1 377.9 42.8L378.6 44.6A55.8 55.8 0 0 0 371.4 47.7Z"/>
<path fill="#fbbbcd" d="M437.6 109.2A42.3 42.3 0 0 1 435.5 114.7L433.7 113.9A40.3 40.3 0 0 0 435.7 108.7ZM359 56.4A55.8 55.8 0 0 1 365.1 51.5L366.2 53.1A53.9 53.9 0 0 0 360.4 57.8ZM346.3 55.8A65.5 65.5 0 0 1 352.6 49.2L353.9 50.6A63.6 63.6 0 0 0 347.8 57Z"/>
<path fill="#d2eefa" d="M429.5 124.4A42.3 42.3 0 0 1 425.4 128.6L424.1 127.2A40.3 40.3 0 0 0 428 123.1ZM441 124.8A52 52 0 0 1 436.8 130.7L435.3 129.4A50 50 0 0 0 439.4 123.8ZM371.4 47.7A55.8 55.8 0 0 1 378.6 44.6L379.2 46.4A53.9 53.9 0 0 0 372.3 49.4ZM459.8 106.8A63.6 63.6 0 0 1 457.9 115.4L456.1 114.9A61.6 61.6 0 0 0 457.9 106.5ZM425.6 154.1A63.6 63.6 0 0 1 417.5 157.5L416.9 155.6A61.6 61.6 0 0 0 424.7 152.3ZM326.4 87.2A71.3 71.3 0 0 1 328.5 77.6L330.3 78.1A69.4 69.4 0 0 0 328.3 87.5Z"/>
<path fill="#fca9be" d="M405.2 138.8A42.3 42.3 0 0 1 399.4 139.5L399.2 137.6A40.3 40.3 0 0 0 404.8 136.9ZM446.8 112A52 52 0 0 1 444.3 118.7L442.6 117.9A50 50 0 0 0 445 111.4ZM328.3 87.5A69.4 69.4 0 0 1 330.3 78.1L332.2 78.6A67.4 67.4 0 0 0 330.2 87.8Z"/>
<path fill="#fbd1df" d="M393.7 139.4A42.3 42.3 0 0 1 387.9 138.6L388.3 136.7A40.3 40.3 0 0 0 393.9 137.5ZM399.7 143.4A46.1 46.1 0 0 1 393.3 143.3L393.4 141.4A44.2 44.2 0 0 0 399.6 141.4ZM399.8 145.3A48.1 48.1 0 0 1 393.1 145.2L393.3 143.3A46.1 46.1 0 0 0 399.7 143.4ZM430.7 134.3A50 50 0 0 1 425.3 138.6L424.2 137A48.1 48.1 0 0 0 429.4 132.8ZM376.5 153.4A59.7 59.7 0 0 1 369 150L369.9 148.3A57.8 57.8 0 0 0 377.2 151.5ZM350.8 59.5A59.7 59.7 0 0 1 356.5 53.4L357.8 54.9A57.8 57.8 0 0 0 352.3 60.7ZM442.4 147.1A67.4 67.4 0 0 1 435.1 152.9L434 151.3A65.5 65.5 0 0 0 441.1 145.7Z"/>
<path fill="#c5ecfa" d="M377.2 134.7A42.3 42.3 0 0 1 372.3 131.6L373.4 130A40.3 40.3 0 0 0 378.1 133ZM368.2 66.3A42.3 42.3 0 0 1 372.8 62.6L373.9 64.2A40.3 40.3 0 0 0 369.6 67.7ZM394.2 55.1A42.3 42.3 0 0 1 400 55.1L399.9 57.1A40.3 40.3 0 0 0 394.3 57.1ZM437.3 115.4A44.2 44.2 0 0 1 434.4 120.8L432.8 119.8A42.3 42.3 0 0 0 435.6 114.6ZM353.2 103.1A44.2 44.2 0 0 1 352.8 96.9L354.7 97A42.3 42.3 0 0 0 355.1 102.8ZM421.3 145.4A53.9 53.9 0 0 1 414.4 148.3L413.7 146.5A52 52 0 0 0 420.4 143.7ZM345.8 128A59.7 59.7 0 0 1 342 120.6L343.8 119.8A57.8 57.8 0 0 0 347.4 127ZM358.3 42.1A67.4 67.4 0 0 1 366.3 37.3L367.2 39A65.5 65.5 0 0 0 359.4 43.7Z"/>
<path fill="#8ee7fa" d="M367.9 128A42.3 42.3 0 0 1 363.9 123.7L365.5 122.4A40.3 40.3 0 0 0 369.2 126.6ZM420 52.9A50 50 0 0 1 425.9 56.5L424.8 58.1A48.1 48.1 0 0 0 419.1 54.6ZM347 83A52 52 0 0 1 349.5 76.3L351.3 77.1A50 50 0 0 0 348.9 83.6ZM346.1 66.1A59.7 59.7 0 0 1 350.9 59.3L352.4 60.6A57.8 57.8 0 0 0 347.8 67.1ZM409.2 38.9A59.7 59.7 0 0 1 417.2 41.1L416.5 42.9A57.8 57.8 0 0 0 408.8 40.8ZM334.1 88.3A63.6 63.6 0 0 1 335.9 79.7L337.8 80.2A61.6 61.6 0 0 0 336 88.6ZM366.4 155.2A65.5 65.5 0 0 1 358.7 150.4L359.8 148.8A63.6 63.6 0 0 0 367.3 153.5ZM345.9 138.3A65.5 65.5 0 0 1 340.7 130.8L342.4 129.8A63.6 63.6 0 0 0 347.4 137ZM352.5 49.3A65.5 65.5 0 0 1 359.5 43.6L360.6 45.2A63.6 63.6 0 0 0 353.8 50.7ZM351.1 47.9A67.4 67.4 0 0 1 358.4 42L359.5 43.6A65.5 65.5 0 0 0 352.5 49.3ZM349.3 147.6A69.4 69.4 0 0 1 342.8 140.5L344.3 139.3A67.4 67.4 0 0 0 350.6 146.2Z"/>
<path fill="#fc99b1" d="M364 123.7A42.3 42.3 0 0 1 360.7 118.9L362.3 117.9A40.3 40.3 0 0 0 365.5 122.5ZM356.3 85.7A42.3 42.3 0 0 1 358.3 80.2L360.1 81A40.3 40.3 0 0 0 358.2 86.2ZM414.4 48.4A52 52 0 0 1 421 51.2L420.1 53A50 50 0 0 0 413.8 50.2ZM420.9 51.2A52 52 0 0 1 427.1 54.9L425.9 56.5A50 50 0 0 0 420 52.9ZM435.3 152.8A67.4 67.4 0 0 1 427.2 157.6L426.3 155.9A65.5 65.5 0 0 0 434.2 151.2ZM411.6 27.5A71.3 71.3 0 0 1 421.1 30.2L420.4 32A69.4 69.4 0 0 0 411.2 29.4Z"/>
<path fill="#d0eefa" d="M355.1 102.8A42.3 42.3 0 0 1 354.7 97L356.7 97A40.3 40.3 0 0 0 357 102.6ZM375.9 56.3A46.1 46.1 0 0 1 381.8 53.7L382.4 55.6A44.2 44.2 0 0 0 376.8 58ZM440.8 117A48.1 48.1 0 0 1 437.7 122.9L436.1 121.9A46.1 46.1 0 0 0 439.1 116.2ZM367.8 137.9A50 50 0 0 1 362.5 133.5L363.8 132.1A48.1 48.1 0 0 0 369 136.4ZM384.7 153.7A57.8 57.8 0 0 1 377 151.5L377.7 149.7A55.8 55.8 0 0 0 385.1 151.8ZM347.4 127A57.8 57.8 0 0 1 343.8 119.8L345.6 119.1A55.8 55.8 0 0 0 349.1 126ZM369.7 44.2A59.7 59.7 0 0 1 377.3 41L377.9 42.8A57.8 57.8 0 0 0 370.6 46ZM340.3 121.5A61.6 61.6 0 0 1 337.5 113.4L339.4 112.9A59.7 59.7 0 0 0 342.1 120.7ZM353.3 143.4A63.6 63.6 0 0 1 347.3 136.9L348.8 135.7A61.6 61.6 0 0 0 354.6 142ZM338.5 122.2A63.6 63.6 0 0 1 335.6 113.9L337.5 113.4A61.6 61.6 0 0 0 340.3 121.5ZM420.3 31.9A69.4 69.4 0 0 1 429.1 35.8L428.2 37.5A67.4 67.4 0 0 0 419.6 33.8Z"/>
<path fill="#91e7fa" d="M354.7 97.1A42.3 42.3 0 0 1 355.2 91.2L357.1 91.5A40.3 40.3 0 0 0 356.7 97.1ZM452.8 98.1A55.8 55.8 0 0 1 452.2 105.8L450.3 105.5A53.9 53.9 0 0 0 450.9 98.1ZM363.8 50A57.8 57.8 0 0 1 370.7 45.9L371.6 47.6A55.8 55.8 0 0 0 364.9 51.6Z"/>
<path fill="#95e7fa" d="M358.3 80.3A42.3 42.3 0 0 1 361 75.1L362.7 76.1A40.3 40.3 0 0 0 360.1 81.1ZM442.6 117.8A50 50 0 0 1 439.3 123.9L437.7 122.9A48.1 48.1 0 0 0 440.8 117ZM349.1 126A55.8 55.8 0 0 1 345.6 119.1L347.4 118.3A53.9 53.9 0 0 0 350.8 125ZM400.6 158.8A61.6 61.6 0 0 1 392 158.7L392.2 156.8A59.7 59.7 0 0 0 400.5 156.9ZM339.1 131.9A67.4 67.4 0 0 1 334.9 123.6L336.7 122.8A65.5 65.5 0 0 0 340.8 130.9Z"/>
<path fill="#bbebfa" d="M361 75.2A42.3 42.3 0 0 1 364.4 70.4L365.9 71.6A40.3 40.3 0 0 0 362.6 76.2ZM399.9 55.1A42.3 42.3 0 0 1 405.7 55.9L405.3 57.8A40.3 40.3 0 0 0 399.8 57.1ZM382.3 55.6A44.2 44.2 0 0 1 388.2 54L388.6 55.9A42.3 42.3 0 0 0 382.9 57.4ZM434.7 43.8A65.5 65.5 0 0 1 441.8 49.5L440.5 50.9A63.6 63.6 0 0 0 433.6 45.4Z"/>
<path fill="#c6edfa" d="M372.7 62.7A42.3 42.3 0 0 1 377.7 59.7L378.6 61.4A40.3 40.3 0 0 0 373.8 64.3ZM359.9 136.4A53.9 53.9 0 0 1 354.9 130.9L356.4 129.7A52 52 0 0 0 361.2 135ZM340.6 72.5A61.6 61.6 0 0 1 344.6 64.9L346.2 65.9A59.7 59.7 0 0 0 342.4 73.3ZM342.9 140.7A69.4 69.4 0 0 1 337.4 132.8L339.1 131.8A67.4 67.4 0 0 0 344.4 139.5Z"/>
<path fill="#adeafa" d="M411.2 57.5A42.3 42.3 0 0 1 416.5 59.8L415.7 61.5A40.3 40.3 0 0 0 410.5 59.3ZM354.5 85.2A44.2 44.2 0 0 1 356.6 79.4L358.3 80.2A42.3 42.3 0 0 0 356.3 85.7ZM354.6 115.4A46.1 46.1 0 0 1 352.5 109.4L354.3 108.9A44.2 44.2 0 0 0 356.3 114.6ZM362.6 133.6A50 50 0 0 1 357.9 128.5L359.4 127.3A48.1 48.1 0 0 0 363.9 132.2ZM342.1 120.7A59.7 59.7 0 0 1 339.4 112.9L341.3 112.4A57.8 57.8 0 0 0 343.9 120ZM441.1 145.7A65.5 65.5 0 0 1 434 151.3L432.9 149.7A63.6 63.6 0 0 0 439.8 144.3ZM437 40.6A69.4 69.4 0 0 1 444.4 46.7L443.1 48.1A67.4 67.4 0 0 0 435.9 42.2Z"/>
<path fill="#fc90aa" d="M434.5 120.7A44.2 44.2 0 0 1 430.9 125.7L429.4 124.5A42.3 42.3 0 0 0 432.8 119.7ZM383.1 161.3A65.5 65.5 0 0 1 374.4 158.8L375 156.9A63.6 63.6 0 0 0 383.5 159.4Z"/>
<path fill="#fc97af" d="M426.8 130A44.2 44.2 0 0 1 422 133.8L420.9 132.2A42.3 42.3 0 0 0 425.5 128.5ZM405.5 140.7A44.2 44.2 0 0 1 399.5 141.4L399.4 139.5A42.3 42.3 0 0 0 405.2 138.8ZM380.5 142.5A48.1 48.1 0 0 1 374.4 139.7L375.3 138A46.1 46.1 0 0 0 381.2 140.6Z"/>
<path fill="#a7e9fa" d="M422.1 133.7A44.2 44.2 0 0 1 416.8 136.8L415.9 135.1A42.3 42.3 0 0 0 421 132.1ZM400.1 53.2A44.2 44.2 0 0 1 406.1 54L405.7 55.9A42.3 42.3 0 0 0 399.9 55.1ZM418.2 56.3A46.1 46.1 0 0 1 423.7 59.7L422.6 61.2A44.2 44.2 0 0 0 417.3 58ZM379.1 46.5A53.9 53.9 0 0 1 386.3 44.5L386.7 46.4A52 52 0 0 0 379.7 48.3ZM385.7 42.6A55.8 55.8 0 0 1 393.4 41.6L393.5 43.5A53.9 53.9 0 0 0 386.1 44.5ZM456 106.2A59.7 59.7 0 0 1 454.2 114.3L452.4 113.8A57.8 57.8 0 0 0 454.1 105.9ZM368.8 42.5A61.6 61.6 0 0 1 376.6 39.1L377.3 41A59.7 59.7 0 0 0 369.7 44.2ZM417.7 39.2A61.6 61.6 0 0 1 425.5 42.7L424.6 44.4A59.7 59.7 0 0 0 417 41.1ZM433.1 149.6A63.6 63.6 0 0 1 425.5 154.1L424.6 152.4A61.6 61.6 0 0 0 432 148ZM409.3 159.7A63.6 63.6 0 0 1 400.5 160.8L400.4 158.8A61.6 61.6 0 0 0 408.9 157.8ZM373.9 31.9A69.4 69.4 0 0 1 383.2 29.3L383.6 31.2A67.4 67.4 0 0 0 374.6 33.7ZM420.2 164.7A71.3 71.3 0 0 1 410.6 167.3L410.2 165.4A69.4 69.4 0 0 0 419.5 162.9Z"/>
<path fill="#fc8ea8" d="M416.9 136.8A44.2 44.2 0 0 1 411.3 139.2L410.6 137.3A42.3 42.3 0 0 0 416 135ZM400.5 156.9A59.7 59.7 0 0 1 392.2 156.8L392.4 154.9A57.8 57.8 0 0 0 400.4 155ZM458 115.3A63.6 63.6 0 0 1 454.9 123.5L453.1 122.7A61.6 61.6 0 0 0 456.1 114.7ZM330.2 87.8A67.4 67.4 0 0 1 332.2 78.6L334.1 79.2A65.5 65.5 0 0 0 332.2 88ZM339.5 62A67.4 67.4 0 0 1 345 54.4L346.5 55.6A65.5 65.5 0 0 0 341.2 63ZM373.3 30.1A71.3 71.3 0 0 1 382.8 27.4L383.2 29.3A69.4 69.4 0 0 0 373.9 31.9Z"/>
<path fill="#fcacc0" d="M411.4 139.1A44.2 44.2 0 0 1 405.4 140.7L405.1 138.8A42.3 42.3 0 0 0 410.7 137.3Z"/>
<path fill="#fc91ab" d="M387.6 140.5A44.2 44.2 0 0 1 381.7 138.8L382.4 137A42.3 42.3 0 0 0 388 138.6ZM435.9 42.2A67.4 67.4 0 0 1 443.1 48.1L441.8 49.5A65.5 65.5 0 0 0 434.7 43.8Z"/>
<path fill="#fbccdb" d="M381.8 138.8A44.2 44.2 0 0 1 376.2 136.3L377.1 134.6A42.3 42.3 0 0 0 382.5 137ZM432.4 126.9A46.1 46.1 0 0 1 428 131.5L426.7 130A44.2 44.2 0 0 0 431 125.6ZM356.8 64.4A52 52 0 0 1 361.8 59.1L363.1 60.5A50 50 0 0 0 358.3 65.6ZM343.7 89.7A53.9 53.9 0 0 1 345.2 82.4L347.1 82.9A52 52 0 0 0 345.6 90ZM422.1 147.1A55.8 55.8 0 0 1 415 150.1L414.4 148.3A53.9 53.9 0 0 0 421.3 145.4ZM352.3 60.7A57.8 57.8 0 0 1 357.8 54.9L359.1 56.3A55.8 55.8 0 0 0 353.8 61.9ZM353.8 50.7A63.6 63.6 0 0 1 360.6 45.2L361.7 46.8A61.6 61.6 0 0 0 355.1 52.1ZM350.6 146.2A67.4 67.4 0 0 1 344.3 139.3L345.8 138.1A65.5 65.5 0 0 0 351.9 144.8ZM428.9 35.7A69.4 69.4 0 0 1 437.1 40.7L436 42.3A67.4 67.4 0 0 0 428 37.4Z"/>
<path fill="#fd7291" d="M362.5 124.9A44.2 44.2 0 0 1 359 119.9L360.7 118.9A42.3 42.3 0 0 0 364 123.7ZM392.6 32A65.5 65.5 0 0 1 401.7 32L401.6 33.9A63.6 63.6 0 0 0 392.8 33.9Z"/>
<path fill="#fbc8d8" d="M356.3 114.6A44.2 44.2 0 0 1 354.3 108.9L356.2 108.3A42.3 42.3 0 0 0 358.1 113.9ZM430.3 50.1A57.8 57.8 0 0 1 436.5 55.2L435.2 56.6A55.8 55.8 0 0 0 429.2 51.7ZM436.4 154.4A69.4 69.4 0 0 1 428.1 159.3L427.2 157.6A67.4 67.4 0 0 0 435.3 152.8Z"/>
<path fill="#fd6385" d="M359.3 74.2A44.2 44.2 0 0 1 362.9 69.2L364.4 70.4A42.3 42.3 0 0 0 361 75.2Z"/>
<path fill="#fc9eb5" d="M366.9 64.9A44.2 44.2 0 0 1 371.7 61L372.8 62.6A42.3 42.3 0 0 0 368.2 66.3ZM405.9 142.6A46.1 46.1 0 0 1 399.6 143.4L399.5 141.4A44.2 44.2 0 0 0 405.5 140.7ZM367 39.1A65.5 65.5 0 0 1 375.4 35.5L376 37.3A63.6 63.6 0 0 0 367.9 40.8Z"/>
<path fill="#b7ebfa" d="M376.8 58A44.2 44.2 0 0 1 382.4 55.6L383 57.4A42.3 42.3 0 0 0 377.6 59.7ZM425.4 138.5A50 50 0 0 1 419.4 142L418.5 140.3A48.1 48.1 0 0 0 424.3 136.9ZM348.8 110.5A50 50 0 0 1 347.4 103.7L349.3 103.4A48.1 48.1 0 0 0 350.6 110ZM413.8 50.2A50 50 0 0 1 420.1 53L419.2 54.7A48.1 48.1 0 0 0 413.1 52ZM373.2 51.1A52 52 0 0 1 379.8 48.3L380.5 50.1A50 50 0 0 0 374.1 52.8ZM462 126.5A71.3 71.3 0 0 1 457.4 135.3L455.7 134.2A69.4 69.4 0 0 0 460.3 125.8ZM420.9 30.1A71.3 71.3 0 0 1 430 34.1L429.1 35.8A69.4 69.4 0 0 0 420.3 31.9Z"/>
<path fill="#bdecfa" d="M388.1 54A44.2 44.2 0 0 1 394.2 53.2L394.3 55.1A42.3 42.3 0 0 0 388.5 55.9ZM357.4 121A46.1 46.1 0 0 1 354.5 115.3L356.3 114.5A44.2 44.2 0 0 0 359.1 120ZM352.5 109.5A46.1 46.1 0 0 1 351.2 103.2L353.2 102.9A44.2 44.2 0 0 0 354.4 109ZM413.9 146.4A52 52 0 0 1 406.9 148.3L406.5 146.4A50 50 0 0 0 413.2 144.6ZM415.1 150.1A55.8 55.8 0 0 1 407.7 152.1L407.3 150.2A53.9 53.9 0 0 0 414.5 148.3ZM424.7 152.3A61.6 61.6 0 0 1 416.9 155.6L416.2 153.8A59.7 59.7 0 0 0 423.9 150.6ZM417.6 157.4A63.6 63.6 0 0 1 409.1 159.7L408.8 157.8A61.6 61.6 0 0 0 417 155.6ZM437.5 156A71.3 71.3 0 0 1 428.9 161L428.1 159.3A69.4 69.4 0 0 0 436.4 154.4ZM328.4 77.7A71.3 71.3 0 0 1 331.8 68.4L333.6 69.2A69.4 69.4 0 0 0 330.3 78.3Z"/>
<path fill="#fbbdcf" d="M422.5 61.2A44.2 44.2 0 0 1 427.2 65L425.9 66.5A42.3 42.3 0 0 0 421.4 62.8ZM336 88.6A61.6 61.6 0 0 1 337.8 80.2L339.6 80.8A59.7 59.7 0 0 0 337.9 88.9Z"/>
<path fill="#fbb7c9" d="M428.1 131.4A46.1 46.1 0 0 1 423.1 135.4L422 133.8A44.2 44.2 0 0 0 426.8 130Z"/>
<path fill="#bcecfa" d="M423.2 135.3A46.1 46.1 0 0 1 417.7 138.6L416.8 136.8A44.2 44.2 0 0 0 422.1 133.7Z"/>
<path fill="#99e8fa" d="M365.2 130.8A46.1 46.1 0 0 1 360.9 126.1L362.4 124.9A44.2 44.2 0 0 0 366.6 129.4ZM393.1 147.2A50 50 0 0 1 386.2 146.1L386.7 144.3A48.1 48.1 0 0 0 393.3 145.2ZM352.7 70.1A52 52 0 0 1 356.9 64.3L358.4 65.5A50 50 0 0 0 354.4 71.1ZM447.9 120.2A55.8 55.8 0 0 1 444.3 127L442.6 126A53.9 53.9 0 0 0 446.1 119.4ZM353.8 61.9A55.8 55.8 0 0 1 359.1 56.3L360.5 57.7A53.9 53.9 0 0 0 355.3 63.1ZM343.9 120A57.8 57.8 0 0 1 341.3 112.4L343.1 111.9A55.8 55.8 0 0 0 345.7 119.2ZM454.2 133.1A67.4 67.4 0 0 1 448.7 140.6L447.2 139.4A65.5 65.5 0 0 0 452.5 132ZM381.9 167A71.3 71.3 0 0 1 372.4 164.2L373 162.4A69.4 69.4 0 0 0 382.3 165.1Z"/>
<path fill="#fbb2c6" d="M357.7 73.2A46.1 46.1 0 0 1 361.4 68L362.9 69.2A44.2 44.2 0 0 0 359.3 74.2Z"/>
<path fill="#c2ecfa" d="M365.6 63.5A46.1 46.1 0 0 1 370.6 59.5L371.7 61A44.2 44.2 0 0 0 366.9 64.9ZM393.3 145.2A48.1 48.1 0 0 1 386.7 144.3L387.1 142.4A46.1 46.1 0 0 0 393.4 143.3ZM393.5 45.5A52 52 0 0 1 400.7 45.5L400.6 47.4A50 50 0 0 0 393.7 47.4ZM454.1 105.9A57.8 57.8 0 0 1 452.4 113.8L450.5 113.2A55.8 55.8 0 0 0 452.2 105.7ZM361.1 147.4A61.6 61.6 0 0 1 354.5 141.9L355.8 140.5A59.7 59.7 0 0 0 362.2 145.8Z"/>
<path fill="#fc89a4" d="M412.5 53.8A46.1 46.1 0 0 1 418.3 56.4L417.4 58.1A44.2 44.2 0 0 0 411.8 55.6Z"/>
<path fill="#fc9fb6" d="M445.1 98A48.1 48.1 0 0 1 444.5 104.6L442.6 104.3A46.1 46.1 0 0 0 443.1 97.9ZM417 155.6A61.6 61.6 0 0 1 408.8 157.8L408.4 155.9A59.7 59.7 0 0 0 416.4 153.8ZM357.7 152.1A67.4 67.4 0 0 1 350.5 146.1L351.8 144.7A65.5 65.5 0 0 0 358.8 150.5Z"/>
<path fill="#a5e9fa" d="M433.9 128.1A48.1 48.1 0 0 1 429.3 132.9L428 131.5A46.1 46.1 0 0 0 432.4 126.9ZM349.3 103.6A48.1 48.1 0 0 1 348.9 96.9L350.9 96.9A46.1 46.1 0 0 0 351.2 103.3ZM400.9 41.6A55.8 55.8 0 0 1 408.5 42.7L408.1 44.6A53.9 53.9 0 0 0 400.7 43.5ZM423.9 150.6A59.7 59.7 0 0 1 416.2 153.8L415.6 152A57.8 57.8 0 0 0 423 148.9ZM450.9 131A63.6 63.6 0 0 1 445.7 138.1L444.2 136.9A61.6 61.6 0 0 0 449.2 130Z"/>
<path fill="#fd6183" d="M424.3 136.9A48.1 48.1 0 0 1 418.5 140.3L417.7 138.6A46.1 46.1 0 0 0 423.2 135.3Z"/>
<path fill="#fbcfdd" d="M418.6 140.2A48.1 48.1 0 0 1 412.5 142.8L411.9 141A46.1 46.1 0 0 0 417.8 138.5Z"/>
<path fill="#fd7c9a" d="M386.8 144.3A48.1 48.1 0 0 1 380.4 142.4L381.1 140.6A46.1 46.1 0 0 0 387.2 142.4Z"/>
<path fill="#fbc2d2" d="M369 136.4A48.1 48.1 0 0 1 363.8 132.1L365.2 130.7A46.1 46.1 0 0 0 370.1 134.8ZM330.1 115.6A69.4 69.4 0 0 1 328.2 106.2L330.1 105.9A67.4 67.4 0 0 0 332 115.1Z"/>
<path fill="#fbd3e1" d="M363.9 132.2A48.1 48.1 0 0 1 359.4 127.3L360.9 126.1A46.1 46.1 0 0 0 365.2 130.8Z"/>
<path fill="#9be8fa" d="M355.7 122A48.1 48.1 0 0 1 352.7 116L354.5 115.3A46.1 46.1 0 0 0 357.4 121ZM413.1 52A48.1 48.1 0 0 1 419.2 54.7L418.3 56.4A46.1 46.1 0 0 0 412.5 53.8ZM362.7 48.4A59.7 59.7 0 0 1 369.8 44.2L370.7 45.9A57.8 57.8 0 0 0 363.8 50ZM465.6 107.7A69.4 69.4 0 0 1 463.5 117.1L461.6 116.5A67.4 67.4 0 0 0 463.7 107.4ZM364.6 158.6A69.4 69.4 0 0 1 356.4 153.5L357.5 152A67.4 67.4 0 0 0 365.5 156.9ZM331.7 68.6A71.3 71.3 0 0 1 336.3 59.8L338 60.9A69.4 69.4 0 0 0 333.5 69.4Z"/>
<path fill="#fd6486" d="M350.6 110A48.1 48.1 0 0 1 349.3 103.4L351.2 103.2A46.1 46.1 0 0 0 352.5 109.5Z"/>
<path fill="#fe4d73" d="M356 72.2A48.1 48.1 0 0 1 359.9 66.7L361.4 68A46.1 46.1 0 0 0 357.7 73.2Z"/>
<path fill="#fd6687" d="M375 54.6A48.1 48.1 0 0 1 381.1 51.9L381.8 53.7A46.1 46.1 0 0 0 375.9 56.3Z"/>
<path fill="#cfeefa" d="M381 52A48.1 48.1 0 0 1 387.4 50.2L387.8 52.1A46.1 46.1 0 0 0 381.6 53.8ZM341.4 141.9A71.3 71.3 0 0 1 335.7 133.8L337.4 132.8A69.4 69.4 0 0 0 342.9 140.7Z"/>
<path fill="#9ee8fa" d="M406.8 50.2A48.1 48.1 0 0 1 413.2 52L412.6 53.9A46.1 46.1 0 0 0 406.4 52.1ZM401.3 35.8A61.6 61.6 0 0 1 409.7 37L409.3 38.9A59.7 59.7 0 0 0 401.1 37.8ZM466.4 98.3A69.4 69.4 0 0 1 465.6 107.9L463.6 107.6A67.4 67.4 0 0 0 464.4 98.2Z"/>
<path fill="#fbd2e0" d="M447 98A50 50 0 0 1 446.4 104.9L444.5 104.6A48.1 48.1 0 0 0 445.1 98ZM376.5 39.2A61.6 61.6 0 0 1 384.7 36.9L385.1 38.8A59.7 59.7 0 0 0 377.1 41ZM344.8 54.6A67.4 67.4 0 0 1 351.3 47.7L352.6 49.2A65.5 65.5 0 0 0 346.3 55.8Z"/>
<path fill="#fbbdce" d="M386.4 146.2A50 50 0 0 1 379.7 144.2L380.4 142.4A48.1 48.1 0 0 0 386.8 144.3Z"/>
<path fill="#fc8fa9" d="M379.8 144.3A50 50 0 0 1 373.5 141.5L374.4 139.7A48.1 48.1 0 0 0 380.5 142.5ZM332.2 78.8A67.4 67.4 0 0 1 335.3 70L337.1 70.8A65.5 65.5 0 0 0 334 79.3Z"/>
<path fill="#fbb4c7" d="M373.6 141.5A50 50 0 0 1 367.7 137.9L368.9 136.3A48.1 48.1 0 0 0 374.5 139.8ZM386 148.1A52 52 0 0 1 379 146L379.7 144.2A50 50 0 0 0 386.4 146.2Z"/>
<path fill="#fc9db5" d="M354.4 71.1A50 50 0 0 1 358.4 65.5L359.9 66.7A48.1 48.1 0 0 0 356 72.2ZM345 111.5A53.9 53.9 0 0 1 343.6 104.2L345.5 103.9A52 52 0 0 0 346.9 111Z"/>
<path fill="#9de8fa" d="M380.4 50.1A50 50 0 0 1 387 48.3L387.4 50.2A48.1 48.1 0 0 0 381 52ZM372.3 49.4A53.9 53.9 0 0 1 379.2 46.4L379.8 48.3A52 52 0 0 0 373.2 51.1ZM377.2 151.5A57.8 57.8 0 0 1 369.9 148.3L370.8 146.6A55.8 55.8 0 0 0 377.8 149.7ZM351.9 144.8A65.5 65.5 0 0 1 345.8 138.1L347.3 136.9A63.6 63.6 0 0 0 353.3 143.4ZM419 35.6A65.5 65.5 0 0 1 427.3 39.2L426.4 40.9A63.6 63.6 0 0 0 418.3 37.4Z"/>
<path fill="#fbc9d8" d="M448.9 98A52 52 0 0 1 448.3 105.2L446.4 104.9A50 50 0 0 0 447 98ZM393 149.1A52 52 0 0 1 385.8 148L386.2 146.1A50 50 0 0 0 393.1 147.2ZM337.8 105.1A59.7 59.7 0 0 1 337.3 96.8L339.2 96.8A57.8 57.8 0 0 0 339.7 104.8Z"/>
<path fill="#fcaabf" d="M426.5 140.1A52 52 0 0 1 420.3 143.7L419.4 142A50 50 0 0 0 425.4 138.5ZM448.7 112.5A53.9 53.9 0 0 1 446.1 119.5L444.3 118.7A52 52 0 0 0 446.8 112ZM368.2 151.8A61.6 61.6 0 0 1 360.9 147.3L362.1 145.7A59.7 59.7 0 0 0 369.1 150.1ZM361.6 46.9A61.6 61.6 0 0 1 368.9 42.4L369.8 44.2A59.7 59.7 0 0 0 362.7 48.4ZM450.3 141.7A69.4 69.4 0 0 1 443.6 148.7L442.3 147.2A67.4 67.4 0 0 0 448.8 140.5Z"/>
<path fill="#fd5b7e" d="M400 149.2A52 52 0 0 1 392.8 149.1L393 147.2A50 50 0 0 0 399.9 147.2Z"/>
<path fill="#fca7bc" d="M361.2 135A52 52 0 0 1 356.4 129.7L357.9 128.5A50 50 0 0 0 362.6 133.6Z"/>
<path fill="#fca0b7" d="M367.2 54.8A52 52 0 0 1 373.3 51.1L374.2 52.8A50 50 0 0 0 368.3 56.4ZM339.8 89.1A57.8 57.8 0 0 1 341.5 81.3L343.4 81.8A55.8 55.8 0 0 0 341.7 89.4ZM336.8 123A65.5 65.5 0 0 1 333.8 114.4L335.6 113.9A63.6 63.6 0 0 0 338.5 122.2ZM341.2 63A65.5 65.5 0 0 1 346.5 55.6L347.9 56.9A63.6 63.6 0 0 0 342.8 64.1ZM443.7 148.5A69.4 69.4 0 0 1 436.2 154.5L435.1 152.9A67.4 67.4 0 0 0 442.4 147.1Z"/>
<path fill="#fd7190" d="M426.9 54.8A52 52 0 0 1 432.5 59.4L431.2 60.8A50 50 0 0 0 425.8 56.4Z"/>
<path fill="#fc7f9c" d="M433.3 137.1A53.9 53.9 0 0 1 427.5 141.8L426.4 140.2A52 52 0 0 0 432 135.7Z"/>
<path fill="#fbbfd1" d="M371.8 144.9A53.9 53.9 0 0 1 365.5 141L366.6 139.4A52 52 0 0 0 372.7 143.2Z"/>
<path fill="#fc9cb4" d="M347.4 118.4A53.9 53.9 0 0 1 345 111.4L346.9 110.9A52 52 0 0 0 349.2 117.7ZM385.4 40.7A57.8 57.8 0 0 1 393.3 39.7L393.4 41.6A55.8 55.8 0 0 0 385.7 42.6ZM356.5 153.6A69.4 69.4 0 0 1 349.1 147.5L350.5 146.1A67.4 67.4 0 0 0 357.7 152.1Z"/>
<path fill="#fc87a2" d="M347.7 75.6A53.9 53.9 0 0 1 351.1 69L352.8 70A52 52 0 0 0 349.4 76.4Z"/>
<path fill="#fc9cb3" d="M351.1 69.1A53.9 53.9 0 0 1 355.4 63L356.9 64.3A52 52 0 0 0 352.7 70.1Z"/>
<path fill="#fd5277" d="M421.8 49.5A53.9 53.9 0 0 1 428.2 53.3L427.1 54.9A52 52 0 0 0 420.9 51.2Z"/>
<path fill="#fbc9d9" d="M439.9 133A55.8 55.8 0 0 1 434.5 138.6L433.2 137.2A53.9 53.9 0 0 0 438.4 131.8Z"/>
<path fill="#a0e8fa" d="M407.8 152.1A55.8 55.8 0 0 1 400.1 153L400 151.1A53.9 53.9 0 0 0 407.4 150.2Z"/>
<path fill="#fd6d8d" d="M358.6 137.8A55.8 55.8 0 0 1 353.4 132.1L354.9 130.9A53.9 53.9 0 0 0 359.9 136.4Z"/>
<path fill="#fd7e9b" d="M341.2 97A55.8 55.8 0 0 1 341.8 89.3L343.7 89.5A53.9 53.9 0 0 0 343.1 97Z"/>
<path fill="#fbbed0" d="M341.7 89.4A55.8 55.8 0 0 1 343.4 81.8L345.2 82.4A53.9 53.9 0 0 0 343.7 89.7Z"/>
<path fill="#fcabbf" d="M454.7 98.1A57.8 57.8 0 0 1 454.1 106.1L452.2 105.8A55.8 55.8 0 0 0 452.8 98.1ZM344.4 139.5A67.4 67.4 0 0 1 339.1 131.8L340.7 130.8A65.5 65.5 0 0 0 345.9 138.3Z"/>
<path fill="#fc92ab" d="M370 148.4A57.8 57.8 0 0 1 363.2 144.1L364.3 142.6A55.8 55.8 0 0 0 370.9 146.6ZM337.6 113.6A61.6 61.6 0 0 1 335.9 105.2L337.8 104.9A59.7 59.7 0 0 0 339.4 113Z"/>
<path fill="#fc97b0" d="M377.8 42.8A57.8 57.8 0 0 1 385.5 40.7L385.9 42.6A55.8 55.8 0 0 0 378.4 44.7Z"/>
<path fill="#fd5075" d="M456.7 98.1A59.7 59.7 0 0 1 456 106.4L454.1 106.1A57.8 57.8 0 0 0 454.7 98.1Z"/>
<path fill="#fc9db4" d="M416.4 153.8A59.7 59.7 0 0 1 408.4 155.9L408 154A57.8 57.8 0 0 0 415.8 151.9ZM372.5 164.3A71.3 71.3 0 0 1 363.5 160.2L364.4 158.5A69.4 69.4 0 0 0 373.2 162.5Z"/>
<path fill="#c0ecfa" d="M337.9 88.9A59.7 59.7 0 0 1 339.6 80.8L341.5 81.3A57.8 57.8 0 0 0 339.8 89.1ZM455 123.4A63.6 63.6 0 0 1 450.8 131.1L449.2 130.1A61.6 61.6 0 0 0 453.2 122.6ZM367.9 40.8A63.6 63.6 0 0 1 376 37.3L376.6 39.1A61.6 61.6 0 0 0 368.8 42.5ZM332.1 105.8A65.5 65.5 0 0 1 331.5 96.8L333.4 96.8A63.6 63.6 0 0 0 334 105.6Z"/>
<path fill="#fca1b7" d="M393 37.7A59.7 59.7 0 0 1 401.3 37.8L401.2 39.7A57.8 57.8 0 0 0 393.1 39.7Z"/>
<path fill="#c6ecfa" d="M401.1 37.8A59.7 59.7 0 0 1 409.3 38.9L408.9 40.8A57.8 57.8 0 0 0 401 39.7Z"/>
<path fill="#fe4f75" d="M456.1 114.7A61.6 61.6 0 0 1 453.1 122.7L451.4 121.9A59.7 59.7 0 0 0 454.3 114.2Z"/>
<path fill="#fbadc1" d="M453.2 122.6A61.6 61.6 0 0 1 449.2 130.1L447.5 129.1A59.7 59.7 0 0 0 451.4 121.8Z"/>
<path fill="#fd587c" d="M335.9 105.3A61.6 61.6 0 0 1 335.4 96.8L337.3 96.8A59.7 59.7 0 0 0 337.8 105.1Z"/>
<path fill="#fbcfde" d="M349.3 58.2A61.6 61.6 0 0 1 355.2 52L356.5 53.4A59.7 59.7 0 0 0 350.8 59.5Z"/>
<path fill="#fd6c8d" d="M409.6 37A61.6 61.6 0 0 1 417.8 39.3L417.2 41.1A59.7 59.7 0 0 0 409.2 38.9Z"/>
<path fill="#fc8da7" d="M445.8 138A63.6 63.6 0 0 1 439.7 144.4L438.4 142.9A61.6 61.6 0 0 0 444.3 136.8Z"/>
<path fill="#8de7fa" d="M439.8 144.3A63.6 63.6 0 0 1 432.9 149.7L431.8 148.1A61.6 61.6 0 0 0 438.5 142.8ZM373.9 160.6A67.4 67.4 0 0 1 365.3 156.8L366.2 155.1A65.5 65.5 0 0 0 374.5 158.8ZM391.6 166.5A69.4 69.4 0 0 1 382.1 165L382.5 163.2A67.4 67.4 0 0 0 391.8 164.5Z"/>
<path fill="#fc9bb3" d="M400.7 160.8A63.6 63.6 0 0 1 391.9 160.7L392 158.7A61.6 61.6 0 0 0 400.6 158.8Z"/>
<path fill="#fca5bb" d="M334 105.6A63.6 63.6 0 0 1 333.4 96.8L335.4 96.8A61.6 61.6 0 0 0 335.9 105.3ZM335.9 79.9A63.6 63.6 0 0 1 338.9 71.6L340.7 72.4A61.6 61.6 0 0 0 337.7 80.4Z"/>
<path fill="#cdedfa" d="M447.3 139.2A65.5 65.5 0 0 1 441 145.8L439.7 144.4A63.6 63.6 0 0 0 445.8 138Z"/>
<path fill="#fbcedd" d="M426.5 155.8A65.5 65.5 0 0 1 418.1 159.3L417.5 157.5A63.6 63.6 0 0 0 425.6 154.1Z"/>
<path fill="#fbc3d4" d="M359.4 43.7A65.5 65.5 0 0 1 367.2 39L368.1 40.7A63.6 63.6 0 0 0 360.5 45.3Z"/>
<path fill="#fbb4c8" d="M427.1 39.1A65.5 65.5 0 0 1 434.9 43.9L433.8 45.5A63.6 63.6 0 0 0 426.2 40.9Z"/>
<path fill="#fe4a70" d="M463.7 107.4A67.4 67.4 0 0 1 461.6 116.5L459.8 116A65.5 65.5 0 0 0 461.8 107.1Z"/>
<path fill="#fbbecf" d="M335.3 70.2A67.4 67.4 0 0 1 339.6 61.9L341.3 62.9A65.5 65.5 0 0 0 337 70.9Z"/>
<path fill="#fd7795" d="M428 37.4A67.4 67.4 0 0 1 436 42.3L434.9 43.9A65.5 65.5 0 0 0 427.1 39.1Z"/>
<path fill="#fbb8ca" d="M330.3 78.3A69.4 69.4 0 0 1 333.6 69.2L335.3 70A67.4 67.4 0 0 0 332.2 78.8Z"/>
<path fill="#fc8aa5" d="M429.1 161A71.3 71.3 0 0 1 420 164.8L419.4 163A69.4 69.4 0 0 0 428.2 159.2Z"/>
<path fill="#fd6f8f" d="M391.5 168.4A71.3 71.3 0 0 1 381.7 166.9L382.1 165A69.4 69.4 0 0 0 391.6 166.5Z"/>
<path fill="#fbc7d6" d="M335.8 133.9A71.3 71.3 0 0 1 331.3 125.1L333.1 124.3A69.4 69.4 0 0 0 337.5 132.9Z"/>
<path fill="#fbcedc" d="M341.9 52.1A71.3 71.3 0 0 1 348.6 44.9L350 46.3A69.4 69.4 0 0 0 343.4 53.3Z"/>
<path fill="#fd6b8b" d="M392.2 26.2A71.3 71.3 0 0 1 402.1 26.2L402 28.1A69.4 69.4 0 0 0 392.4 28.1Z"/>
<path fill="none" stroke="#f4a0bc" stroke-width="0.6" d="M468.3 98.3A71.3 71.3 0 1 1 445.6 45.2"/>
<path fill="#f06a1c" d="M431.4 60.4A50.5 50.5 0 0 1 435.4 64.5L421.8 76.1A32.6 32.6 0 0 0 419.2 73.5Z"/>
<text x="427" y="69.5" font-size="2.6" text-anchor="middle" fill="#111" transform="rotate(316.2 427 69.5)">Normal</text>
<path fill="#86f0a8" d="M445.6 45.2A71.3 71.3 0 0 1 451.2 51L435.4 64.5A50.5 50.5 0 0 0 431.4 60.4Z"/>
<text x="441" y="56.4" font-size="3.6" text-anchor="middle" fill="#111" transform="rotate(316.2 441 56.4)">CG</text>
<text x="470.3" y="103.6" font-size="4.4" transform="rotate(4.9 470.3 103.6)" dominant-baseline="central">DNASE2B</text>
<text x="468.8" y="113.3" font-size="4.4" transform="rotate(12.5 468.8 113.3)" dominant-baseline="central">FCGBP</text>
<text x="466.1" y="122.7" font-size="4.4" transform="rotate(20.2 466.1 122.7)" dominant-baseline="central">MMP9</text>
<text x="462.1" y="131.6" font-size="4.4" transform="rotate(27.8 462.1 131.6)" dominant-baseline="central">ADAMDEC1</text>
<text x="457" y="140" font-size="4.4" transform="rotate(35.4 457 140)" dominant-baseline="central">SPP1</text>
<text x="450.8" y="147.6" font-size="4.4" transform="rotate(43.1 450.8 147.6)" dominant-baseline="central">DCSTAMP</text>
<text x="443.8" y="154.1" font-size="4.4" transform="rotate(50.5 443.8 154.1)" dominant-baseline="central">ABCC3</text>
<text x="436.6" y="159.3" font-size="4.4" transform="rotate(57.4 436.6 159.3)" dominant-baseline="central">UPK1C</text>
<text x="428" y="164.1" font-size="4.4" transform="rotate(65.1 428 164.1)" dominant-baseline="central">MSR1</text>
<text x="418.7" y="167.6" font-size="4.4" transform="rotate(72.8 418.7 167.6)" dominant-baseline="central">AADACL3</text>
<text x="409.1" y="169.9" font-size="4.4" transform="rotate(80.5 409.1 169.9)" dominant-baseline="central">CHI3L1</text>
<text x="399.4" y="170.9" font-size="4.4" transform="rotate(88.1 399.4 170.9)" dominant-baseline="central">CHIT1</text>
<text x="389.8" y="170.5" font-size="4.4" text-anchor="end" transform="rotate(-84.4 389.8 170.5)" dominant-baseline="central">NKX6-2</text>
<text x="380.3" y="169" font-size="4.4" text-anchor="end" transform="rotate(-76.9 380.3 169)" dominant-baseline="central">DTNB</text>
<text x="371.2" y="166.2" font-size="4.4" text-anchor="end" transform="rotate(-69.5 371.2 166.2)" dominant-baseline="central">NMU</text>
<text x="362.4" y="162.3" font-size="4.4" text-anchor="end" transform="rotate(-62 362.4 162.3)" dominant-baseline="central">HES2</text>
<text x="354" y="157" font-size="4.4" text-anchor="end" transform="rotate(-54.2 354 157)" dominant-baseline="central">SLAMF6</text>
<text x="346.2" y="150.5" font-size="4.4" text-anchor="end" transform="rotate(-46.3 346.2 150.5)" dominant-baseline="central">EGFL6</text>
<text x="339.3" y="143" font-size="4.4" text-anchor="end" transform="rotate(-38.4 339.3 143)" dominant-baseline="central">UGT1A7</text>
<text x="333.6" y="134.6" font-size="4.4" text-anchor="end" transform="rotate(-30.5 333.6 134.6)" dominant-baseline="central">MS4A6E</text>
<text x="329" y="125.5" font-size="4.4" text-anchor="end" transform="rotate(-22.5 329 125.5)" dominant-baseline="central">TOX3</text>
<text x="325.8" y="115.9" font-size="4.4" text-anchor="end" transform="rotate(-14.6 325.8 115.9)" dominant-baseline="central">NASSP6</text>
<text x="323.9" y="105.8" font-size="4.4" text-anchor="end" transform="rotate(-6.7 323.9 105.8)" dominant-baseline="central">PTX3</text>
<text x="323.4" y="95.7" font-size="4.4" text-anchor="end" transform="rotate(1.2 323.4 95.7)" dominant-baseline="central">SFX</text>
<text x="324.3" y="85.8" font-size="4.4" text-anchor="end" transform="rotate(9 324.3 85.8)" dominant-baseline="central">ASPG</text>
<text x="326.6" y="76" font-size="4.4" text-anchor="end" transform="rotate(16.8 326.6 76)" dominant-baseline="central">RORB</text>
<text x="330.3" y="66.2" font-size="4.4" text-anchor="end" transform="rotate(25 330.3 66.2)" dominant-baseline="central">CA3</text>
<text x="335.8" y="56.5" font-size="4.4" text-anchor="end" transform="rotate(33.7 335.8 56.5)" dominant-baseline="central">BMP5</text>
<text x="342.5" y="47.8" font-size="4.4" text-anchor="end" transform="rotate(42.2 342.5 47.8)" dominant-baseline="central">PTX3</text>
<text x="349.7" y="40.9" font-size="4.4" text-anchor="end" transform="rotate(50 349.7 40.9)" dominant-baseline="central">MT1G</text>
<text x="357.7" y="35.1" font-size="4.4" text-anchor="end" transform="rotate(57.7 357.7 35.1)" dominant-baseline="central">EMX2</text>
<text x="366.4" y="30.4" font-size="4.4" text-anchor="end" transform="rotate(65.4 366.4 30.4)" dominant-baseline="central">FTCD3</text>
<text x="375.7" y="26.9" font-size="4.4" text-anchor="end" transform="rotate(73.1 375.7 26.9)" dominant-baseline="central">INHBC</text>
<text x="385.3" y="24.6" font-size="4.4" text-anchor="end" transform="rotate(80.8 385.3 24.6)" dominant-baseline="central">CHAP86</text>
<text x="395.2" y="23.7" font-size="4.4" text-anchor="end" transform="rotate(88.6 395.2 23.7)" dominant-baseline="central">NWS3</text>
<text x="405.5" y="24.2" font-size="4.4" transform="rotate(276.6 405.5 24.2)" dominant-baseline="central">SEN2</text>
<text x="415.6" y="26.1" font-size="4.4" transform="rotate(284.6 415.6 26.1)" dominant-baseline="central">ADRB3</text>
<text x="425.3" y="29.4" font-size="4.4" transform="rotate(292.7 425.3 29.4)" dominant-baseline="central">ALK</text>
<text x="434.5" y="34" font-size="4.4" transform="rotate(300.7 434.5 34)" dominant-baseline="central">TTC36</text>
<text x="443" y="39.8" font-size="4.4" transform="rotate(308.7 443 39.8)" dominant-baseline="central">AMN</text>
<linearGradient id="g39797" x1="0" y1="0" x2="0" y2="1"><stop offset="0" stop-color="#ff0a3c"/><stop offset="0.2" stop-color="#fd577b"/><stop offset="0.4" stop-color="#fca5bb"/><stop offset="0.6" stop-color="#faf2fa"/><stop offset="0.8" stop-color="#9be8fa"/><stop offset="1" stop-color="#3cdefa"/></linearGradient>
<text x="392.7" y="85.1" font-size="3.9" fill="#222">Exp</text>
<rect x="392.7" y="86.9" width="5.2" height="28.2" fill="url(#g39797)"/>
<text x="398.6" y="90" font-size="3.4" fill="#222">6</text>
<text x="398.6" y="94.9" font-size="3.4" fill="#222">4</text>
<text x="398.6" y="100.1" font-size="3.4" fill="#222">2</text>
<text x="398.6" y="105.3" font-size="3.4" fill="#222">0</text>
<text x="398.6" y="110.6" font-size="3.4" fill="#222">−2</text>
<text x="398.6" y="115.8" font-size="3.4" fill="#222">−4</text>
<path fill="#bfecfa" d="M431.5 470.6A30.5 30.5 0 0 1 431.2 474.7L429.2 474.5A28.5 28.5 0 0 0 429.5 470.6ZM432.7 484A34.4 34.4 0 0 1 430.6 488.1L428.9 487.1A32.4 32.4 0 0 0 430.9 483.2ZM369.6 492.5A38.3 38.3 0 0 1 366.9 488.1L368.7 487.2A36.3 36.3 0 0 0 371.2 491.4ZM415.6 508.1A40.3 40.3 0 0 1 410.4 509.7L409.9 507.8A38.3 38.3 0 0 0 414.9 506.3ZM372.4 427.2A52 52 0 0 1 378.6 423.7L379.4 425.4A50 50 0 0 0 373.5 428.8ZM376.7 420.2A55.9 55.9 0 0 1 383.8 417.4L384.4 419.3A54 54 0 0 0 377.6 422ZM452.5 501A59.8 59.8 0 0 1 447.9 507.7L446.4 506.5A57.9 57.9 0 0 0 450.9 500Z"/>
<path fill="#8de7fa" d="M431.2 474.6A30.5 30.5 0 0 1 430.4 478.7L428.5 478.2A28.5 28.5 0 0 0 429.2 474.4Z"/>
<path fill="#94e7fa" d="M430.4 478.6A30.5 30.5 0 0 1 429 482.5L427.2 481.8A28.5 28.5 0 0 0 428.5 478.1Z"/>
<path fill="#c3ecfa" d="M429.1 482.5A30.5 30.5 0 0 1 427.2 486.1L425.5 485.1A28.5 28.5 0 0 0 427.3 481.7ZM371.2 491.4A36.3 36.3 0 0 1 368.7 487.2L370.4 486.3A34.4 34.4 0 0 0 372.8 490.3ZM362.8 457.8A40.3 40.3 0 0 1 364.9 452.8L366.7 453.6A38.3 38.3 0 0 0 364.7 458.5ZM367.9 441.4A44.2 44.2 0 0 1 372.1 437.2L373.4 438.7A42.2 42.2 0 0 0 369.3 442.7ZM372 437.3A44.2 44.2 0 0 1 376.8 433.6L377.9 435.3A42.2 42.2 0 0 0 373.3 438.7ZM355.7 461.9A46.1 46.1 0 0 1 357.3 455.9L359.1 456.5A44.2 44.2 0 0 0 357.6 462.3ZM349.1 474.6A52 52 0 0 1 349.1 467.5L351 467.7A50 50 0 0 0 351.1 474.5ZM399.5 524.5A54 54 0 0 1 392.2 523.8L392.5 521.9A52 52 0 0 0 399.5 522.6ZM367 419A61.8 61.8 0 0 1 374.3 414.8L375.2 416.6A59.8 59.8 0 0 0 368.1 420.6Z"/>
<path fill="#95e7fa" d="M427.2 486.1A30.5 30.5 0 0 1 424.9 489.5L423.4 488.3A28.5 28.5 0 0 0 425.5 485.1Z"/>
<path fill="#fbafc4" d="M424.9 489.4A30.5 30.5 0 0 1 422.2 492.5L420.8 491.1A28.5 28.5 0 0 0 423.4 488.2Z"/>
<path fill="#8ae6fa" d="M422.2 492.4A30.5 30.5 0 0 1 419.1 495.1L417.9 493.5A28.5 28.5 0 0 0 420.9 491ZM395.5 504.5A34.4 34.4 0 0 1 390.9 503.5L391.5 501.6A32.4 32.4 0 0 0 395.8 502.6Z"/>
<path fill="#bcebfa" d="M419.1 495.1A30.5 30.5 0 0 1 415.7 497.3L414.7 495.6A28.5 28.5 0 0 0 418 493.5ZM429.6 493.1A36.3 36.3 0 0 1 426.3 496.7L424.9 495.3A34.4 34.4 0 0 0 428 491.8ZM347.1 467.6A54 54 0 0 1 348 460.3L350 460.7A52 52 0 0 0 349.1 467.7ZM348.3 489.4A55.9 55.9 0 0 1 346.3 482.1L348.2 481.7A54 54 0 0 0 350.2 488.8ZM460.8 470.6A59.8 59.8 0 0 1 460.3 478.7L458.3 478.4A57.9 57.9 0 0 0 458.9 470.6ZM341.3 467.2A59.8 59.8 0 0 1 342.3 459.2L344.2 459.6A57.9 57.9 0 0 0 343.2 467.3Z"/>
<path fill="#c2ecfa" d="M415.7 497.3A30.5 30.5 0 0 1 412 499L411.3 497.2A28.5 28.5 0 0 0 414.8 495.5ZM359.7 479.4A42.2 42.2 0 0 1 358.9 473.7L360.9 473.6A40.3 40.3 0 0 0 361.6 479ZM359.5 462.7A42.2 42.2 0 0 1 361 457.1L362.9 457.7A40.3 40.3 0 0 0 361.5 463ZM405 422.7A48.1 48.1 0 0 1 411.5 423.7L411.1 425.6A46.1 46.1 0 0 0 404.9 424.6ZM360 499.3A50 50 0 0 1 356.5 493.5L358.2 492.6A48.1 48.1 0 0 0 361.6 498.1ZM434.5 423.4A57.9 57.9 0 0 1 440.6 428.4L439.2 429.8A55.9 55.9 0 0 0 433.4 425ZM341.3 475.2A59.8 59.8 0 0 1 341.3 467.1L343.2 467.2A57.9 57.9 0 0 0 343.3 475.1ZM368.1 522.9A61.8 61.8 0 0 1 361.3 518L362.6 516.5A59.8 59.8 0 0 0 369.2 521.3Z"/>
<path fill="#fbb3c7" d="M412.1 499A30.5 30.5 0 0 1 408.1 500.2L407.7 498.3A28.5 28.5 0 0 0 411.3 497.2ZM393 520A50 50 0 0 1 386.3 518.5L386.9 516.6A48.1 48.1 0 0 0 393.3 518.1Z"/>
<path fill="#82e5fa" d="M408.2 500.2A30.5 30.5 0 0 1 404.1 500.9L403.9 499A28.5 28.5 0 0 0 407.7 498.3ZM418.6 502.4A36.3 36.3 0 0 1 414.1 504.5L413.4 502.7A34.4 34.4 0 0 0 417.6 500.7Z"/>
<path fill="#62e2fa" d="M404.2 500.9A30.5 30.5 0 0 1 400.1 501L400.1 499.1A28.5 28.5 0 0 0 404 498.9Z"/>
<path fill="#7ae4fa" d="M400.1 501A30.5 30.5 0 0 1 396 500.7L396.3 498.7A28.5 28.5 0 0 0 400.2 499.1Z"/>
<path fill="#9ce8fa" d="M396.1 500.7A30.5 30.5 0 0 1 392.1 499.7L392.7 497.9A28.5 28.5 0 0 0 396.4 498.7Z"/>
<path fill="#adeafa" d="M392.2 499.7A30.5 30.5 0 0 1 388.3 498.3L389.1 496.5A28.5 28.5 0 0 0 392.7 497.9ZM431.1 494.3A38.3 38.3 0 0 1 427.6 498.1L426.3 496.7A36.3 36.3 0 0 0 429.6 493.1ZM420.5 505.8A40.3 40.3 0 0 1 415.5 508.1L414.8 506.3A38.3 38.3 0 0 0 419.5 504.1ZM363.1 452A42.2 42.2 0 0 1 366 447.1L367.6 448.1A40.3 40.3 0 0 0 364.9 452.9ZM431.8 502.3A44.2 44.2 0 0 1 427.2 506.1L426.1 504.6A42.2 42.2 0 0 0 430.4 500.9ZM384.9 421.2A52 52 0 0 1 391.7 419.4L392.1 421.4A50 50 0 0 0 385.5 423ZM405.5 416.8A54 54 0 0 1 412.8 417.9L412.4 419.8A52 52 0 0 0 405.4 418.8ZM349.6 436.3A61.8 61.8 0 0 1 354.7 429.6L356.2 430.9A59.8 59.8 0 0 0 351.2 437.3ZM389.8 409.8A61.8 61.8 0 0 1 398.1 408.9L398.2 410.8A59.8 59.8 0 0 0 390.2 411.7Z"/>
<path fill="#63e2fa" d="M388.4 498.3A30.5 30.5 0 0 1 384.7 496.3L385.8 494.7A28.5 28.5 0 0 0 389.2 496.5ZM385.1 505.4A38.3 38.3 0 0 1 380.5 503L381.6 501.3A36.3 36.3 0 0 0 385.9 503.7Z"/>
<path fill="#71e4fa" d="M384.8 496.4A30.5 30.5 0 0 1 381.4 494L382.7 492.5A28.5 28.5 0 0 0 385.8 494.7Z"/>
<path fill="#9ae8fa" d="M381.5 494A30.5 30.5 0 0 1 378.5 491.2L380 489.8A28.5 28.5 0 0 0 382.8 492.5ZM413.5 502.6A34.4 34.4 0 0 1 409 504L408.6 502.1A32.4 32.4 0 0 0 412.8 500.8ZM405 508.7A38.3 38.3 0 0 1 399.8 508.9L399.9 506.9A36.3 36.3 0 0 0 404.8 506.7Z"/>
<path fill="#b1eafa" d="M378.6 491.2A30.5 30.5 0 0 1 376 488L377.6 486.9A28.5 28.5 0 0 0 380 489.9ZM414.2 504.5A36.3 36.3 0 0 1 409.5 505.9L409 504A34.4 34.4 0 0 0 413.5 502.6ZM404.8 506.7A36.3 36.3 0 0 1 399.9 506.9L399.9 505A34.4 34.4 0 0 0 404.6 504.8ZM377.2 443.2A36.3 36.3 0 0 1 381.1 440.2L382.2 441.8A34.4 34.4 0 0 0 378.5 444.6ZM399.2 434.3A36.3 36.3 0 0 1 404.2 434.4L404 436.4A34.4 34.4 0 0 0 399.3 436.3ZM405.6 514.5A44.2 44.2 0 0 1 399.6 514.7L399.7 512.8A42.2 42.2 0 0 0 405.4 512.6ZM376.5 509.7A46.1 46.1 0 0 1 371.4 506L372.6 504.5A44.2 44.2 0 0 0 377.5 508ZM350.8 446A55.9 55.9 0 0 1 354.6 439.4L356.2 440.5A54 54 0 0 0 352.5 446.8ZM344.7 490.8A59.8 59.8 0 0 1 342.4 482.9L344.4 482.5A57.9 57.9 0 0 0 346.5 490.1ZM430.9 524.7A61.8 61.8 0 0 1 423.3 528.2L422.6 526.4A59.8 59.8 0 0 0 429.9 523Z"/>
<path fill="#8ee7fa" d="M376 488A30.5 30.5 0 0 1 373.9 484.5L375.6 483.6A28.5 28.5 0 0 0 377.6 486.9ZM435.4 470.6A34.4 34.4 0 0 1 435.1 475.3L433.1 475A32.4 32.4 0 0 0 433.4 470.6ZM434 490.1A38.3 38.3 0 0 1 431 494.3L429.5 493.1A36.3 36.3 0 0 0 432.3 489.1ZM427.7 498.1A38.3 38.3 0 0 1 423.7 501.4L422.6 499.8A36.3 36.3 0 0 0 426.3 496.7Z"/>
<path fill="#fd5c7f" d="M373.9 484.6A30.5 30.5 0 0 1 372.3 480.8L374.1 480.1A28.5 28.5 0 0 0 375.7 483.7ZM370.6 472.9A30.5 30.5 0 0 1 370.6 468.8L372.5 468.9A28.5 28.5 0 0 0 372.6 472.8Z"/>
<path fill="#fbc5d5" d="M372.3 480.9A30.5 30.5 0 0 1 371.2 476.9L373.1 476.5A28.5 28.5 0 0 0 374.2 480.2ZM347.8 498.1A59.8 59.8 0 0 1 344.6 490.6L346.4 490A57.9 57.9 0 0 0 349.6 497.2ZM375 416.7A59.8 59.8 0 0 1 382.6 413.7L383.2 415.5A57.9 57.9 0 0 0 375.9 418.4Z"/>
<path fill="#fd7d9a" d="M371.2 477A30.5 30.5 0 0 1 370.6 472.9L372.6 472.7A28.5 28.5 0 0 0 373.1 476.5Z"/>
<path fill="#cdedfa" d="M370.6 468.9A30.5 30.5 0 0 1 371.1 464.8L373 465.2A28.5 28.5 0 0 0 372.5 469ZM368.7 473.1A32.4 32.4 0 0 1 368.6 468.7L370.6 468.8A30.5 30.5 0 0 0 370.6 472.9ZM363.1 484.2A40.3 40.3 0 0 1 361.6 478.9L363.5 478.5A38.3 38.3 0 0 0 364.9 483.5ZM399.8 514.8A44.2 44.2 0 0 1 393.8 514.2L394.1 512.2A42.2 42.2 0 0 0 399.8 512.8ZM357.8 479.8A44.2 44.2 0 0 1 357 473.9L358.9 473.7A42.2 42.2 0 0 0 359.7 479.4ZM404.9 424.6A46.1 46.1 0 0 1 411.1 425.6L410.6 427.5A44.2 44.2 0 0 0 404.7 426.6ZM351.7 454.1A52 52 0 0 1 354.4 447.6L356.1 448.4A50 50 0 0 0 353.5 454.7ZM383.6 527.9A59.8 59.8 0 0 1 376 525L376.8 523.2A57.9 57.9 0 0 0 384.2 526Z"/>
<path fill="#fe4b71" d="M371.1 464.9A30.5 30.5 0 0 1 372.1 460.9L374 461.5A28.5 28.5 0 0 0 373 465.2Z"/>
<path fill="#fd7e9b" d="M372.1 460.9A30.5 30.5 0 0 1 373.7 457.1L375.4 458A28.5 28.5 0 0 0 374 461.6ZM395.1 438.7A32.4 32.4 0 0 1 399.5 438.2L399.6 440.2A30.5 30.5 0 0 0 395.5 440.6Z"/>
<path fill="#b6ebfa" d="M373.7 457.2A30.5 30.5 0 0 1 375.7 453.6L377.3 454.7A28.5 28.5 0 0 0 375.4 458.1ZM386.7 426.7A46.1 46.1 0 0 1 392.8 425.2L393.1 427.1A44.2 44.2 0 0 0 387.3 428.6ZM440.3 501.5A50 50 0 0 1 435.8 506.6L434.4 505.2A48.1 48.1 0 0 0 438.8 500.3ZM351.1 474.5A50 50 0 0 1 351 467.7L353 467.8A48.1 48.1 0 0 0 353.1 474.3ZM348 452.9A55.9 55.9 0 0 1 350.9 445.8L352.6 446.7A54 54 0 0 0 349.8 453.5ZM413.5 414.1A57.9 57.9 0 0 1 421 416.3L420.4 418.1A55.9 55.9 0 0 0 413.1 416ZM413.9 412.2A59.8 59.8 0 0 1 421.7 414.5L421 416.3A57.9 57.9 0 0 0 413.5 414.1ZM342.8 491.4A61.8 61.8 0 0 1 340.5 483.3L342.4 482.9A59.8 59.8 0 0 0 344.7 490.8ZM360.5 423.9A61.8 61.8 0 0 1 367.2 418.9L368.2 420.5A59.8 59.8 0 0 0 361.8 425.4Z"/>
<path fill="#fc9fb6" d="M375.7 453.7A30.5 30.5 0 0 1 378.2 450.4L379.7 451.7A28.5 28.5 0 0 0 377.3 454.8ZM386.5 518.5A50 50 0 0 1 380.1 516.1L380.9 514.3A48.1 48.1 0 0 0 387 516.6ZM448.9 490.8A52 52 0 0 1 445.7 497.1L444 496.1A50 50 0 0 0 447.1 490.1Z"/>
<path fill="#fe4e74" d="M378.1 450.5A30.5 30.5 0 0 1 381.1 447.6L382.4 449A28.5 28.5 0 0 0 379.6 451.8Z"/>
<path fill="#fe466d" d="M381 447.6A30.5 30.5 0 0 1 384.3 445.1L385.4 446.7A28.5 28.5 0 0 0 382.3 449.1ZM390.9 439.8A32.4 32.4 0 0 1 395.2 438.7L395.6 440.6A30.5 30.5 0 0 0 391.6 441.6Z"/>
<path fill="#fbb4c7" d="M384.3 445.2A30.5 30.5 0 0 1 387.9 443.1L388.7 444.9A28.5 28.5 0 0 0 385.3 446.8ZM404.1 434.4A36.3 36.3 0 0 1 408.9 435.1L408.5 437.1A34.4 34.4 0 0 0 403.9 436.3ZM393.4 429.1A42.2 42.2 0 0 1 399 428.4L399.1 430.4A40.3 40.3 0 0 0 393.7 431ZM385.9 520.4A52 52 0 0 1 379.3 517.9L380.1 516.1A50 50 0 0 0 386.5 518.5ZM445 505.2A55.9 55.9 0 0 1 439.9 510.8L438.5 509.4A54 54 0 0 0 443.4 504Z"/>
<path fill="#fbc8d8" d="M387.8 443.2A30.5 30.5 0 0 1 391.6 441.6L392.2 443.5A28.5 28.5 0 0 0 388.6 444.9ZM423.2 439.4A38.3 38.3 0 0 1 427.2 442.7L425.9 444.1A36.3 36.3 0 0 0 422 441ZM372.3 516.3A54 54 0 0 1 366.4 512L367.6 510.5A52 52 0 0 0 373.3 514.6Z"/>
<path fill="#fd5479" d="M391.6 441.6A30.5 30.5 0 0 1 395.6 440.6L395.9 442.6A28.5 28.5 0 0 0 392.2 443.5Z"/>
<path fill="#fbd1df" d="M395.5 440.6A30.5 30.5 0 0 1 399.6 440.2L399.7 442.1A28.5 28.5 0 0 0 395.8 442.6ZM405.8 516.5A46.1 46.1 0 0 1 399.6 516.7L399.6 514.7A44.2 44.2 0 0 0 405.6 514.5ZM358.3 492.7A48.1 48.1 0 0 1 355.7 486.7L357.5 486A46.1 46.1 0 0 0 360 491.8ZM413.3 521.1A52 52 0 0 1 406.3 522.3L406.1 520.4A50 50 0 0 0 412.8 519.2ZM420.6 520.9A54 54 0 0 1 413.6 523.1L413.1 521.2A52 52 0 0 0 419.9 519.1ZM458.4 478.3A57.9 57.9 0 0 1 456.8 486L454.9 485.5A55.9 55.9 0 0 0 456.4 478ZM423.4 528.2A61.8 61.8 0 0 1 415.4 530.7L415 528.8A59.8 59.8 0 0 0 422.7 526.4Z"/>
<path fill="#fca1b8" d="M399.5 440.2A30.5 30.5 0 0 1 403.6 440.3L403.5 442.2A28.5 28.5 0 0 0 399.6 442.1ZM361.8 490.9A44.2 44.2 0 0 1 359.4 485.4L361.2 484.7A42.2 42.2 0 0 0 363.5 490Z"/>
<path fill="#b9ebfa" d="M403.6 440.2A30.5 30.5 0 0 1 407.7 440.9L407.2 442.8A28.5 28.5 0 0 0 403.4 442.2ZM434.2 479.7A34.4 34.4 0 0 1 432.6 484.1L430.8 483.3A32.4 32.4 0 0 0 432.3 479.1ZM425 495.2A34.4 34.4 0 0 1 421.4 498.3L420.2 496.7A32.4 32.4 0 0 0 423.6 493.8ZM359.6 450.3A46.1 46.1 0 0 1 362.7 444.9L364.3 446A44.2 44.2 0 0 0 361.3 451.2ZM362.6 445A46.1 46.1 0 0 1 366.5 440L367.9 441.3A44.2 44.2 0 0 0 364.3 446.1ZM343.2 467.3A57.9 57.9 0 0 1 344.2 459.6L346.1 459.9A55.9 55.9 0 0 0 345.2 467.5ZM383 415.6A57.9 57.9 0 0 1 390.7 413.6L391 415.6A55.9 55.9 0 0 0 383.7 417.4Z"/>
<path fill="#fbb9cb" d="M407.6 440.9A30.5 30.5 0 0 1 411.5 442L410.9 443.9A28.5 28.5 0 0 0 407.2 442.8ZM383.5 509A42.2 42.2 0 0 1 378.4 506.3L379.5 504.6A40.3 40.3 0 0 0 384.3 507.2ZM430 429.8A50 50 0 0 1 435.2 434.1L433.9 435.5A48.1 48.1 0 0 0 428.8 431.4ZM399.5 522.6A52 52 0 0 1 392.5 521.9L392.8 520A50 50 0 0 0 399.6 520.6ZM407.3 530.1A59.8 59.8 0 0 1 399.2 530.4L399.2 528.5A57.9 57.9 0 0 0 407.1 528.2Z"/>
<path fill="#fd6e8e" d="M411.5 442A30.5 30.5 0 0 1 415.2 443.7L414.3 445.4A28.5 28.5 0 0 0 410.8 443.8Z"/>
<path fill="#fd7c99" d="M415.2 443.6A30.5 30.5 0 0 1 418.7 445.8L417.6 447.4A28.5 28.5 0 0 0 414.3 445.4ZM447.5 498A54 54 0 0 1 443.3 504.1L441.8 502.8A52 52 0 0 0 445.8 497Z"/>
<path fill="#fd5277" d="M418.6 445.8A30.5 30.5 0 0 1 421.8 448.4L420.5 449.8A28.5 28.5 0 0 0 417.5 447.4Z"/>
<path fill="#9be8fa" d="M433.4 470.6A32.4 32.4 0 0 1 433.1 475L431.2 474.7A30.5 30.5 0 0 0 431.5 470.6ZM428.9 487.1A32.4 32.4 0 0 1 426.4 490.7L424.9 489.5A30.5 30.5 0 0 0 427.2 486.1Z"/>
<path fill="#a1e9fa" d="M433.1 474.9A32.4 32.4 0 0 1 432.3 479.2L430.4 478.7A30.5 30.5 0 0 0 431.2 474.6ZM423.6 493.8A32.4 32.4 0 0 1 420.2 496.7L419.1 495.1A30.5 30.5 0 0 0 422.2 492.4ZM435.7 491.1A40.3 40.3 0 0 1 432.6 495.6L431 494.3A38.3 38.3 0 0 0 434 490.1ZM410.5 509.7A40.3 40.3 0 0 1 405.1 510.6L404.9 508.7A38.3 38.3 0 0 0 410 507.8Z"/>
<path fill="#d0eefa" d="M432.3 479.1A32.4 32.4 0 0 1 430.8 483.3L429 482.5A30.5 30.5 0 0 0 430.4 478.6ZM419.5 504.1A38.3 38.3 0 0 1 414.8 506.3L414.1 504.5A36.3 36.3 0 0 0 418.6 502.4ZM372.7 504.5A44.2 44.2 0 0 1 368.4 500.4L369.8 499.1A42.2 42.2 0 0 0 374 503ZM434.5 505.1A48.1 48.1 0 0 1 429.5 509.3L428.4 507.7A46.1 46.1 0 0 0 433.2 503.7ZM406.2 409A61.8 61.8 0 0 1 414.5 410.3L414.1 412.2A59.8 59.8 0 0 0 406 411Z"/>
<path fill="#8fe7fa" d="M430.9 483.2A32.4 32.4 0 0 1 428.9 487.1L427.2 486.1A30.5 30.5 0 0 0 429.1 482.5ZM391 503.5A34.4 34.4 0 0 1 386.7 501.8L387.5 500.1A32.4 32.4 0 0 0 391.6 501.6Z"/>
<path fill="#9ee8fa" d="M426.5 490.6A32.4 32.4 0 0 1 423.5 493.9L422.2 492.5A30.5 30.5 0 0 0 424.9 489.4ZM409.6 505.9A36.3 36.3 0 0 1 404.7 506.7L404.5 504.8A34.4 34.4 0 0 0 409.1 504Z"/>
<path fill="#c5ecfa" d="M420.3 496.6A32.4 32.4 0 0 1 416.6 499L415.7 497.3A30.5 30.5 0 0 0 419.1 495.1ZM437 475.4A36.3 36.3 0 0 1 436 480.3L434.1 479.7A34.4 34.4 0 0 0 435.1 475.2ZM387.3 428.6A44.2 44.2 0 0 1 393.1 427.1L393.5 429.1A42.2 42.2 0 0 0 387.9 430.5ZM375.6 432.1A46.1 46.1 0 0 1 381.1 429L381.9 430.8A44.2 44.2 0 0 0 376.7 433.7ZM421.6 414.4A59.8 59.8 0 0 1 429 417.7L428.1 419.4A57.9 57.9 0 0 0 420.9 416.2Z"/>
<path fill="#c9edfa" d="M416.7 499A32.4 32.4 0 0 1 412.7 500.8L412 499A30.5 30.5 0 0 0 415.7 497.3ZM372.8 490.3A34.4 34.4 0 0 1 370.4 486.3L372.2 485.4A32.4 32.4 0 0 0 374.4 489.2ZM361 457.2A42.2 42.2 0 0 1 363.1 451.9L364.9 452.8A40.3 40.3 0 0 0 362.8 457.8ZM364.3 446.1A44.2 44.2 0 0 1 367.9 441.3L369.4 442.6A42.2 42.2 0 0 0 365.9 447.1ZM354 480.6A48.1 48.1 0 0 1 353 474.2L355 474A46.1 46.1 0 0 0 355.9 480.2ZM356.5 493.6A50 50 0 0 1 353.8 487.3L355.7 486.7A48.1 48.1 0 0 0 358.3 492.7ZM348 460.4A54 54 0 0 1 349.9 453.4L351.7 454A52 52 0 0 0 349.9 460.8ZM343.3 475.1A57.9 57.9 0 0 1 343.2 467.2L345.2 467.3A55.9 55.9 0 0 0 345.2 474.9ZM352.9 438.4A57.9 57.9 0 0 1 357.7 432.2L359.1 433.5A55.9 55.9 0 0 0 354.5 439.5ZM368.1 420.6A59.8 59.8 0 0 1 375.2 416.6L376 418.4A57.9 57.9 0 0 0 369.2 422.2ZM381.8 411.8A61.8 61.8 0 0 1 390 409.8L390.3 411.7A59.8 59.8 0 0 0 382.4 413.7Z"/>
<path fill="#9fe8fa" d="M412.8 500.8A32.4 32.4 0 0 1 408.6 502.1L408.1 500.2A30.5 30.5 0 0 0 412.1 499ZM439 493A44.2 44.2 0 0 1 435.7 498L434.1 496.8A42.2 42.2 0 0 0 437.4 492Z"/>
<path fill="#aceafa" d="M408.7 502.1A32.4 32.4 0 0 1 404.3 502.8L404.1 500.9A30.5 30.5 0 0 0 408.2 500.2ZM383.8 498A32.4 32.4 0 0 1 380.2 495.5L381.4 494A30.5 30.5 0 0 0 384.8 496.4ZM355.9 480.2A46.1 46.1 0 0 1 355 474L357 473.9A44.2 44.2 0 0 0 357.8 479.8ZM353.9 487.5A50 50 0 0 1 352 480.9L353.9 480.5A48.1 48.1 0 0 0 355.7 486.8ZM368.2 432.8A50 50 0 0 1 373.6 428.7L374.7 430.4A48.1 48.1 0 0 0 369.5 434.3ZM357.8 441.7A52 52 0 0 1 362.1 436.1L363.5 437.4A50 50 0 0 0 359.4 442.8ZM418.9 421.8A52 52 0 0 1 425.3 424.6L424.4 426.4A50 50 0 0 0 418.2 423.6ZM340.6 483.5A61.8 61.8 0 0 1 339.4 475.2L341.3 475A59.8 59.8 0 0 0 342.5 483.1ZM429.8 415.9A61.8 61.8 0 0 1 436.9 420.3L435.8 421.9A59.8 59.8 0 0 0 428.8 417.6Z"/>
<path fill="#afeafa" d="M404.4 502.8A32.4 32.4 0 0 1 400 503L400.1 501A30.5 30.5 0 0 0 404.2 500.9ZM371.9 456.3A32.4 32.4 0 0 1 374.1 452.5L375.7 453.6A30.5 30.5 0 0 0 373.7 457.2ZM361.3 484.8A42.2 42.2 0 0 1 359.7 479.3L361.6 478.9A40.3 40.3 0 0 0 363.1 484.2ZM387 516.6A48.1 48.1 0 0 1 380.9 514.3L381.8 512.5A46.1 46.1 0 0 0 387.6 514.7ZM353.1 474.3A48.1 48.1 0 0 1 353 467.8L355 467.9A46.1 46.1 0 0 0 355 474.2ZM356.1 440.6A54 54 0 0 1 360.6 434.8L362.1 436.1A52 52 0 0 0 357.8 441.7ZM390.9 415.6A55.9 55.9 0 0 1 398.4 414.7L398.5 416.7A54 54 0 0 0 391.2 417.5Z"/>
<path fill="#9de8fa" d="M400.1 503A32.4 32.4 0 0 1 395.7 502.6L396 500.7A30.5 30.5 0 0 0 400.1 501ZM440.9 475.9A40.3 40.3 0 0 1 439.8 481.3L437.9 480.8A38.3 38.3 0 0 0 439 475.7ZM433.2 503.7A46.1 46.1 0 0 1 428.4 507.7L427.2 506.1A44.2 44.2 0 0 0 431.8 502.3Z"/>
<path fill="#61e2fa" d="M395.8 502.6A32.4 32.4 0 0 1 391.5 501.6L392.1 499.7A30.5 30.5 0 0 0 396.1 500.7Z"/>
<path fill="#fbc0d1" d="M391.6 501.6A32.4 32.4 0 0 1 387.5 500.1L388.3 498.3A30.5 30.5 0 0 0 392.2 499.7ZM399.3 436.3A34.4 34.4 0 0 1 404 436.4L403.8 438.3A32.4 32.4 0 0 0 399.4 438.2ZM365.5 478.2A36.3 36.3 0 0 1 364.8 473.3L366.7 473.2A34.4 34.4 0 0 0 367.4 477.8ZM388.2 512.9A44.2 44.2 0 0 1 382.6 510.7L383.4 509A42.2 42.2 0 0 0 388.7 511ZM371.5 506.1A46.1 46.1 0 0 1 367 501.7L368.4 500.4A44.2 44.2 0 0 0 372.7 504.5ZM377.8 521.5A55.9 55.9 0 0 1 371.1 517.9L372.2 516.2A54 54 0 0 0 378.6 519.7Z"/>
<path fill="#79e4fa" d="M387.6 500.1A32.4 32.4 0 0 1 383.7 498L384.7 496.3A30.5 30.5 0 0 0 388.4 498.3Z"/>
<path fill="#75e4fa" d="M380.3 495.5A32.4 32.4 0 0 1 377.1 492.5L378.5 491.2A30.5 30.5 0 0 0 381.5 494Z"/>
<path fill="#89e6fa" d="M377.1 492.5A32.4 32.4 0 0 1 374.4 489.1L376 488A30.5 30.5 0 0 0 378.6 491.2ZM375.7 493.9A34.4 34.4 0 0 1 372.8 490.2L374.4 489.1A32.4 32.4 0 0 0 377.1 492.5Z"/>
<path fill="#51e0fa" d="M374.4 489.2A32.4 32.4 0 0 1 372.2 485.4L373.9 484.5A30.5 30.5 0 0 0 376 488Z"/>
<path fill="#fc829e" d="M372.2 485.5A32.4 32.4 0 0 1 370.4 481.4L372.3 480.8A30.5 30.5 0 0 0 373.9 484.6ZM403.7 438.3A32.4 32.4 0 0 1 408.1 439L407.7 440.9A30.5 30.5 0 0 0 403.6 440.2ZM462.8 470.6A61.8 61.8 0 0 1 462.2 479L460.3 478.7A59.8 59.8 0 0 0 460.8 470.6Z"/>
<path fill="#fca5bb" d="M370.5 481.5A32.4 32.4 0 0 1 369.3 477.3L371.2 476.9A30.5 30.5 0 0 0 372.3 480.9ZM367.4 477.8A34.4 34.4 0 0 1 366.7 473.2L368.7 473A32.4 32.4 0 0 0 369.3 477.4Z"/>
<path fill="#fc90aa" d="M369.3 477.4A32.4 32.4 0 0 1 368.7 473L370.6 472.9A30.5 30.5 0 0 0 371.2 477ZM394.4 434.9A36.3 36.3 0 0 1 399.3 434.3L399.4 436.3A34.4 34.4 0 0 0 394.8 436.8Z"/>
<path fill="#fd6687" d="M368.6 468.8A32.4 32.4 0 0 1 369.2 464.4L371.1 464.8A30.5 30.5 0 0 0 370.6 468.9Z"/>
<path fill="#fcacc0" d="M369.2 464.5A32.4 32.4 0 0 1 370.3 460.2L372.1 460.9A30.5 30.5 0 0 0 371.1 464.9Z"/>
<path fill="#fd7292" d="M370.3 460.3A32.4 32.4 0 0 1 371.9 456.3L373.7 457.1A30.5 30.5 0 0 0 372.1 460.9Z"/>
<path fill="#ceedfa" d="M374 452.6A32.4 32.4 0 0 1 376.7 449.1L378.2 450.4A30.5 30.5 0 0 0 375.7 453.7ZM424.3 437.8A40.3 40.3 0 0 1 428.5 441.2L427.2 442.7A38.3 38.3 0 0 0 423.2 439.4ZM438.8 500.3A48.1 48.1 0 0 1 434.4 505.2L433.1 503.8A46.1 46.1 0 0 0 437.3 499.1ZM356.1 431A59.8 59.8 0 0 1 361.9 425.3L363.2 426.8A57.9 57.9 0 0 0 357.6 432.3Z"/>
<path fill="#fd6486" d="M376.7 449.2A32.4 32.4 0 0 1 379.8 446.1L381.1 447.6A30.5 30.5 0 0 0 378.1 450.5Z"/>
<path fill="#fd6789" d="M379.7 446.1A32.4 32.4 0 0 1 383.3 443.5L384.3 445.1A30.5 30.5 0 0 0 381 447.6Z"/>
<path fill="#fd567a" d="M383.2 443.5A32.4 32.4 0 0 1 387 441.4L387.9 443.1A30.5 30.5 0 0 0 384.3 445.2ZM386.1 439.6A34.4 34.4 0 0 1 390.4 437.9L391 439.8A32.4 32.4 0 0 0 386.9 441.4Z"/>
<path fill="#b7ebfa" d="M386.9 441.4A32.4 32.4 0 0 1 391 439.8L391.6 441.6A30.5 30.5 0 0 0 387.8 443.2ZM378.9 437A40.3 40.3 0 0 1 383.6 434.3L384.5 436.1A38.3 38.3 0 0 0 380 438.6ZM366.4 494.8A42.2 42.2 0 0 1 363.4 489.9L365.2 489A40.3 40.3 0 0 0 368 493.7ZM381 429A46.1 46.1 0 0 1 386.8 426.7L387.4 428.6A44.2 44.2 0 0 0 381.8 430.8ZM411 425.6A46.1 46.1 0 0 1 417 427.3L416.3 429.2A44.2 44.2 0 0 0 410.5 427.5ZM373.5 428.8A50 50 0 0 1 379.4 425.4L380.3 427.2A48.1 48.1 0 0 0 374.6 430.4ZM391.9 421.4A50 50 0 0 1 398.7 420.6L398.8 422.6A48.1 48.1 0 0 0 392.3 423.3ZM350.1 481.5A52 52 0 0 1 349.1 474.5L351.1 474.3A50 50 0 0 0 352.1 481ZM354.5 439.5A55.9 55.9 0 0 1 359.1 433.5L360.6 434.8A54 54 0 0 0 356.1 440.6Z"/>
<path fill="#fe486f" d="M399.4 438.2A32.4 32.4 0 0 1 403.8 438.3L403.6 440.3A30.5 30.5 0 0 0 399.5 440.2ZM366.7 468.7A34.4 34.4 0 0 1 367.3 464L369.2 464.4A32.4 32.4 0 0 0 368.6 468.8Z"/>
<path fill="#fcaabf" d="M408 438.9A32.4 32.4 0 0 1 412.2 440.2L411.5 442A30.5 30.5 0 0 0 407.6 440.9ZM435.7 497.9A44.2 44.2 0 0 1 431.7 502.3L430.3 500.9A42.2 42.2 0 0 0 434.2 496.7ZM399.4 528.5A57.9 57.9 0 0 1 391.6 527.7L391.9 525.8A55.9 55.9 0 0 0 399.4 526.5ZM415.6 530.7A61.8 61.8 0 0 1 407.3 532.1L407.1 530.1A59.8 59.8 0 0 0 415.1 528.7Z"/>
<path fill="#fd6889" d="M412.1 440.2A32.4 32.4 0 0 1 416.2 441.9L415.2 443.7A30.5 30.5 0 0 0 411.5 442Z"/>
<path fill="#d2eefa" d="M416.1 441.9A32.4 32.4 0 0 1 419.8 444.2L418.7 445.8A30.5 30.5 0 0 0 415.2 443.6ZM379 497A34.4 34.4 0 0 1 375.6 493.8L377.1 492.5A32.4 32.4 0 0 0 380.3 495.5ZM437.3 470.6A36.3 36.3 0 0 1 437 475.5L435.1 475.3A34.4 34.4 0 0 0 435.4 470.6ZM432.3 489.1A36.3 36.3 0 0 1 429.5 493.1L428 491.9A34.4 34.4 0 0 0 430.6 488.1ZM360.8 468.3A40.3 40.3 0 0 1 361.5 462.9L363.4 463.3A38.3 38.3 0 0 0 362.8 468.4ZM367.5 448.2A40.3 40.3 0 0 1 370.9 443.9L372.3 445.2A38.3 38.3 0 0 0 369.2 449.3ZM365.9 447.1A42.2 42.2 0 0 1 369.4 442.6L370.9 443.9A40.3 40.3 0 0 0 367.5 448.2ZM418.2 423.6A50 50 0 0 1 424.4 426.4L423.5 428.1A48.1 48.1 0 0 0 417.5 425.4ZM346.1 460.1A55.9 55.9 0 0 1 348 452.7L349.9 453.4A54 54 0 0 0 348 460.4ZM405.9 412.9A57.9 57.9 0 0 1 413.6 414.1L413.2 416A55.9 55.9 0 0 0 405.7 414.9ZM342.4 451A61.8 61.8 0 0 1 345.6 443.2L347.3 444.1A59.8 59.8 0 0 0 344.2 451.6Z"/>
<path fill="#b8ebfa" d="M419.8 444.2A32.4 32.4 0 0 1 423.2 446.9L421.8 448.4A30.5 30.5 0 0 0 418.6 445.8ZM410.5 427.5A44.2 44.2 0 0 1 416.3 429.2L415.6 431A42.2 42.2 0 0 0 410.1 429.4ZM355.4 455.4A48.1 48.1 0 0 1 357.9 449.3L359.6 450.2A46.1 46.1 0 0 0 357.3 456ZM351.3 496.3A55.9 55.9 0 0 1 348.3 489.3L350.1 488.6A54 54 0 0 0 353.1 495.4ZM433.4 425A55.9 55.9 0 0 1 439.2 429.8L437.9 431.2A54 54 0 0 0 432.2 426.6ZM458.9 470.6A57.9 57.9 0 0 1 458.3 478.4L456.4 478.2A55.9 55.9 0 0 0 456.9 470.6ZM344.2 459.7A57.9 57.9 0 0 1 346.2 452.1L348 452.7A55.9 55.9 0 0 0 346.1 460.1ZM420.9 416.2A57.9 57.9 0 0 1 428.1 419.4L427.2 421.2A55.9 55.9 0 0 0 420.2 418.1ZM457.9 494.7A61.8 61.8 0 0 1 454.1 502.1L452.5 501.1A59.8 59.8 0 0 0 456.1 493.9Z"/>
<path fill="#b3eafa" d="M435.1 475.2A34.4 34.4 0 0 1 434.1 479.7L432.3 479.2A32.4 32.4 0 0 0 433.1 474.9ZM430.6 488.1A34.4 34.4 0 0 1 428 491.9L426.4 490.7A32.4 32.4 0 0 0 428.9 487.1ZM427.7 433A46.1 46.1 0 0 1 432.5 436.9L431.2 438.4A44.2 44.2 0 0 0 426.6 434.6ZM424.3 512.7A48.1 48.1 0 0 1 418.3 515.5L417.6 513.6A46.1 46.1 0 0 0 423.3 511ZM357.6 432.3A57.9 57.9 0 0 1 363.2 426.8L364.4 428.3A55.9 55.9 0 0 0 359 433.6Z"/>
<path fill="#fbc6d6" d="M428 491.8A34.4 34.4 0 0 1 424.9 495.3L423.5 493.9A32.4 32.4 0 0 0 426.5 490.6ZM353.1 495.4A54 54 0 0 1 350.1 488.6L352 488A52 52 0 0 0 354.8 494.5ZM370.3 423.9A55.9 55.9 0 0 1 376.9 420.1L377.7 421.9A54 54 0 0 0 371.3 425.5ZM460.3 478.5A59.8 59.8 0 0 1 458.7 486.5L456.8 486A57.9 57.9 0 0 0 458.4 478.3Z"/>
<path fill="#aaeafa" d="M421.5 498.2A34.4 34.4 0 0 1 417.5 500.7L416.6 499A32.4 32.4 0 0 0 420.3 496.6ZM398.9 428.4A42.2 42.2 0 0 1 404.7 428.5L404.5 430.5A40.3 40.3 0 0 0 399 430.4ZM416.9 427.3A46.1 46.1 0 0 1 422.6 429.8L421.7 431.6A44.2 44.2 0 0 0 416.2 429.1ZM398.2 412.8A57.9 57.9 0 0 1 406 412.9L405.9 414.9A55.9 55.9 0 0 0 398.3 414.7ZM442.7 513.5A59.8 59.8 0 0 1 436.5 518.8L435.4 517.2A57.9 57.9 0 0 0 441.4 512.1Z"/>
<path fill="#57e1fa" d="M417.6 500.7A34.4 34.4 0 0 1 413.4 502.7L412.7 500.8A32.4 32.4 0 0 0 416.7 499Z"/>
<path fill="#65e2fa" d="M409.1 504A34.4 34.4 0 0 1 404.5 504.8L404.3 502.8A32.4 32.4 0 0 0 408.7 502.1Z"/>
<path fill="#58e1fa" d="M404.6 504.8A34.4 34.4 0 0 1 399.9 505L400 503A32.4 32.4 0 0 0 404.4 502.8Z"/>
<path fill="#beecfa" d="M400 505A34.4 34.4 0 0 1 395.4 504.5L395.7 502.6A32.4 32.4 0 0 0 400.1 503ZM372.4 451.5A34.4 34.4 0 0 1 375.3 447.8L376.7 449.1A32.4 32.4 0 0 0 374 452.6ZM409.3 433.2A38.3 38.3 0 0 1 414.3 434.7L413.6 436.5A36.3 36.3 0 0 0 408.8 435.1ZM387.9 430.5A42.2 42.2 0 0 1 393.5 429.1L393.8 431A40.3 40.3 0 0 0 388.5 432.3ZM411.8 421.7A50 50 0 0 1 418.3 423.6L417.6 425.5A48.1 48.1 0 0 0 411.4 423.6ZM392.3 523.9A54 54 0 0 1 385.2 522.2L385.8 520.3A52 52 0 0 0 392.6 521.9ZM407.1 528.2A57.9 57.9 0 0 1 399.2 528.5L399.3 526.5A55.9 55.9 0 0 0 406.9 526.2ZM422.2 412.6A61.8 61.8 0 0 1 429.9 416L429 417.7A59.8 59.8 0 0 0 421.6 414.4Z"/>
<path fill="#80e5fa" d="M386.7 501.9A34.4 34.4 0 0 1 382.6 499.7L383.7 498A32.4 32.4 0 0 0 387.6 500.1Z"/>
<path fill="#c8edfa" d="M382.7 499.7A34.4 34.4 0 0 1 378.9 497L380.2 495.5A32.4 32.4 0 0 0 383.8 498ZM372.8 496.5A38.3 38.3 0 0 1 369.6 492.5L371.2 491.3A36.3 36.3 0 0 0 374.2 495.2ZM377.8 435.3A42.2 42.2 0 0 1 382.8 432.5L383.6 434.3A40.3 40.3 0 0 0 378.9 437ZM361.3 451.2A44.2 44.2 0 0 1 364.3 446L366 447.1A42.2 42.2 0 0 0 363.1 452ZM352.1 481A50 50 0 0 1 351.1 474.3L353 474.2A48.1 48.1 0 0 0 354 480.6ZM356.1 448.6A50 50 0 0 1 359.5 442.7L361.1 443.8A48.1 48.1 0 0 0 357.8 449.4ZM352 488.1A52 52 0 0 1 350.1 481.3L352 480.9A50 50 0 0 0 353.9 487.5ZM347.2 474.8A54 54 0 0 1 347.1 467.4L349.1 467.5A52 52 0 0 0 349.1 474.6ZM384.8 524.1A55.9 55.9 0 0 1 377.7 521.4L378.5 519.6A54 54 0 0 0 385.3 522.2ZM345.2 467.5A55.9 55.9 0 0 1 346.1 459.9L348 460.3A54 54 0 0 0 347.1 467.6ZM398.3 414.7A55.9 55.9 0 0 1 405.9 414.9L405.7 416.8A54 54 0 0 0 398.4 416.7Z"/>
<path fill="#fbbecf" d="M370.5 486.4A34.4 34.4 0 0 1 368.6 482.1L370.4 481.4A32.4 32.4 0 0 0 372.2 485.5ZM426.1 504.5A42.2 42.2 0 0 1 421.3 507.6L420.4 505.9A40.3 40.3 0 0 0 425 502.9ZM417 511.8A44.2 44.2 0 0 1 411.3 513.5L410.9 511.6A42.2 42.2 0 0 0 416.3 509.9Z"/>
<path fill="#fbcbda" d="M368.6 482.2A34.4 34.4 0 0 1 367.4 477.7L369.3 477.3A32.4 32.4 0 0 0 370.5 481.5ZM364.8 473.4A36.3 36.3 0 0 1 364.7 468.5L366.7 468.6A34.4 34.4 0 0 0 366.7 473.2ZM448 507.6A59.8 59.8 0 0 1 442.6 513.6L441.2 512.2A57.9 57.9 0 0 0 446.5 506.4ZM350.3 506A61.8 61.8 0 0 1 346 498.8L347.8 497.9A59.8 59.8 0 0 0 352 504.9Z"/>
<path fill="#fd698a" d="M366.7 473.2A34.4 34.4 0 0 1 366.7 468.6L368.6 468.7A32.4 32.4 0 0 0 368.7 473.1Z"/>
<path fill="#fca3ba" d="M367.2 464.1A34.4 34.4 0 0 1 368.4 459.6L370.3 460.2A32.4 32.4 0 0 0 369.2 464.5Z"/>
<path fill="#bbebfa" d="M368.4 459.7A34.4 34.4 0 0 1 370.2 455.4L371.9 456.3A32.4 32.4 0 0 0 370.3 460.3ZM399.9 508.9A38.3 38.3 0 0 1 394.7 508.4L395.1 506.4A36.3 36.3 0 0 0 400 506.9ZM411.4 423.6A48.1 48.1 0 0 1 417.6 425.5L417 427.3A46.1 46.1 0 0 0 411 425.6ZM349 445.1A57.9 57.9 0 0 1 353 438.3L354.6 439.4A55.9 55.9 0 0 0 350.8 446ZM383.1 529.7A61.8 61.8 0 0 1 375.2 526.8L376 525A59.8 59.8 0 0 0 383.6 527.9Z"/>
<path fill="#fe4970" d="M370.1 455.5A34.4 34.4 0 0 1 372.5 451.4L374.1 452.5A32.4 32.4 0 0 0 371.9 456.3Z"/>
<path fill="#fca2b9" d="M375.2 447.9A34.4 34.4 0 0 1 378.5 444.6L379.8 446.1A32.4 32.4 0 0 0 376.7 449.2ZM394.2 512.3A42.2 42.2 0 0 1 388.6 511L389.2 509.1A40.3 40.3 0 0 0 394.5 510.3ZM450.7 491.6A54 54 0 0 1 447.4 498.1L445.7 497.1A52 52 0 0 0 448.9 490.8ZM421.3 522.7A55.9 55.9 0 0 1 414.1 525L413.6 523.1A54 54 0 0 0 420.6 520.9Z"/>
<path fill="#b2eafa" d="M378.5 444.6A34.4 34.4 0 0 1 382.2 441.8L383.3 443.5A32.4 32.4 0 0 0 379.7 446.1ZM370.8 450.4A36.3 36.3 0 0 1 373.8 446.5L375.3 447.8A34.4 34.4 0 0 0 372.4 451.5ZM383.5 434.3A40.3 40.3 0 0 1 388.6 432.3L389.2 434.2A38.3 38.3 0 0 0 384.4 436.1ZM428.8 431.4A48.1 48.1 0 0 1 433.9 435.5L432.5 436.9A46.1 46.1 0 0 0 427.7 433ZM412.2 419.8A52 52 0 0 1 419 421.8L418.3 423.6A50 50 0 0 0 411.8 421.7ZM371.3 425.5A54 54 0 0 1 377.7 421.9L378.6 423.7A52 52 0 0 0 372.4 427.2ZM346.3 482.3A55.9 55.9 0 0 1 345.2 474.8L347.2 474.6A54 54 0 0 0 348.2 481.9ZM382.4 413.7A59.8 59.8 0 0 1 390.3 411.7L390.7 413.6A57.9 57.9 0 0 0 383 415.6Z"/>
<path fill="#fbcddc" d="M382.1 441.9A34.4 34.4 0 0 1 386.2 439.6L387 441.4A32.4 32.4 0 0 0 383.2 443.5ZM425 502.9A40.3 40.3 0 0 1 420.4 505.9L419.4 504.2A38.3 38.3 0 0 0 423.8 501.4ZM427.3 506.1A44.2 44.2 0 0 1 422.3 509.3L421.3 507.6A42.2 42.2 0 0 0 426.1 504.5ZM380.2 516.1A50 50 0 0 1 374.3 512.9L375.3 511.2A48.1 48.1 0 0 0 381 514.4ZM399.4 526.5A55.9 55.9 0 0 1 391.9 525.8L392.2 523.8A54 54 0 0 0 399.5 524.5Z"/>
<path fill="#fbd2df" d="M390.3 437.9A34.4 34.4 0 0 1 394.9 436.8L395.2 438.7A32.4 32.4 0 0 0 390.9 439.8Z"/>
<path fill="#fc87a3" d="M394.8 436.8A34.4 34.4 0 0 1 399.4 436.3L399.5 438.2A32.4 32.4 0 0 0 395.1 438.7Z"/>
<path fill="#fe3f67" d="M403.9 436.3A34.4 34.4 0 0 1 408.5 437.1L408.1 439A32.4 32.4 0 0 0 403.7 438.3Z"/>
<path fill="#fe3c65" d="M408.4 437A34.4 34.4 0 0 1 412.9 438.3L412.2 440.2A32.4 32.4 0 0 0 408 438.9Z"/>
<path fill="#fbb6c9" d="M412.8 438.3A34.4 34.4 0 0 1 417.1 440.2L416.2 441.9A32.4 32.4 0 0 0 412.1 440.2ZM435.9 506.5A50 50 0 0 1 430.7 510.9L429.5 509.3A48.1 48.1 0 0 0 434.5 505.1ZM426.2 516.1A52 52 0 0 1 419.8 519.1L419.1 517.3A50 50 0 0 0 425.2 514.4ZM362.7 516.6A59.8 59.8 0 0 1 356.8 511L358.3 509.7A57.9 57.9 0 0 0 364 515.1Z"/>
<path fill="#d3eefa" d="M417 440.2A34.4 34.4 0 0 1 421 442.6L419.8 444.2A32.4 32.4 0 0 0 416.1 441.9ZM415.5 431A42.2 42.2 0 0 1 420.7 433.3L419.8 435A40.3 40.3 0 0 0 414.8 432.8ZM393.6 516.1A46.1 46.1 0 0 1 387.5 514.7L388.1 512.8A44.2 44.2 0 0 0 393.9 514.2ZM367 501.8A46.1 46.1 0 0 1 363.1 496.9L364.7 495.8A44.2 44.2 0 0 0 368.5 500.5ZM364.9 438.8A48.1 48.1 0 0 1 369.6 434.2L370.8 435.7A46.1 46.1 0 0 0 366.4 440.1ZM431.1 428.2A52 52 0 0 1 436.6 432.7L435.2 434.1A50 50 0 0 0 430 429.8ZM342.5 483.1A59.8 59.8 0 0 1 341.3 475L343.3 474.9A57.9 57.9 0 0 0 344.4 482.7ZM435.6 421.8A59.8 59.8 0 0 1 441.9 426.9L440.6 428.4A57.9 57.9 0 0 0 434.5 423.4Z"/>
<path fill="#fbd2e0" d="M420.9 442.6A34.4 34.4 0 0 1 424.5 445.5L423.2 446.9A32.4 32.4 0 0 0 419.8 444.2ZM364.9 452.9A40.3 40.3 0 0 1 367.6 448.1L369.2 449.2A38.3 38.3 0 0 0 366.6 453.7ZM437.3 499.1A46.1 46.1 0 0 1 433.1 503.8L431.7 502.3A44.2 44.2 0 0 0 435.7 497.9ZM419.2 517.2A50 50 0 0 1 412.7 519.3L412.2 517.4A48.1 48.1 0 0 0 418.5 515.4ZM392 525.8A55.9 55.9 0 0 1 384.6 524.1L385.2 522.2A54 54 0 0 0 392.3 523.9ZM370.2 519.6A57.9 57.9 0 0 1 363.8 515L365.1 513.5A55.9 55.9 0 0 0 371.2 517.9ZM462.3 478.8A61.8 61.8 0 0 1 460.6 487L458.7 486.5A59.8 59.8 0 0 0 460.3 478.5Z"/>
<path fill="#b3ebfa" d="M436.1 480.2A36.3 36.3 0 0 1 434.4 484.8L432.6 484.1A34.4 34.4 0 0 0 434.2 479.7ZM434.2 496.7A42.2 42.2 0 0 1 430.3 500.9L429 499.5A40.3 40.3 0 0 0 432.6 495.5ZM445.2 470.6A44.2 44.2 0 0 1 444.8 476.6L442.8 476.3A42.2 42.2 0 0 0 443.2 470.6ZM359.4 485.5A44.2 44.2 0 0 1 357.8 479.7L359.7 479.3A42.2 42.2 0 0 0 361.3 484.8ZM386.1 424.9A48.1 48.1 0 0 1 392.4 423.3L392.8 425.2A46.1 46.1 0 0 0 386.7 426.7ZM349.9 460.8A52 52 0 0 1 351.7 454L353.6 454.6A50 50 0 0 0 351.8 461.2ZM350.2 488.8A54 54 0 0 1 348.2 481.7L350.1 481.3A52 52 0 0 0 352 488.1ZM427 421.1A55.9 55.9 0 0 1 433.5 425.1L432.3 426.7A54 54 0 0 0 426.1 422.8ZM375.9 418.4A57.9 57.9 0 0 1 383.2 415.5L383.8 417.4A55.9 55.9 0 0 0 376.7 420.2Z"/>
<path fill="#a0e8fa" d="M434.5 484.7A36.3 36.3 0 0 1 432.2 489.1L430.6 488.1A34.4 34.4 0 0 0 432.7 484ZM395.2 506.5A36.3 36.3 0 0 1 390.4 505.3L390.9 503.5A34.4 34.4 0 0 0 395.5 504.5ZM411 511.6A42.2 42.2 0 0 1 405.3 512.6L405.1 510.6A40.3 40.3 0 0 0 410.5 509.7Z"/>
<path fill="#96e7fa" d="M426.3 496.7A36.3 36.3 0 0 1 422.6 499.8L421.4 498.3A34.4 34.4 0 0 0 425 495.2Z"/>
<path fill="#a8e9fa" d="M422.6 499.8A36.3 36.3 0 0 1 418.5 502.4L417.5 500.7A34.4 34.4 0 0 0 421.5 498.2ZM437.4 492A42.2 42.2 0 0 1 434.1 496.8L432.6 495.6A40.3 40.3 0 0 0 435.7 491.1ZM425.4 436.2A42.2 42.2 0 0 1 429.9 439.8L428.5 441.2A40.3 40.3 0 0 0 424.3 437.8Z"/>
<path fill="#caedfa" d="M400 506.9A36.3 36.3 0 0 1 395.1 506.4L395.4 504.5A34.4 34.4 0 0 0 400 505ZM377.8 498.5A36.3 36.3 0 0 1 374.2 495.1L375.6 493.8A34.4 34.4 0 0 0 379 497ZM357.3 456A46.1 46.1 0 0 1 359.6 450.2L361.4 451A44.2 44.2 0 0 0 359.1 456.6ZM429.6 509.2A48.1 48.1 0 0 1 424.1 512.7L423.2 511A46.1 46.1 0 0 0 428.5 507.7ZM449.2 499A55.9 55.9 0 0 1 444.9 505.3L443.3 504.1A54 54 0 0 0 447.5 498Z"/>
<path fill="#c6edfa" d="M390.5 505.4A36.3 36.3 0 0 1 385.8 503.6L386.7 501.8A34.4 34.4 0 0 0 391 503.5ZM363.5 490A42.2 42.2 0 0 1 361.2 484.7L363.1 484.1A40.3 40.3 0 0 0 365.2 489.1Z"/>
<path fill="#98e8fa" d="M385.9 503.7A36.3 36.3 0 0 1 381.6 501.3L382.6 499.7A34.4 34.4 0 0 0 386.7 501.9Z"/>
<path fill="#a0e9fa" d="M381.7 501.4A36.3 36.3 0 0 1 377.7 498.5L378.9 497A34.4 34.4 0 0 0 382.7 499.7Z"/>
<path fill="#90e7fa" d="M374.2 495.2A36.3 36.3 0 0 1 371.2 491.3L372.8 490.2A34.4 34.4 0 0 0 375.7 493.9Z"/>
<path fill="#fd6587" d="M368.7 487.3A36.3 36.3 0 0 1 366.8 482.7L368.6 482.1A34.4 34.4 0 0 0 370.5 486.4Z"/>
<path fill="#fbbed0" d="M366.8 482.8A36.3 36.3 0 0 1 365.4 478.1L367.4 477.7A34.4 34.4 0 0 0 368.6 482.2ZM391.2 417.5A54 54 0 0 1 398.5 416.7L398.6 418.6A52 52 0 0 0 391.6 419.5Z"/>
<path fill="#fd708f" d="M364.7 468.6A36.3 36.3 0 0 1 365.3 463.7L367.3 464A34.4 34.4 0 0 0 366.7 468.7Z"/>
<path fill="#fbcfdd" d="M365.3 463.8A36.3 36.3 0 0 1 366.6 459L368.4 459.6A34.4 34.4 0 0 0 367.2 464.1ZM405.2 510.6A40.3 40.3 0 0 1 399.8 510.8L399.8 508.9A38.3 38.3 0 0 0 405 508.7ZM406 411A59.8 59.8 0 0 1 414.1 412.2L413.6 414.1A57.9 57.9 0 0 0 405.9 412.9Z"/>
<path fill="#cfedfa" d="M366.5 459.1A36.3 36.3 0 0 1 368.4 454.5L370.2 455.4A34.4 34.4 0 0 0 368.4 459.7ZM382.7 432.6A42.2 42.2 0 0 1 388 430.4L388.6 432.3A40.3 40.3 0 0 0 383.5 434.3ZM420.6 433.2A42.2 42.2 0 0 1 425.5 436.2L424.4 437.8A40.3 40.3 0 0 0 419.7 435ZM422.4 509.3A44.2 44.2 0 0 1 416.9 511.8L416.2 510A42.2 42.2 0 0 0 421.4 507.5ZM416.2 429.1A44.2 44.2 0 0 1 421.7 431.6L420.7 433.3A42.2 42.2 0 0 0 415.5 431ZM442.4 495A48.1 48.1 0 0 1 438.7 500.4L437.2 499.2A46.1 46.1 0 0 0 440.7 494ZM369.5 434.3A48.1 48.1 0 0 1 374.7 430.4L375.7 432A46.1 46.1 0 0 0 370.8 435.8ZM419.5 419.9A54 54 0 0 1 426.2 422.9L425.3 424.6A52 52 0 0 0 418.9 421.8Z"/>
<path fill="#fd7997" d="M368.4 454.6A36.3 36.3 0 0 1 370.8 450.3L372.5 451.4A34.4 34.4 0 0 0 370.1 455.5ZM372.3 445.3A38.3 38.3 0 0 1 376 441.6L377.2 443.1A36.3 36.3 0 0 0 373.7 446.6Z"/>
<path fill="#fc99b1" d="M373.7 446.6A36.3 36.3 0 0 1 377.2 443.1L378.5 444.6A34.4 34.4 0 0 0 375.2 447.9ZM438.6 509.3A54 54 0 0 1 433 514L431.9 512.5A52 52 0 0 0 437.3 507.9ZM365.2 513.6A55.9 55.9 0 0 1 359.7 508.3L361.2 507A54 54 0 0 0 366.5 512.1ZM437.8 520.2A61.8 61.8 0 0 1 430.8 524.8L429.8 523.1A59.8 59.8 0 0 0 436.6 518.7Z"/>
<path fill="#fc8fa9" d="M381 440.2A36.3 36.3 0 0 1 385.3 437.8L386.2 439.6A34.4 34.4 0 0 0 382.1 441.9ZM440 510.7A55.9 55.9 0 0 1 434.2 515.6L433 514A54 54 0 0 0 438.6 509.3Z"/>
<path fill="#fc96af" d="M385.2 437.9A36.3 36.3 0 0 1 389.8 436L390.4 437.9A34.4 34.4 0 0 0 386.1 439.6Z"/>
<path fill="#fca8bd" d="M389.7 436.1A36.3 36.3 0 0 1 394.5 434.8L394.9 436.8A34.4 34.4 0 0 0 390.3 437.9ZM439.9 487A42.2 42.2 0 0 1 437.3 492.1L435.6 491.1A40.3 40.3 0 0 0 438.1 486.3Z"/>
<path fill="#fc7f9c" d="M408.8 435.1A36.3 36.3 0 0 1 413.6 436.5L412.9 438.3A34.4 34.4 0 0 0 408.4 437ZM412.8 519.2A50 50 0 0 1 406.1 520.4L405.9 518.4A48.1 48.1 0 0 0 412.4 517.3Z"/>
<path fill="#fc97af" d="M413.5 436.5A36.3 36.3 0 0 1 418 438.5L417.1 440.2A34.4 34.4 0 0 0 412.8 438.3Z"/>
<path fill="#fd7291" d="M417.9 438.4A36.3 36.3 0 0 1 422.1 441L421 442.6A34.4 34.4 0 0 0 417 440.2ZM460.6 486.9A61.8 61.8 0 0 1 457.9 494.8L456.1 494A59.8 59.8 0 0 0 458.7 486.4Z"/>
<path fill="#c4ecfa" d="M422 441A36.3 36.3 0 0 1 425.9 444.1L424.5 445.5A34.4 34.4 0 0 0 420.9 442.6ZM357 474A44.2 44.2 0 0 1 356.9 468L358.9 468.1A42.2 42.2 0 0 0 358.9 473.8ZM376.7 433.7A44.2 44.2 0 0 1 381.9 430.8L382.8 432.5A42.2 42.2 0 0 0 377.8 435.3ZM355 474.2A46.1 46.1 0 0 1 355 467.9L356.9 468A44.2 44.2 0 0 0 357 474ZM422.5 429.8A46.1 46.1 0 0 1 427.8 433.1L426.7 434.6A44.2 44.2 0 0 0 421.6 431.5ZM346.1 452.2A57.9 57.9 0 0 1 349.1 445L350.9 445.8A55.9 55.9 0 0 0 348 452.9ZM390.2 411.7A59.8 59.8 0 0 1 398.2 410.8L398.3 412.8A57.9 57.9 0 0 0 390.5 413.7ZM339.4 475.4A61.8 61.8 0 0 1 339.3 467L341.3 467.1A59.8 59.8 0 0 0 341.3 475.2Z"/>
<path fill="#b5ebfa" d="M439.3 470.6A38.3 38.3 0 0 1 438.9 475.8L437 475.5A36.3 36.3 0 0 0 437.3 470.6ZM362.8 473.5A38.3 38.3 0 0 1 362.8 468.3L364.7 468.5A36.3 36.3 0 0 0 364.8 473.4ZM368 493.7A40.3 40.3 0 0 1 365.2 489L366.9 488.1A38.3 38.3 0 0 0 369.6 492.5ZM365.2 489.1A40.3 40.3 0 0 1 363.1 484.1L364.9 483.4A38.3 38.3 0 0 0 367 488.2ZM382.7 510.8A44.2 44.2 0 0 1 377.4 507.9L378.4 506.3A42.2 42.2 0 0 0 383.5 509ZM381.8 430.8A44.2 44.2 0 0 1 387.4 428.6L388 430.4A42.2 42.2 0 0 0 382.7 432.6ZM428.5 507.7A46.1 46.1 0 0 1 423.2 511L422.3 509.3A44.2 44.2 0 0 0 427.3 506.1ZM384.3 419.3A54 54 0 0 1 391.4 417.5L391.7 419.4A52 52 0 0 0 384.9 421.2ZM383.7 417.4A55.9 55.9 0 0 1 391 415.6L391.4 417.5A54 54 0 0 0 384.3 419.3Z"/>
<path fill="#93e7fa" d="M439 475.7A38.3 38.3 0 0 1 437.9 480.8L436 480.3A36.3 36.3 0 0 0 437 475.4Z"/>
<path fill="#d4eefa" d="M437.9 480.7A38.3 38.3 0 0 1 436.2 485.6L434.4 484.8A36.3 36.3 0 0 0 436.1 480.2ZM375.4 511.3A48.1 48.1 0 0 1 370.1 507.5L371.4 506A46.1 46.1 0 0 0 376.5 509.7ZM362 436.2A52 52 0 0 1 367 431.2L368.3 432.7A50 50 0 0 0 363.5 437.5ZM348.2 481.9A54 54 0 0 1 347.2 474.6L349.1 474.5A52 52 0 0 0 350.1 481.5Z"/>
<path fill="#c6ecfa" d="M436.3 485.5A38.3 38.3 0 0 1 433.9 490.1L432.2 489.1A36.3 36.3 0 0 0 434.5 484.7ZM362.8 468.4A38.3 38.3 0 0 1 363.4 463.3L365.3 463.7A36.3 36.3 0 0 0 364.7 468.6Z"/>
<path fill="#cfeefa" d="M423.8 501.4A38.3 38.3 0 0 1 419.4 504.2L418.5 502.4A36.3 36.3 0 0 0 422.6 499.8ZM366.6 453.7A38.3 38.3 0 0 1 369.2 449.2L370.8 450.3A36.3 36.3 0 0 0 368.4 454.6ZM417.5 425.4A48.1 48.1 0 0 1 423.5 428.1L422.6 429.8A46.1 46.1 0 0 0 416.9 427.3ZM351 467.8A50 50 0 0 1 351.9 461L353.8 461.4A48.1 48.1 0 0 0 353 467.9ZM426.1 422.8A54 54 0 0 1 432.3 426.7L431.2 428.3A52 52 0 0 0 425.2 424.6ZM390.5 413.7A57.9 57.9 0 0 1 398.3 412.8L398.4 414.7A55.9 55.9 0 0 0 390.9 415.6Z"/>
<path fill="#84e6fa" d="M414.9 506.3A38.3 38.3 0 0 1 409.9 507.8L409.5 505.9A36.3 36.3 0 0 0 414.2 504.5Z"/>
<path fill="#85e6fa" d="M410 507.8A38.3 38.3 0 0 1 404.9 508.7L404.7 506.7A36.3 36.3 0 0 0 409.6 505.9Z"/>
<path fill="#60e2fa" d="M394.8 508.4A38.3 38.3 0 0 1 389.8 507.2L390.4 505.3A36.3 36.3 0 0 0 395.2 506.5Z"/>
<path fill="#cbedfa" d="M389.9 507.2A38.3 38.3 0 0 1 385 505.4L385.8 503.6A36.3 36.3 0 0 0 390.5 505.4ZM441.3 470.6A40.3 40.3 0 0 1 440.9 476.1L438.9 475.8A38.3 38.3 0 0 0 439.3 470.6ZM370.8 444A40.3 40.3 0 0 1 374.7 440.1L376 441.6A38.3 38.3 0 0 0 372.3 445.3ZM419.7 435A40.3 40.3 0 0 1 424.4 437.8L423.2 439.4A38.3 38.3 0 0 0 418.8 436.7ZM369.3 442.7A42.2 42.2 0 0 1 373.4 438.7L374.7 440.1A40.3 40.3 0 0 0 370.8 444ZM410.1 429.4A42.2 42.2 0 0 1 415.6 431L414.9 432.8A40.3 40.3 0 0 0 409.7 431.3ZM380.1 427.3A48.1 48.1 0 0 1 386.2 424.8L386.8 426.7A46.1 46.1 0 0 0 381 429ZM444.1 496A50 50 0 0 1 440.3 501.6L438.7 500.4A48.1 48.1 0 0 0 442.4 495ZM359.4 442.8A50 50 0 0 1 363.5 437.4L365 438.7A48.1 48.1 0 0 0 361 443.9ZM405.4 418.8A52 52 0 0 1 412.4 419.8L411.9 421.8A50 50 0 0 0 405.2 420.7ZM425.2 424.6A52 52 0 0 1 431.2 428.3L430.1 429.9A50 50 0 0 0 424.3 426.3ZM356.9 511.1A59.8 59.8 0 0 1 351.9 504.8L353.5 503.6A57.9 57.9 0 0 0 358.4 509.8ZM361.8 425.4A59.8 59.8 0 0 1 368.2 420.5L369.3 422.2A57.9 57.9 0 0 0 363 426.9ZM374.2 414.9A61.8 61.8 0 0 1 382 411.8L382.6 413.7A59.8 59.8 0 0 0 375 416.7Z"/>
<path fill="#a6e9fa" d="M380.6 503A38.3 38.3 0 0 1 376.4 500L377.7 498.5A36.3 36.3 0 0 0 381.7 501.4ZM416.3 509.9A42.2 42.2 0 0 1 410.9 511.6L410.4 509.7A40.3 40.3 0 0 0 415.6 508.1ZM357.6 486.1A46.1 46.1 0 0 1 355.9 480.1L357.8 479.7A44.2 44.2 0 0 0 359.4 485.5ZM447.1 490.1A50 50 0 0 1 444 496.1L442.4 495.1A48.1 48.1 0 0 0 445.3 489.3Z"/>
<path fill="#a4e9fa" d="M376.5 500A38.3 38.3 0 0 1 372.7 496.4L374.2 495.1A36.3 36.3 0 0 0 377.8 498.5ZM445.5 482.7A46.1 46.1 0 0 1 443.4 488.7L441.6 487.9A44.2 44.2 0 0 0 443.6 482.2Z"/>
<path fill="#fc9ab2" d="M367 488.2A38.3 38.3 0 0 1 364.9 483.4L366.8 482.7A36.3 36.3 0 0 0 368.7 487.3ZM368.5 500.5A44.2 44.2 0 0 1 364.7 495.8L366.3 494.7A42.2 42.2 0 0 0 369.9 499.2ZM355.2 502.6A55.9 55.9 0 0 1 351.2 496.1L353 495.2A54 54 0 0 0 356.8 501.5Z"/>
<path fill="#fe476e" d="M364.9 483.5A38.3 38.3 0 0 1 363.5 478.5L365.4 478.1A36.3 36.3 0 0 0 366.8 482.8Z"/>
<path fill="#fbbcce" d="M363.5 478.6A38.3 38.3 0 0 1 362.8 473.4L364.8 473.3A36.3 36.3 0 0 0 365.5 478.2ZM453.1 484.8A54 54 0 0 1 450.7 491.7L448.9 491A52 52 0 0 0 451.2 484.3Z"/>
<path fill="#fd6183" d="M363.4 463.4A38.3 38.3 0 0 1 364.7 458.4L366.6 459A36.3 36.3 0 0 0 365.3 463.8ZM369.2 449.3A38.3 38.3 0 0 1 372.3 445.2L373.8 446.5A36.3 36.3 0 0 0 370.8 450.4Z"/>
<path fill="#fc93ac" d="M364.7 458.5A38.3 38.3 0 0 1 366.7 453.6L368.4 454.5A36.3 36.3 0 0 0 366.5 459.1ZM452.5 477.5A52 52 0 0 1 451.1 484.4L449.2 483.9A50 50 0 0 0 450.6 477.2Z"/>
<path fill="#fbbacd" d="M375.9 441.7A38.3 38.3 0 0 1 380 438.6L381.1 440.2A36.3 36.3 0 0 0 377.2 443.2Z"/>
<path fill="#c7edfa" d="M380 438.6A38.3 38.3 0 0 1 384.5 436.1L385.3 437.8A36.3 36.3 0 0 0 381 440.2ZM371.4 497.8A40.3 40.3 0 0 1 367.9 493.6L369.6 492.5A38.3 38.3 0 0 0 372.8 496.5ZM409.7 431.3A40.3 40.3 0 0 1 414.9 432.8L414.3 434.7A38.3 38.3 0 0 0 409.3 433.2ZM414.8 432.8A40.3 40.3 0 0 1 419.8 435L418.9 436.8A38.3 38.3 0 0 0 414.2 434.6ZM392.6 425.2A46.1 46.1 0 0 1 398.9 424.5L399 426.5A44.2 44.2 0 0 0 393 427.2ZM412.4 517.3A48.1 48.1 0 0 1 405.9 518.4L405.7 516.5A46.1 46.1 0 0 0 411.9 515.4ZM353.8 461.5A48.1 48.1 0 0 1 355.4 455.2L357.3 455.9A46.1 46.1 0 0 0 355.7 461.9ZM424.3 426.3A50 50 0 0 1 430.1 429.9L428.9 431.5A48.1 48.1 0 0 0 423.4 428ZM362.7 505.8A52 52 0 0 1 358.3 500.3L359.9 499.2A50 50 0 0 0 364.2 504.5ZM352.5 446.8A54 54 0 0 1 356.2 440.5L357.8 441.6A52 52 0 0 0 354.3 447.7ZM406.9 526.2A55.9 55.9 0 0 1 399.3 526.5L399.3 524.5A54 54 0 0 0 406.7 524.3ZM364.3 428.4A55.9 55.9 0 0 1 370.4 423.8L371.5 425.4A54 54 0 0 0 365.6 429.9ZM363 426.9A57.9 57.9 0 0 1 369.3 422.2L370.4 423.8A55.9 55.9 0 0 0 364.3 428.4ZM342.2 459.3A59.8 59.8 0 0 1 344.3 451.5L346.2 452.1A57.9 57.9 0 0 0 344.2 459.7ZM398 408.9A61.8 61.8 0 0 1 406.4 409L406.2 411A59.8 59.8 0 0 0 398.1 410.8Z"/>
<path fill="#fc819d" d="M384.4 436.1A38.3 38.3 0 0 1 389.2 434.2L389.8 436A36.3 36.3 0 0 0 385.2 437.9Z"/>
<path fill="#fc8ca7" d="M389.1 434.2A38.3 38.3 0 0 1 394.2 432.9L394.5 434.8A36.3 36.3 0 0 0 389.7 436.1Z"/>
<path fill="#fbccdb" d="M394.1 432.9A38.3 38.3 0 0 1 399.2 432.3L399.3 434.3A36.3 36.3 0 0 0 394.4 434.9ZM377.5 508A44.2 44.2 0 0 1 372.6 504.5L373.9 503A42.2 42.2 0 0 0 378.5 506.3ZM356.9 468.1A44.2 44.2 0 0 1 357.6 462.2L359.6 462.5A42.2 42.2 0 0 0 358.9 468.2ZM370.2 507.6A48.1 48.1 0 0 1 365.5 503L367 501.7A46.1 46.1 0 0 0 371.5 506.1ZM392.6 521.9A52 52 0 0 1 385.8 520.3L386.3 518.5A50 50 0 0 0 393 520ZM413.7 523A54 54 0 0 1 406.5 524.3L406.3 522.3A52 52 0 0 0 413.3 521.1ZM375.4 526.8A61.8 61.8 0 0 1 368 522.8L369 521.2A59.8 59.8 0 0 0 376.2 525ZM361.5 518.1A61.8 61.8 0 0 1 355.4 512.3L356.8 511A59.8 59.8 0 0 0 362.7 516.6Z"/>
<path fill="#fc94ad" d="M399.1 432.4A38.3 38.3 0 0 1 404.3 432.5L404.2 434.4A36.3 36.3 0 0 0 399.2 434.3Z"/>
<path fill="#fbc3d4" d="M404.2 432.4A38.3 38.3 0 0 1 409.4 433.2L408.9 435.1A36.3 36.3 0 0 0 404.1 434.4ZM381 514.4A48.1 48.1 0 0 1 375.3 511.2L376.4 509.6A46.1 46.1 0 0 0 381.9 512.6ZM444.1 514.9A61.8 61.8 0 0 1 437.7 520.3L436.5 518.8A59.8 59.8 0 0 0 442.7 513.5Z"/>
<path fill="#fd5d80" d="M414.2 434.6A38.3 38.3 0 0 1 418.9 436.8L418 438.5A36.3 36.3 0 0 0 413.5 436.5Z"/>
<path fill="#fe3f68" d="M418.8 436.7A38.3 38.3 0 0 1 423.2 439.4L422.1 441A36.3 36.3 0 0 0 417.9 438.4Z"/>
<path fill="#fbc7d7" d="M439.8 481.2A40.3 40.3 0 0 1 438 486.4L436.2 485.6A38.3 38.3 0 0 0 437.9 480.7ZM364.8 495.9A44.2 44.2 0 0 1 361.7 490.8L363.4 489.9A42.2 42.2 0 0 0 366.4 494.8ZM456.9 470.6A55.9 55.9 0 0 1 456.4 478.2L454.5 477.9A54 54 0 0 0 455 470.6ZM391.1 531.6A61.8 61.8 0 0 1 382.9 529.7L383.5 527.8A59.8 59.8 0 0 0 391.4 529.7Z"/>
<path fill="#fc9db4" d="M438.1 486.3A40.3 40.3 0 0 1 435.6 491.1L433.9 490.1A38.3 38.3 0 0 0 436.3 485.5ZM377 523.3A57.9 57.9 0 0 1 370.1 519.5L371.1 517.9A55.9 55.9 0 0 0 377.8 521.5Z"/>
<path fill="#fc9cb3" d="M432.6 495.5A40.3 40.3 0 0 1 429 499.5L427.6 498.1A38.3 38.3 0 0 0 431.1 494.3Z"/>
<path fill="#fca9be" d="M429.1 499.5A40.3 40.3 0 0 1 424.9 503L423.7 501.4A38.3 38.3 0 0 0 427.7 498.1ZM399.7 516.7A46.1 46.1 0 0 1 393.5 516.1L393.8 514.2A44.2 44.2 0 0 0 399.8 514.8Z"/>
<path fill="#c0ecfa" d="M399.9 510.8A40.3 40.3 0 0 1 394.4 510.3L394.7 508.4A38.3 38.3 0 0 0 399.9 508.9ZM379.3 425.5A50 50 0 0 1 385.6 423L386.2 424.8A48.1 48.1 0 0 0 380.1 427.3ZM385.5 423A50 50 0 0 1 392.1 421.4L392.4 423.3A48.1 48.1 0 0 0 386.1 424.9ZM427.9 419.4A57.9 57.9 0 0 1 434.6 423.5L433.5 425.1A55.9 55.9 0 0 0 427 421.1ZM398.1 410.8A59.8 59.8 0 0 1 406.2 411L406 412.9A57.9 57.9 0 0 0 398.2 412.8Z"/>
<path fill="#fca0b7" d="M394.5 510.3A40.3 40.3 0 0 1 389.2 509.1L389.8 507.2A38.3 38.3 0 0 0 394.8 508.4ZM393.3 518.1A48.1 48.1 0 0 1 386.9 516.6L387.5 514.7A46.1 46.1 0 0 0 393.6 516.1ZM367.7 510.6A52 52 0 0 1 362.6 505.7L364.1 504.4A50 50 0 0 0 369 509.1ZM355.5 512.4A61.8 61.8 0 0 1 350.3 505.9L351.9 504.8A59.8 59.8 0 0 0 356.9 511.1Z"/>
<path fill="#fbcad9" d="M389.3 509.1A40.3 40.3 0 0 1 384.2 507.2L385 505.4A38.3 38.3 0 0 0 389.9 507.2ZM399 430.4A40.3 40.3 0 0 1 404.5 430.5L404.3 432.5A38.3 38.3 0 0 0 399.1 432.4ZM361.3 507.1A54 54 0 0 1 356.7 501.4L358.3 500.3A52 52 0 0 0 362.7 505.8ZM432.2 426.6A54 54 0 0 1 437.9 431.2L436.6 432.7A52 52 0 0 0 431.1 428.2Z"/>
<path fill="#fca4ba" d="M384.3 507.2A40.3 40.3 0 0 1 379.5 504.6L380.5 503A38.3 38.3 0 0 0 385.1 505.4Z"/>
<path fill="#fbb0c4" d="M379.6 504.7A40.3 40.3 0 0 1 375.2 501.5L376.4 500A38.3 38.3 0 0 0 380.6 503ZM374.6 440.2A40.3 40.3 0 0 1 379 436.9L380 438.6A38.3 38.3 0 0 0 375.9 441.7ZM411.9 515.4A46.1 46.1 0 0 1 405.7 516.5L405.5 514.5A44.2 44.2 0 0 0 411.4 513.5ZM448.7 477A48.1 48.1 0 0 1 447.4 483.4L445.5 482.9A46.1 46.1 0 0 0 446.7 476.7ZM418.5 515.4A48.1 48.1 0 0 1 412.2 517.4L411.8 515.5A46.1 46.1 0 0 0 417.8 513.6Z"/>
<path fill="#fcacc1" d="M375.2 501.5A40.3 40.3 0 0 1 371.3 497.8L372.7 496.4A38.3 38.3 0 0 0 376.5 500ZM451 470.6A50 50 0 0 1 450.6 477.4L448.6 477.1A48.1 48.1 0 0 0 449.1 470.6ZM369.2 521.3A59.8 59.8 0 0 1 362.6 516.5L363.8 515A57.9 57.9 0 0 0 370.2 519.6Z"/>
<path fill="#a7e9fa" d="M361.6 479A40.3 40.3 0 0 1 360.9 473.6L362.8 473.4A38.3 38.3 0 0 0 363.5 478.6ZM370.8 435.8A46.1 46.1 0 0 1 375.7 432L376.8 433.6A44.2 44.2 0 0 0 372 437.3ZM355.7 486.8A48.1 48.1 0 0 1 353.9 480.5L355.9 480.1A46.1 46.1 0 0 0 357.6 486.1ZM353 467.9A48.1 48.1 0 0 1 353.8 461.4L355.7 461.8A46.1 46.1 0 0 0 354.9 468ZM398.6 422.6A48.1 48.1 0 0 1 405.2 422.7L405 424.6A46.1 46.1 0 0 0 398.7 424.5ZM434.3 515.5A55.9 55.9 0 0 1 427.9 519.6L427 517.9A54 54 0 0 0 433.1 513.9Z"/>
<path fill="#b4ebfa" d="M360.9 473.7A40.3 40.3 0 0 1 360.8 468.2L362.8 468.3A38.3 38.3 0 0 0 362.8 473.5ZM374 503A42.2 42.2 0 0 1 369.8 499.1L371.3 497.8A40.3 40.3 0 0 0 375.2 501.5ZM443.6 482.2A44.2 44.2 0 0 1 441.6 487.9L439.8 487.1A42.2 42.2 0 0 0 441.7 481.7ZM357.6 462.3A44.2 44.2 0 0 1 359.1 456.5L361 457.1A42.2 42.2 0 0 0 359.5 462.7ZM381.9 512.6A46.1 46.1 0 0 1 376.4 509.6L377.4 507.9A44.2 44.2 0 0 0 382.7 510.8ZM392.3 423.3A48.1 48.1 0 0 1 398.8 422.6L398.9 424.5A46.1 46.1 0 0 0 392.6 425.2ZM391.6 419.5A52 52 0 0 1 398.6 418.6L398.7 420.6A50 50 0 0 0 391.9 421.4ZM455 470.6A54 54 0 0 1 454.5 477.9L452.5 477.6A52 52 0 0 0 453 470.6ZM345.2 474.9A55.9 55.9 0 0 1 345.2 467.3L347.1 467.4A54 54 0 0 0 347.2 474.8ZM446.5 506.4A57.9 57.9 0 0 1 441.2 512.2L439.9 510.8A55.9 55.9 0 0 0 445 505.2ZM346.5 490.1A57.9 57.9 0 0 1 344.4 482.5L346.3 482.1A55.9 55.9 0 0 0 348.3 489.4ZM428.8 417.6A59.8 59.8 0 0 1 435.8 421.9L434.6 423.5A57.9 57.9 0 0 0 427.9 419.4Z"/>
<path fill="#abeafa" d="M361.5 463A40.3 40.3 0 0 1 362.9 457.7L364.7 458.4A38.3 38.3 0 0 0 363.4 463.4ZM441.7 481.7A42.2 42.2 0 0 1 439.8 487.1L438 486.4A40.3 40.3 0 0 0 439.8 481.2ZM421.6 431.5A44.2 44.2 0 0 1 426.7 434.6L425.5 436.2A42.2 42.2 0 0 0 420.6 433.2ZM357.8 449.4A48.1 48.1 0 0 1 361.1 443.8L362.7 444.9A46.1 46.1 0 0 0 359.6 450.3ZM423.4 428A48.1 48.1 0 0 1 428.9 431.5L427.8 433.1A46.1 46.1 0 0 0 422.5 429.8ZM366.9 431.3A52 52 0 0 1 372.5 427.1L373.6 428.7A50 50 0 0 0 368.2 432.8ZM344.4 482.7A57.9 57.9 0 0 1 343.3 474.9L345.2 474.8A55.9 55.9 0 0 0 346.3 482.3ZM351.2 437.3A59.8 59.8 0 0 1 356.2 430.9L357.7 432.2A57.9 57.9 0 0 0 352.9 438.4Z"/>
<path fill="#fbaec3" d="M388.5 432.3A40.3 40.3 0 0 1 393.8 431L394.2 432.9A38.3 38.3 0 0 0 389.1 434.2ZM404.4 430.5A40.3 40.3 0 0 1 409.8 431.3L409.4 433.2A38.3 38.3 0 0 0 404.2 432.4Z"/>
<path fill="#fbadc1" d="M393.7 431A40.3 40.3 0 0 1 399.1 430.4L399.2 432.3A38.3 38.3 0 0 0 394.1 432.9Z"/>
<path fill="#fbcedd" d="M443.2 470.6A42.2 42.2 0 0 1 442.8 476.3L440.9 476.1A40.3 40.3 0 0 0 441.3 470.6ZM361.6 498.1A48.1 48.1 0 0 1 358.2 492.6L360 491.7A46.1 46.1 0 0 0 363.2 497Z"/>
<path fill="#fbc4d5" d="M442.8 476.2A42.2 42.2 0 0 1 441.7 481.8L439.8 481.3A40.3 40.3 0 0 0 440.9 475.9Z"/>
<path fill="#fbb7ca" d="M430.4 500.9A42.2 42.2 0 0 1 426.1 504.6L424.9 503A40.3 40.3 0 0 0 429.1 499.5ZM398.8 426.5A44.2 44.2 0 0 1 404.8 426.6L404.7 428.5A42.2 42.2 0 0 0 398.9 428.4ZM423.3 511A46.1 46.1 0 0 1 417.6 513.6L416.9 511.8A44.2 44.2 0 0 0 422.4 509.3ZM365.6 503.1A48.1 48.1 0 0 1 361.5 498L363.1 496.9A46.1 46.1 0 0 0 367 501.8Z"/>
<path fill="#fbafc3" d="M421.4 507.5A42.2 42.2 0 0 1 416.2 510L415.5 508.1A40.3 40.3 0 0 0 420.5 505.8ZM393 427.2A44.2 44.2 0 0 1 399 426.5L399 428.4A42.2 42.2 0 0 0 393.4 429.1ZM456.4 478A55.9 55.9 0 0 1 454.9 485.5L453 484.9A54 54 0 0 0 454.5 477.8ZM454.3 493.1A57.9 57.9 0 0 1 450.8 500.1L449.1 499.1A55.9 55.9 0 0 0 452.5 492.4Z"/>
<path fill="#a2e9fa" d="M405.4 512.6A42.2 42.2 0 0 1 399.7 512.8L399.8 510.8A40.3 40.3 0 0 0 405.2 510.6Z"/>
<path fill="#fbc2d3" d="M399.8 512.8A42.2 42.2 0 0 1 394.1 512.2L394.4 510.3A40.3 40.3 0 0 0 399.9 510.8ZM364.2 504.5A50 50 0 0 1 359.9 499.2L361.5 498A48.1 48.1 0 0 0 365.6 503.1ZM349.1 467.7A52 52 0 0 1 350 460.7L351.9 461A50 50 0 0 0 351 467.8ZM384.2 526A57.9 57.9 0 0 1 376.8 523.2L377.7 521.4A55.9 55.9 0 0 0 384.8 524.1Z"/>
<path fill="#fca3b9" d="M388.7 511A42.2 42.2 0 0 1 383.4 509L384.2 507.2A40.3 40.3 0 0 0 389.3 509.1ZM432 512.4A52 52 0 0 1 426 516.2L425.1 514.5A50 50 0 0 0 430.8 510.8ZM435.5 517.1A57.9 57.9 0 0 1 428.9 521.3L427.9 519.6A55.9 55.9 0 0 0 434.3 515.5Z"/>
<path fill="#fbbacc" d="M378.5 506.3A42.2 42.2 0 0 1 373.9 503L375.2 501.5A40.3 40.3 0 0 0 379.6 504.7ZM376.2 525A59.8 59.8 0 0 1 369 521.2L370.1 519.5A57.9 57.9 0 0 0 377 523.3Z"/>
<path fill="#fbcfde" d="M369.9 499.2A42.2 42.2 0 0 1 366.3 494.7L367.9 493.6A40.3 40.3 0 0 0 371.4 497.8ZM452.5 492.4A55.9 55.9 0 0 1 449.1 499.1L447.4 498.1A54 54 0 0 0 450.7 491.6ZM391.4 529.7A59.8 59.8 0 0 1 383.5 527.8L384 525.9A57.9 57.9 0 0 0 391.7 527.7Z"/>
<path fill="#fbbfd0" d="M358.9 473.8A42.2 42.2 0 0 1 358.9 468.1L360.8 468.2A40.3 40.3 0 0 0 360.9 473.7ZM446.7 476.7A46.1 46.1 0 0 1 445.5 482.9L443.6 482.3A44.2 44.2 0 0 0 444.8 476.5ZM454.9 485.3A55.9 55.9 0 0 1 452.5 492.5L450.7 491.7A54 54 0 0 0 453.1 484.8ZM358.4 509.8A57.9 57.9 0 0 1 353.5 503.6L355.1 502.5A55.9 55.9 0 0 0 359.8 508.4Z"/>
<path fill="#ccedfa" d="M358.9 468.2A42.2 42.2 0 0 1 359.6 462.5L361.5 462.9A40.3 40.3 0 0 0 360.8 468.3ZM444.8 476.5A44.2 44.2 0 0 1 443.6 482.3L441.7 481.8A42.2 42.2 0 0 0 442.8 476.2ZM443.5 488.6A46.1 46.1 0 0 1 440.7 494.1L439 493.1A44.2 44.2 0 0 0 441.7 487.8ZM360 491.8A46.1 46.1 0 0 1 357.5 486L359.4 485.4A44.2 44.2 0 0 0 361.8 490.9ZM360.5 434.9A54 54 0 0 1 365.7 429.8L367 431.2A52 52 0 0 0 362 436.2ZM340.3 459A61.8 61.8 0 0 1 342.4 450.8L344.3 451.5A59.8 59.8 0 0 0 342.2 459.3ZM345.5 443.4A61.8 61.8 0 0 1 349.7 436.1L351.3 437.2A59.8 59.8 0 0 0 347.3 444.3Z"/>
<path fill="#a9e9fa" d="M373.3 438.7A42.2 42.2 0 0 1 377.9 435.3L379 436.9A40.3 40.3 0 0 0 374.6 440.2ZM359.1 456.6A44.2 44.2 0 0 1 361.4 451L363.1 451.9A42.2 42.2 0 0 0 361 457.2ZM456.8 485.8A57.9 57.9 0 0 1 454.3 493.3L452.5 492.5A55.9 55.9 0 0 0 454.9 485.3ZM422.7 526.4A59.8 59.8 0 0 1 415 528.8L414.5 526.9A57.9 57.9 0 0 0 422 524.5ZM449.6 508.8A61.8 61.8 0 0 1 444 515L442.6 513.6A59.8 59.8 0 0 0 448 507.6Z"/>
<path fill="#bdecfa" d="M404.6 428.5A42.2 42.2 0 0 1 410.2 429.4L409.8 431.3A40.3 40.3 0 0 0 404.4 430.5ZM351.8 461.2A50 50 0 0 1 353.6 454.6L355.4 455.2A48.1 48.1 0 0 0 353.8 461.5ZM398.4 416.7A54 54 0 0 1 405.7 416.8L405.5 418.8A52 52 0 0 0 398.5 418.7ZM359 433.6A55.9 55.9 0 0 1 364.4 428.3L365.7 429.8A54 54 0 0 0 360.5 434.9ZM413.1 416A55.9 55.9 0 0 1 420.4 418.1L419.7 420A54 54 0 0 0 412.6 417.9ZM339.3 467.1A61.8 61.8 0 0 1 340.3 458.8L342.3 459.2A59.8 59.8 0 0 0 341.3 467.2Z"/>
<path fill="#baebfa" d="M441.7 487.8A44.2 44.2 0 0 1 439 493.1L437.3 492.1A42.2 42.2 0 0 0 439.9 487ZM347.3 444.3A59.8 59.8 0 0 1 351.3 437.2L353 438.3A57.9 57.9 0 0 0 349 445.1Z"/>
<path fill="#fc9eb5" d="M411.4 513.5A44.2 44.2 0 0 1 405.5 514.5L405.3 512.6A42.2 42.2 0 0 0 411 511.6ZM363.2 497A46.1 46.1 0 0 1 360 491.7L361.7 490.8A44.2 44.2 0 0 0 364.8 495.9Z"/>
<path fill="#fbd0de" d="M393.9 514.2A44.2 44.2 0 0 1 388.1 512.8L388.6 511A42.2 42.2 0 0 0 394.2 512.3Z"/>
<path fill="#c1ecfa" d="M404.7 426.6A44.2 44.2 0 0 1 410.6 427.5L410.2 429.4A42.2 42.2 0 0 0 404.6 428.5ZM398.7 424.5A46.1 46.1 0 0 1 405 424.6L404.8 426.6A44.2 44.2 0 0 0 398.8 426.5ZM453 470.6A52 52 0 0 1 452.5 477.6L450.6 477.4A50 50 0 0 0 451 470.6ZM354.3 447.7A52 52 0 0 1 357.8 441.6L359.5 442.7A50 50 0 0 0 356.1 448.6ZM354.6 429.7A61.8 61.8 0 0 1 360.6 423.8L361.9 425.3A59.8 59.8 0 0 0 356.1 431Z"/>
<path fill="#d1eefa" d="M426.6 434.6A44.2 44.2 0 0 1 431.2 438.4L429.9 439.8A42.2 42.2 0 0 0 425.4 436.2ZM366.4 440.1A46.1 46.1 0 0 1 370.8 435.7L372.1 437.2A44.2 44.2 0 0 0 367.9 441.4ZM420.2 418.1A55.9 55.9 0 0 1 427.2 421.2L426.2 422.9A54 54 0 0 0 419.5 419.9ZM369.2 422.2A57.9 57.9 0 0 1 376 418.4L376.9 420.1A55.9 55.9 0 0 0 370.3 423.9Z"/>
<path fill="#fbd3e0" d="M447.1 470.6A46.1 46.1 0 0 1 446.7 476.8L444.8 476.6A44.2 44.2 0 0 0 445.2 470.6ZM428 519.5A55.9 55.9 0 0 1 421.2 522.8L420.5 520.9A54 54 0 0 0 427.1 517.8ZM359.8 508.4A55.9 55.9 0 0 1 355.1 502.5L356.7 501.4A54 54 0 0 0 361.3 507.1Z"/>
<path fill="#fc8aa5" d="M440.7 494A46.1 46.1 0 0 1 437.2 499.2L435.7 498A44.2 44.2 0 0 0 439 493Z"/>
<path fill="#fbc9d8" d="M417.8 513.6A46.1 46.1 0 0 1 411.8 515.5L411.3 513.5A44.2 44.2 0 0 0 417 511.8Z"/>
<path fill="#fbb8cb" d="M387.6 514.7A46.1 46.1 0 0 1 381.8 512.5L382.6 510.7A44.2 44.2 0 0 0 388.2 512.9ZM374.4 513A50 50 0 0 1 368.9 509L370.1 507.5A48.1 48.1 0 0 0 375.4 511.3ZM391.7 527.7A57.9 57.9 0 0 1 384 525.9L384.6 524.1A55.9 55.9 0 0 0 392 525.8ZM352 504.9A59.8 59.8 0 0 1 347.8 497.9L349.5 497A57.9 57.9 0 0 0 353.6 503.8Z"/>
<path fill="#fbbdce" d="M354.9 468A46.1 46.1 0 0 1 355.7 461.8L357.6 462.2A44.2 44.2 0 0 0 356.9 468.1ZM399.6 520.6A50 50 0 0 1 392.8 520L393.2 518A48.1 48.1 0 0 0 399.6 518.7ZM349.8 453.5A54 54 0 0 1 352.6 446.7L354.4 447.6A52 52 0 0 0 351.7 454.1Z"/>
<path fill="#aeeafa" d="M449.1 470.6A48.1 48.1 0 0 1 448.6 477.1L446.7 476.8A46.1 46.1 0 0 0 447.1 470.6ZM374.6 430.4A48.1 48.1 0 0 1 380.3 427.2L381.1 429A46.1 46.1 0 0 0 375.6 432.1ZM449.3 483.8A50 50 0 0 1 447.1 490.2L445.2 489.4A48.1 48.1 0 0 0 447.4 483.3ZM353.5 454.7A50 50 0 0 1 356.1 448.4L357.9 449.3A48.1 48.1 0 0 0 355.4 455.4ZM378.4 423.7A52 52 0 0 1 385 421.1L385.6 423A50 50 0 0 0 379.3 425.5ZM377.6 422A54 54 0 0 1 384.4 419.3L385 421.1A52 52 0 0 0 378.4 423.7ZM344.2 451.6A59.8 59.8 0 0 1 347.3 444.1L349.1 445A57.9 57.9 0 0 0 346.1 452.2Z"/>
<path fill="#fbc3d3" d="M447.4 483.3A48.1 48.1 0 0 1 445.2 489.4L443.4 488.7A46.1 46.1 0 0 0 445.5 482.7ZM363.5 437.5A50 50 0 0 1 368.3 432.7L369.6 434.2A48.1 48.1 0 0 0 364.9 438.8Z"/>
<path fill="#fc98b0" d="M445.3 489.3A48.1 48.1 0 0 1 442.4 495.1L440.7 494.1A46.1 46.1 0 0 0 443.5 488.6Z"/>
<path fill="#fbc4d4" d="M406 518.4A48.1 48.1 0 0 1 399.5 518.7L399.6 516.7A46.1 46.1 0 0 0 405.8 516.5ZM378.6 519.7A54 54 0 0 1 372.2 516.2L373.2 514.6A52 52 0 0 0 379.4 517.9ZM429 521.3A57.9 57.9 0 0 1 421.9 524.6L421.2 522.8A55.9 55.9 0 0 0 428 519.5ZM364 515.1A57.9 57.9 0 0 1 358.3 509.7L359.7 508.3A55.9 55.9 0 0 0 365.2 513.6ZM414.3 410.3A61.8 61.8 0 0 1 422.4 412.6L421.7 414.5A59.8 59.8 0 0 0 413.9 412.2Z"/>
<path fill="#fbbdcf" d="M399.6 518.7A48.1 48.1 0 0 1 393.2 518L393.5 516.1A46.1 46.1 0 0 0 399.7 516.7ZM373.3 514.6A52 52 0 0 1 367.6 510.5L368.9 509A50 50 0 0 0 374.4 513ZM366.5 512.1A54 54 0 0 1 361.2 507L362.6 505.7A52 52 0 0 0 367.7 510.6Z"/>
<path fill="#b0eafa" d="M361 443.9A48.1 48.1 0 0 1 365 438.7L366.5 440A46.1 46.1 0 0 0 362.6 445ZM398.6 420.6A50 50 0 0 1 405.3 420.7L405.2 422.7A48.1 48.1 0 0 0 398.6 422.6ZM398.5 418.7A52 52 0 0 1 405.5 418.8L405.3 420.7A50 50 0 0 0 398.6 420.6ZM405.7 414.9A55.9 55.9 0 0 1 413.2 416L412.8 417.9A54 54 0 0 0 405.5 416.8ZM436.8 420.2A61.8 61.8 0 0 1 443.3 425.5L441.9 426.9A59.8 59.8 0 0 0 435.6 421.8Z"/>
<path fill="#fc89a4" d="M450.6 477.2A50 50 0 0 1 449.2 483.9L447.4 483.4A48.1 48.1 0 0 0 448.7 477ZM429.9 523A59.8 59.8 0 0 1 422.6 526.4L421.9 524.6A57.9 57.9 0 0 0 429 521.3Z"/>
<path fill="#fc88a3" d="M430.8 510.8A50 50 0 0 1 425.1 514.5L424.1 512.7A48.1 48.1 0 0 0 429.6 509.2ZM458.7 486.4A59.8 59.8 0 0 1 456.1 494L454.3 493.3A57.9 57.9 0 0 0 456.8 485.8Z"/>
<path fill="#fd7a97" d="M425.2 514.4A50 50 0 0 1 419.1 517.3L418.3 515.5A48.1 48.1 0 0 0 424.3 512.7Z"/>
<path fill="#fd7b99" d="M406.3 520.4A50 50 0 0 1 399.5 520.6L399.5 518.7A48.1 48.1 0 0 0 406 518.4Z"/>
<path fill="#fc96ae" d="M369 509.1A50 50 0 0 1 364.1 504.4L365.5 503A48.1 48.1 0 0 0 370.2 507.6Z"/>
<path fill="#fbd3e1" d="M405.2 420.7A50 50 0 0 1 411.9 421.8L411.5 423.7A48.1 48.1 0 0 0 405 422.7Z"/>
<path fill="#fbb7c9" d="M451.2 484.3A52 52 0 0 1 448.9 491L447.1 490.2A50 50 0 0 0 449.3 483.8ZM441.9 502.7A52 52 0 0 1 437.2 508L435.8 506.6A50 50 0 0 0 440.3 501.5ZM354.8 494.5A52 52 0 0 1 352 488L353.8 487.3A50 50 0 0 0 356.5 493.6Z"/>
<path fill="#fc90a9" d="M445.8 497A52 52 0 0 1 441.8 502.8L440.3 501.6A50 50 0 0 0 444.1 496Z"/>
<path fill="#fbcedc" d="M437.3 507.9A52 52 0 0 1 431.9 512.5L430.7 510.9A50 50 0 0 0 435.9 506.5ZM371.2 517.9A55.9 55.9 0 0 1 365.1 513.5L366.4 512A54 54 0 0 0 372.3 516.3Z"/>
<path fill="#fc809d" d="M419.9 519.1A52 52 0 0 1 413.1 521.2L412.7 519.3A50 50 0 0 0 419.2 517.2Z"/>
<path fill="#fca7bd" d="M406.5 522.3A52 52 0 0 1 399.4 522.6L399.5 520.6A50 50 0 0 0 406.3 520.4Z"/>
<path fill="#fbacc1" d="M379.4 517.9A52 52 0 0 1 373.2 514.6L374.3 512.9A50 50 0 0 0 380.2 516.1Z"/>
<path fill="#fbb5c8" d="M358.4 500.4A52 52 0 0 1 354.7 494.3L356.5 493.5A50 50 0 0 0 360 499.3Z"/>
<path fill="#fd6f8f" d="M454.5 477.8A54 54 0 0 1 453 484.9L451.1 484.4A52 52 0 0 0 452.5 477.5Z"/>
<path fill="#fc9cb4" d="M443.4 504A54 54 0 0 1 438.5 509.4L437.2 508A52 52 0 0 0 441.9 502.7ZM415.1 528.7A59.8 59.8 0 0 1 407.1 530.1L406.9 528.2A57.9 57.9 0 0 0 414.7 526.8Z"/>
<path fill="#fca6bc" d="M433.1 513.9A54 54 0 0 1 427 517.9L426 516.2A52 52 0 0 0 432 512.4Z"/>
<path fill="#fc9bb2" d="M427.1 517.8A54 54 0 0 1 420.5 520.9L419.8 519.1A52 52 0 0 0 426.2 516.1Z"/>
<path fill="#fd7392" d="M406.7 524.3A54 54 0 0 1 399.3 524.5L399.4 522.6A52 52 0 0 0 406.5 522.3Z"/>
<path fill="#fc9bb3" d="M385.3 522.2A54 54 0 0 1 378.5 519.6L379.3 517.9A52 52 0 0 0 385.9 520.4ZM349.6 497.2A57.9 57.9 0 0 1 346.4 490L348.3 489.3A55.9 55.9 0 0 0 351.3 496.3ZM399.3 530.4A59.8 59.8 0 0 1 391.2 529.6L391.6 527.7A57.9 57.9 0 0 0 399.4 528.5Z"/>
<path fill="#fca6bb" d="M356.8 501.5A54 54 0 0 1 353 495.2L354.7 494.3A52 52 0 0 0 358.4 500.4Z"/>
<path fill="#a9eafa" d="M365.6 429.9A54 54 0 0 1 371.5 425.4L372.5 427.1A52 52 0 0 0 366.9 431.3Z"/>
<path fill="#bcecfa" d="M412.6 417.9A54 54 0 0 1 419.7 420L419 421.8A52 52 0 0 0 412.2 419.8ZM399.3 532.4A61.8 61.8 0 0 1 390.9 531.6L391.2 529.6A59.8 59.8 0 0 0 399.3 530.4Z"/>
<path fill="#fbc7d6" d="M414.2 524.9A55.9 55.9 0 0 1 406.7 526.2L406.5 524.3A54 54 0 0 0 413.7 523Z"/>
<path fill="#fc85a1" d="M450.9 500A57.9 57.9 0 0 1 446.4 506.5L444.9 505.3A55.9 55.9 0 0 0 449.2 499Z"/>
<path fill="#fbc1d2" d="M441.4 512.1A57.9 57.9 0 0 1 435.4 517.2L434.2 515.6A55.9 55.9 0 0 0 440 510.7ZM353.6 503.8A57.9 57.9 0 0 1 349.5 497L351.2 496.1A55.9 55.9 0 0 0 355.2 502.6Z"/>
<path fill="#fc97b0" d="M422 524.5A57.9 57.9 0 0 1 414.5 526.9L414.1 525A55.9 55.9 0 0 0 421.3 522.7Z"/>
<path fill="#fd7b98" d="M414.7 526.8A57.9 57.9 0 0 1 406.9 528.2L406.7 526.2A55.9 55.9 0 0 0 414.2 524.9Z"/>
<path fill="#fbb2c6" d="M456.1 493.9A59.8 59.8 0 0 1 452.5 501.1L450.8 500.1A57.9 57.9 0 0 0 454.3 493.1ZM407.5 532.1A61.8 61.8 0 0 1 399.1 532.4L399.2 530.4A59.8 59.8 0 0 0 407.3 530.1Z"/>
<path fill="#fbb1c5" d="M436.6 518.7A59.8 59.8 0 0 1 429.8 523.1L428.9 521.3A57.9 57.9 0 0 0 435.5 517.1Z"/>
<path fill="#fcabc0" d="M454.2 502A61.8 61.8 0 0 1 449.5 508.9L447.9 507.7A59.8 59.8 0 0 0 452.5 501Z"/>
<path fill="#fca2b8" d="M346.1 499A61.8 61.8 0 0 1 342.8 491.3L344.6 490.6A59.8 59.8 0 0 0 347.8 498.1Z"/>
<path fill="#c040d0" d="M427.1 442.7A38.2 38.2 0 0 1 430 445.8L422.7 452.1A28.5 28.5 0 0 0 420.4 449.8Z"/>
<text x="425.1" y="448.3" font-size="2.2" text-anchor="middle" fill="#111" transform="rotate(316.2 425.1 448.3)">Cluster2</text>
<path fill="#80f060" d="M443.1 425.4A61.8 61.8 0 0 1 448 430.5L430 445.8A38.2 38.2 0 0 0 427.1 442.7Z"/>
<text x="437.1" y="437.1" font-size="3.0" text-anchor="middle" fill="#111" transform="rotate(316.2 437.1 437.1)">Cluster1</text>
<text x="464.5" y="473.7" font-size="3.9" transform="rotate(2.8 464.5 473.7)" dominant-baseline="central">ZNF559</text>
<text x="463.6" y="482.1" font-size="3.9" transform="rotate(10.4 463.6 482.1)" dominant-baseline="central">ZNF100</text>
<text x="461.5" y="490.3" font-size="3.9" transform="rotate(18 461.5 490.3)" dominant-baseline="central">MMP9</text>
<text x="458.4" y="498.1" font-size="3.9" transform="rotate(25.6 458.4 498.1)" dominant-baseline="central">CCL18</text>
<text x="454.2" y="505.4" font-size="3.9" transform="rotate(33.2 454.2 505.4)" dominant-baseline="central">MEC3</text>
<text x="449.1" y="512.2" font-size="3.9" transform="rotate(40.8 449.1 512.2)" dominant-baseline="central">TH-L</text>
<text x="443.2" y="518.2" font-size="3.9" transform="rotate(48.4 443.2 518.2)" dominant-baseline="central">TEX6</text>
<text x="436.6" y="523.3" font-size="3.9" transform="rotate(56 436.6 523.3)" dominant-baseline="central">TMSB15</text>
<text x="429.3" y="527.6" font-size="3.9" transform="rotate(63.6 429.3 527.6)" dominant-baseline="central">MMP12</text>
<text x="421.5" y="530.8" font-size="3.9" transform="rotate(71.2 421.5 530.8)" dominant-baseline="central">DNASE2B</text>
<text x="413.4" y="533" font-size="3.9" transform="rotate(78.8 413.4 533)" dominant-baseline="central">MS4A6E</text>
<text x="405" y="534.1" font-size="3.9" transform="rotate(86.4 405 534.1)" dominant-baseline="central">VSIG4</text>
<text x="396.6" y="534" font-size="3.9" text-anchor="end" transform="rotate(-86 396.6 534)" dominant-baseline="central">FCGBP</text>
<text x="388.2" y="532.9" font-size="3.9" text-anchor="end" transform="rotate(-78.4 388.2 532.9)" dominant-baseline="central">UGT1A7</text>
<text x="380.1" y="530.7" font-size="3.9" text-anchor="end" transform="rotate(-70.8 380.1 530.7)" dominant-baseline="central">CHIT1</text>
<text x="372.3" y="527.4" font-size="3.9" text-anchor="end" transform="rotate(-63.2 372.3 527.4)" dominant-baseline="central">ARHGEF</text>
<text x="365.1" y="523.1" font-size="3.9" text-anchor="end" transform="rotate(-55.6 365.1 523.1)" dominant-baseline="central">AADACL3</text>
<text x="358.4" y="517.9" font-size="3.9" text-anchor="end" transform="rotate(-48 358.4 517.9)" dominant-baseline="central">CRTC3</text>
<text x="352.6" y="511.8" font-size="3.9" text-anchor="end" transform="rotate(-40.4 352.6 511.8)" dominant-baseline="central">DPP6</text>
<text x="347.5" y="505.1" font-size="3.9" text-anchor="end" transform="rotate(-32.8 347.5 505.1)" dominant-baseline="central">ARHGEF4</text>
<text x="343.5" y="497.7" font-size="3.9" text-anchor="end" transform="rotate(-25.2 343.5 497.7)" dominant-baseline="central">EGFL6</text>
<text x="340.4" y="489.8" font-size="3.9" text-anchor="end" transform="rotate(-17.6 340.4 489.8)" dominant-baseline="central">OBLNA</text>
<text x="338.4" y="481.6" font-size="3.9" text-anchor="end" transform="rotate(-10 338.4 481.6)" dominant-baseline="central">SLC27A2</text>
<text x="337.5" y="473.3" font-size="3.9" text-anchor="end" transform="rotate(-2.4 337.5 473.3)" dominant-baseline="central">CA3</text>
<text x="337.7" y="464.8" font-size="3.9" text-anchor="end" transform="rotate(5.2 337.7 464.8)" dominant-baseline="central">UGT8</text>
<text x="339" y="456.5" font-size="3.9" text-anchor="end" transform="rotate(12.8 339 456.5)" dominant-baseline="central">BCAN1</text>
<text x="341.4" y="448.4" font-size="3.9" text-anchor="end" transform="rotate(20.4 341.4 448.4)" dominant-baseline="central">PLG</text>
<text x="344.8" y="440.7" font-size="3.9" text-anchor="end" transform="rotate(28 344.8 440.7)" dominant-baseline="central">PAMR</text>
<text x="349.3" y="433.6" font-size="3.9" text-anchor="end" transform="rotate(35.6 349.3 433.6)" dominant-baseline="central">SLITRK3</text>
<text x="354.6" y="427.1" font-size="3.9" text-anchor="end" transform="rotate(43.2 354.6 427.1)" dominant-baseline="central">SOX21</text>
<text x="360.8" y="421.3" font-size="3.9" text-anchor="end" transform="rotate(50.8 360.8 421.3)" dominant-baseline="central">CK20</text>
<text x="367.7" y="416.4" font-size="3.9" text-anchor="end" transform="rotate(58.4 367.7 416.4)" dominant-baseline="central">EVR2</text>
<text x="375.1" y="412.5" font-size="3.9" text-anchor="end" transform="rotate(66 375.1 412.5)" dominant-baseline="central">CDC2</text>
<text x="383" y="409.6" font-size="3.9" text-anchor="end" transform="rotate(73.6 383 409.6)" dominant-baseline="central">USHC</text>
<text x="391.3" y="407.7" font-size="3.9" text-anchor="end" transform="rotate(81.2 391.3 407.7)" dominant-baseline="central">MN1</text>
<text x="399.7" y="407" font-size="3.9" text-anchor="end" transform="rotate(88.8 399.7 407)" dominant-baseline="central">ITE</text>
<text x="408.1" y="407.4" font-size="3.9" transform="rotate(276.4 408.1 407.4)" dominant-baseline="central">ANGPTL7</text>
<text x="416.4" y="408.9" font-size="3.9" transform="rotate(284 416.4 408.9)" dominant-baseline="central">SPX2</text>
<text x="424.4" y="411.5" font-size="3.9" transform="rotate(291.6 424.4 411.5)" dominant-baseline="central">NOX62</text>
<text x="432" y="415.1" font-size="3.9" transform="rotate(299.2 432 415.1)" dominant-baseline="central">UMG2</text>
<text x="439.1" y="419.7" font-size="3.9" transform="rotate(306.8 439.1 419.7)" dominant-baseline="central">TIMP1</text>
<linearGradient id="g401470" x1="0" y1="0" x2="0" y2="1"><stop offset="0" stop-color="#ff0a3c"/><stop offset="0.2" stop-color="#fd577b"/><stop offset="0.4" stop-color="#fca5bb"/><stop offset="0.6" stop-color="#faf2fa"/><stop offset="0.8" stop-color="#9be8fa"/><stop offset="1" stop-color="#3cdefa"/></linearGradient>
<text x="397.1" y="461.6" font-size="3.3" fill="#222">Exp</text>
<rect x="397.1" y="463.4" width="4.4" height="19.6" fill="url(#g401470)"/>
<text x="402.2" y="464.8" font-size="3.0" fill="#222">4</text>
<text x="402.2" y="469.7" font-size="3.0" fill="#222">2</text>
<text x="402.2" y="474.3" font-size="3.0" fill="#222">0</text>
<text x="402.2" y="479.1" font-size="3.0" fill="#222">−2</text>
<text x="402.2" y="483.1" font-size="3.0" fill="#222">−4</text>
<circle cx="215.1" cy="634.2" r="50.3" fill="#b4fee0"/>
<circle cx="282.4" cy="634.3" r="50.1" fill="#ffc3a0"/>
<clipPath id="vl"><circle cx="215.1" cy="634.2" r="50.3"/></clipPath>
<circle cx="282.4" cy="634.3" r="50.1" fill="#d4c492" clip-path="url(#vl)"/>
<text x="208.4" y="632" font-size="7.3" text-anchor="middle" fill="#111">328</text>
<text x="208.4" y="642.8" font-size="7.3" text-anchor="middle" fill="#111">(15.8%)</text>
<text x="248.7" y="632" font-size="7.3" text-anchor="middle" fill="#111">432</text>
<text x="248.8" y="642.6" font-size="7.3" text-anchor="middle" fill="#111">(20.8%)</text>
<text x="289.2" y="632" font-size="7.3" text-anchor="middle" fill="#111">1317</text>
<text x="289.2" y="642.6" font-size="7.3" text-anchor="middle" fill="#111">(63.4%)</text>
<text x="208.2" y="574.3" font-size="7.3" text-anchor="middle" fill="#111">DEGs1</text>
<text x="288.7" y="574" font-size="7.3" text-anchor="middle" fill="#111">DEGs2</text>
</svg>
</body></html>
